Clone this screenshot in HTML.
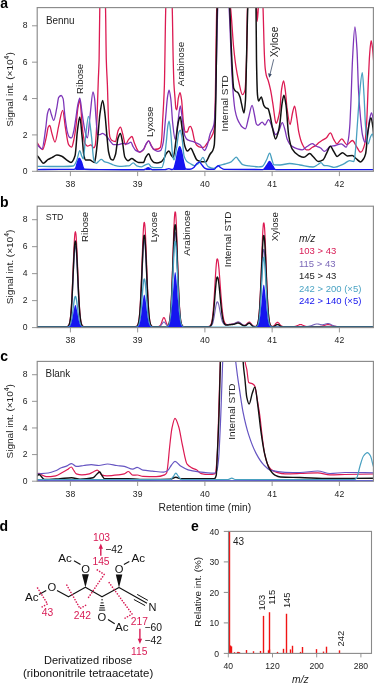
<!DOCTYPE html>
<html><head><meta charset="utf-8"><style>html,body{margin:0;padding:0;background:#fff;width:374px;height:685px;overflow:hidden}svg{display:block}</style></head><body>
<svg width="374" height="685" viewBox="0 0 374 685" font-family='"Liberation Sans", sans-serif'>
<rect width="374" height="685" fill="#fff"/>
<text x="0.3" y="8.2" font-size="14" font-weight="bold" fill="#000">a</text>
<text x="-0.1" y="206.8" font-size="14" font-weight="bold" fill="#000">b</text>
<text x="0.3" y="360.7" font-size="14" font-weight="bold" fill="#000">c</text>
<text x="-0.6" y="530.6" font-size="14" font-weight="bold" fill="#000">d</text>
<text x="191" y="531.1" font-size="14" font-weight="bold" fill="#000">e</text>
<defs><clipPath id="clipa"><rect x="37.2" y="7.6" width="336.2" height="163.70000000000002"/></clipPath><clipPath id="clipb"><rect x="37.2" y="206.2" width="336.2" height="121.40000000000003"/></clipPath><clipPath id="clipc"><rect x="37.2" y="361.4" width="336.2" height="119.80000000000001"/></clipPath></defs>
<g clip-path="url(#clipa)">
<path d="M36.00,141.50C36.33,141.90 36.67,142.30 37.00,142.70C38.87,144.95 40.73,149.50 42.60,149.50C43.83,149.50 45.07,142.25 46.30,137.10C46.93,134.46 47.57,128.46 48.20,127.20C48.70,126.20 49.20,125.30 49.70,125.30C50.43,125.30 51.17,131.05 51.90,133.40C52.93,136.72 53.97,142.10 55.00,142.10C56.23,142.10 57.47,130.97 58.70,125.90C60.03,120.41 61.37,110.40 62.70,110.40C63.63,110.40 64.57,123.01 65.50,128.40C66.53,134.37 67.57,143.07 68.60,144.60C69.60,146.08 70.60,147.20 71.60,147.20C72.33,147.20 73.07,143.14 73.80,140.00C74.43,137.29 75.07,133.08 75.70,128.50C76.47,122.95 77.23,111.61 78.00,107.50C78.60,104.28 79.20,100.50 79.80,100.50C80.77,100.50 81.73,123.95 82.70,130.90C83.47,136.41 84.23,142.43 85.00,143.70C85.83,145.08 86.67,146.10 87.50,146.10C88.63,146.10 89.77,144.90 90.90,144.90C91.87,144.90 92.83,147.80 93.80,147.80C94.27,147.80 94.73,146.89 95.20,145.50C95.53,144.51 95.87,139.46 96.20,134.60C96.57,129.26 96.93,119.42 97.30,110.00C97.63,101.44 97.97,89.06 98.30,80.00C98.57,72.75 98.83,70.12 99.10,60.00C99.33,51.14 99.57,13.44 99.80,7.30C100.73,-17.26 101.67,-30.00 102.60,-30.00C103.57,-30.00 104.53,-16.54 105.50,7.30C105.77,13.88 106.03,50.75 106.30,60.00C106.67,72.72 107.03,75.40 107.40,85.00C107.80,95.47 108.20,115.46 108.60,122.20C109.03,129.50 109.47,135.75 109.90,137.10C110.50,138.97 111.10,139.83 111.70,140.20C112.97,140.99 114.23,141.50 115.50,141.50C116.33,141.50 117.17,132.78 118.00,130.90C118.80,129.10 119.60,127.20 120.40,127.20C121.23,127.20 122.07,131.76 122.90,134.60C123.73,137.44 124.57,144.60 125.40,144.60C126.43,144.60 127.47,140.81 128.50,139.60C129.63,138.27 130.77,136.50 131.90,136.50C132.70,136.50 133.50,140.76 134.30,142.70C135.43,145.45 136.57,148.88 137.70,150.40C138.33,151.25 138.97,152.30 139.60,152.30C140.87,152.30 142.13,151.20 143.40,149.90C144.20,149.08 145.00,145.93 145.80,144.60C146.77,143.00 147.73,140.80 148.70,140.80C149.67,140.80 150.63,144.56 151.60,146.10C152.40,147.37 153.20,149.50 154.00,149.50C155.30,149.50 156.60,149.29 157.90,149.00C158.70,148.82 159.50,148.48 160.30,147.50C160.77,146.93 161.23,143.38 161.70,138.90C162.03,135.70 162.37,125.68 162.70,119.60C163.00,114.13 163.30,110.03 163.60,104.00C163.87,98.64 164.13,93.56 164.40,85.00C164.87,70.02 165.33,17.13 165.80,7.30C166.87,-15.16 167.93,-30.00 169.00,-30.00C170.07,-30.00 171.13,-15.61 172.20,7.30C172.53,14.46 172.87,47.04 173.20,60.00C173.47,70.36 173.73,80.11 174.00,85.00C174.33,91.12 174.67,93.59 175.00,97.70C175.30,101.40 175.60,107.73 175.90,108.50C176.20,109.27 176.50,109.80 176.80,109.80C177.33,109.80 177.87,100.00 178.40,97.70C178.97,95.26 179.53,92.60 180.10,92.60C180.60,92.60 181.10,96.69 181.60,100.20C182.23,104.65 182.87,118.83 183.50,123.10C184.13,127.37 184.77,132.00 185.40,132.00C186.03,132.00 186.67,132.00 187.30,132.00C187.93,132.00 188.57,127.38 189.20,126.90C189.63,126.57 190.07,126.30 190.50,126.30C191.13,126.30 191.77,128.74 192.40,130.70C193.03,132.66 193.67,137.63 194.30,139.60C195.13,142.20 195.97,144.50 196.80,145.30C197.87,146.33 198.93,147.09 200.00,147.20C201.20,147.32 202.40,147.40 203.60,147.40C204.73,147.40 205.87,144.96 207.00,143.50C208.07,142.12 209.13,140.75 210.20,138.80C211.57,136.30 212.93,136.14 214.30,128.60C214.63,126.76 214.97,113.97 215.30,100.00C215.53,90.22 215.77,64.30 216.00,50.00C216.27,33.66 216.53,10.93 216.80,7.30C218.87,-20.81 220.93,-30.00 223.00,-30.00C225.50,-30.00 228.00,-11.69 230.50,7.30C231.57,15.40 232.63,37.44 233.70,48.00C234.47,55.59 235.23,62.02 236.00,67.00C236.83,72.41 237.67,76.67 238.50,80.30C239.83,86.11 241.17,94.70 242.50,94.70C243.33,94.70 244.17,93.03 245.00,89.90C245.50,88.02 246.00,74.91 246.50,60.00C246.83,50.06 247.17,12.95 247.50,7.30C249.00,-18.11 250.50,-30.00 252.00,-30.00C253.50,-30.00 255.00,-13.64 256.50,7.30C256.70,10.09 256.90,21.40 257.10,21.40C257.53,21.40 257.97,12.57 258.40,7.30C259.27,-3.24 260.13,-30.00 261.00,-30.00C261.67,-30.00 262.33,-9.05 263.00,7.30C263.47,18.75 263.93,44.83 264.40,55.00C264.67,60.81 264.93,65.91 265.20,68.40C265.57,71.83 265.93,73.82 266.30,75.30C267.00,78.13 267.70,78.87 268.40,81.20C269.13,83.64 269.87,86.64 270.60,90.20C271.43,94.25 272.27,100.01 273.10,105.30C273.93,110.59 274.77,119.90 275.60,122.00C275.87,122.67 276.13,123.40 276.40,123.40C276.93,123.40 277.47,120.86 278.00,119.00C278.60,116.91 279.20,114.45 279.80,110.30C280.37,106.38 280.93,93.63 281.50,90.00C282.20,85.51 282.90,81.00 283.60,81.00C284.23,81.00 284.87,87.19 285.50,92.00C286.00,95.80 286.50,104.29 287.00,108.00C288.03,115.66 289.07,124.60 290.10,124.60C290.90,124.60 291.70,116.12 292.50,113.00C293.20,110.27 293.90,106.10 294.60,106.10C295.33,106.10 296.07,113.50 296.80,118.00C297.47,122.09 298.13,128.91 298.80,132.10C299.93,137.53 301.07,141.60 302.20,143.90C303.60,146.74 305.00,149.80 306.40,149.80C307.23,149.80 308.07,149.80 308.90,149.80C309.93,149.80 310.97,148.14 312.00,147.50C313.20,146.76 314.40,146.40 315.60,145.60C316.73,144.84 317.87,143.39 319.00,142.50C320.10,141.63 321.20,140.89 322.30,140.20C323.60,139.39 324.90,139.00 326.20,138.00C327.60,136.93 329.00,132.90 330.40,132.90C331.53,132.90 332.67,137.75 333.80,139.60C334.80,141.23 335.80,143.80 336.80,143.80C338.47,143.80 340.13,138.80 341.80,138.80C343.47,138.80 345.13,144.70 346.80,144.70C348.70,144.70 350.60,140.50 352.50,140.50C353.80,140.50 355.10,144.42 356.40,146.30C357.80,148.32 359.20,152.20 360.60,152.20C362.00,152.20 363.40,149.04 364.80,143.80C365.47,141.31 366.13,130.89 366.80,120.00C367.33,111.29 367.87,92.07 368.40,80.00C368.80,70.95 369.20,60.33 369.60,55.00C370.10,48.34 370.60,40.60 371.10,40.60C371.57,40.60 372.03,44.65 372.50,48.00C373.00,51.59 373.50,59.33 374.00,65.00" fill="none" stroke="#dc1a52" stroke-width="1.3" stroke-linejoin="round"/>
<path d="M36.00,144.00C36.33,144.20 36.67,144.37 37.00,144.60C38.67,145.73 40.33,148.90 42.00,148.90C43.23,148.90 44.47,136.78 45.70,128.40C46.30,124.32 46.90,115.87 47.50,113.50C48.13,111.00 48.77,108.60 49.40,108.60C50.03,108.60 50.67,112.45 51.30,114.20C52.10,116.41 52.90,120.40 53.70,120.40C54.77,120.40 55.83,112.38 56.90,107.30C57.50,104.44 58.10,98.24 58.70,97.40C59.53,96.24 60.37,95.50 61.20,95.50C61.83,95.50 62.47,96.82 63.10,98.60C63.70,100.29 64.30,111.31 64.90,116.00C65.73,122.51 66.57,129.04 67.40,132.10C68.03,134.42 68.67,136.70 69.30,137.10C70.07,137.58 70.83,137.90 71.60,137.90C72.33,137.90 73.07,134.08 73.80,131.00C74.43,128.34 75.07,123.25 75.70,119.20C76.47,114.30 77.23,107.28 78.00,104.00C78.60,101.44 79.20,98.20 79.80,98.20C80.57,98.20 81.33,108.55 82.10,113.40C83.07,119.51 84.03,127.14 85.00,130.90C85.80,134.01 86.60,137.90 87.40,137.90C88.37,137.90 89.33,121.34 90.30,113.40C91.20,106.01 92.10,91.80 93.00,91.80C93.50,91.80 94.00,94.87 94.50,98.00C95.03,101.34 95.57,112.80 96.10,119.20C96.57,124.80 97.03,134.60 97.50,134.60C98.33,134.60 99.17,134.60 100.00,134.60C100.80,134.60 101.60,133.40 102.40,133.40C103.67,133.40 104.93,134.78 106.20,135.90C107.43,136.99 108.67,139.37 109.90,140.80C111.13,142.23 112.37,144.60 113.60,144.60C115.27,144.60 116.93,144.60 118.60,144.60C120.23,144.60 121.87,143.30 123.50,143.30C124.77,143.30 126.03,143.80 127.30,143.80C128.53,143.80 129.77,142.10 131.00,142.10C131.60,142.10 132.20,145.02 132.80,146.10C133.77,147.85 134.73,149.79 135.70,150.40C137.00,151.22 138.30,151.90 139.60,151.90C140.87,151.90 142.13,150.74 143.40,149.50C144.37,148.55 145.33,145.15 146.30,143.70C147.10,142.50 147.90,140.80 148.70,140.80C149.50,140.80 150.30,144.31 151.10,145.60C152.07,147.16 153.03,148.79 154.00,149.50C155.30,150.45 156.60,151.40 157.90,151.40C158.87,151.40 159.83,151.02 160.80,150.40C161.60,149.89 162.40,146.61 163.20,142.70C164.03,138.63 164.87,125.49 165.70,116.70C166.33,110.02 166.97,100.15 167.60,96.40C168.10,93.44 168.60,90.10 169.10,90.10C169.67,90.10 170.23,94.83 170.80,99.00C171.43,103.66 172.07,117.52 172.70,123.10C173.53,130.44 174.37,139.60 175.20,139.60C176.07,139.60 176.93,128.81 177.80,123.10C178.63,117.61 179.47,106.00 180.30,106.00C180.93,106.00 181.57,113.85 182.20,118.00C183.07,123.68 183.93,133.65 184.80,135.80C185.63,137.86 186.47,139.05 187.30,139.60C188.37,140.30 189.43,140.52 190.50,140.90C191.77,141.35 193.03,141.63 194.30,142.10C196.20,142.80 198.10,143.41 200.00,144.70C201.53,145.74 203.07,150.50 204.60,150.50C205.40,150.50 206.20,147.98 207.00,146.00C208.07,143.35 209.13,136.88 210.20,133.70C211.40,130.12 212.60,130.22 213.80,125.00C214.27,122.97 214.73,117.88 215.20,110.00C215.63,102.69 216.07,77.10 216.50,60.00C216.93,42.90 217.37,13.44 217.80,7.30C219.53,-17.26 221.27,-30.00 223.00,-30.00C225.00,-30.00 227.00,-14.47 229.00,7.30C229.50,12.74 230.00,28.73 230.50,40.00C231.00,51.27 231.50,65.99 232.00,75.00C232.50,84.01 233.00,91.55 233.50,97.00C234.00,102.45 234.50,107.29 235.00,110.00C235.77,114.15 236.53,116.70 237.30,118.70C238.20,121.05 239.10,122.57 240.00,124.00C240.77,125.22 241.53,126.49 242.30,127.10C243.33,127.92 244.37,128.80 245.40,128.80C246.43,128.80 247.47,121.62 248.50,118.00C249.70,113.79 250.90,105.30 252.10,105.30C252.90,105.30 253.70,111.44 254.50,115.00C255.10,117.67 255.70,122.91 256.30,123.80C256.87,124.64 257.43,125.30 258.00,125.30C259.40,125.30 260.80,122.10 262.20,122.10C263.13,122.10 264.07,125.00 265.00,125.00C266.17,125.00 267.33,119.60 268.50,119.60C269.73,119.60 270.97,124.48 272.20,127.10C273.33,129.51 274.47,134.70 275.60,134.70C276.73,134.70 277.87,132.35 279.00,130.50C280.10,128.70 281.20,122.60 282.30,122.60C283.20,122.60 284.10,126.98 285.00,130.00C285.70,132.35 286.40,137.24 287.10,138.90C288.77,142.85 290.43,145.41 292.10,146.40C295.47,148.39 298.83,149.80 302.20,149.80C303.80,149.80 305.40,147.49 307.00,146.50C308.73,145.43 310.47,143.60 312.20,143.60C313.47,143.60 314.73,145.34 316.00,146.00C317.53,146.79 319.07,147.10 320.60,148.00C321.90,148.76 323.20,151.40 324.50,151.40C326.47,151.40 328.43,146.82 330.40,146.30C332.07,145.86 333.73,145.84 335.40,145.50C337.37,145.10 339.33,143.80 341.30,143.80C342.97,143.80 344.63,147.20 346.30,147.20C346.97,147.20 347.63,143.55 348.30,140.00C348.77,137.51 349.23,133.02 349.70,127.00C350.13,121.41 350.57,110.09 351.00,100.00C351.50,88.36 352.00,69.30 352.50,60.00C353.30,45.12 354.10,27.00 354.90,27.00C355.60,27.00 356.30,38.87 357.00,50.00C357.50,57.95 358.00,80.80 358.50,90.00C359.20,102.88 359.90,111.35 360.60,118.70C361.23,125.35 361.87,132.08 362.50,135.00C363.27,138.53 364.03,142.10 364.80,142.10C365.63,142.10 366.47,138.73 367.30,135.50C368.03,132.66 368.77,123.48 369.50,120.00C370.17,116.84 370.83,112.80 371.50,112.80C372.00,112.80 372.50,115.63 373.00,118.00C373.33,119.58 373.67,122.67 374.00,125.00" fill="none" stroke="#7d35b8" stroke-width="1.3" stroke-linejoin="round"/>
<path d="M36.00,155.50C36.33,155.57 36.67,155.60 37.00,155.70C38.03,156.02 39.07,158.15 40.10,159.40C41.13,160.65 42.17,163.20 43.20,163.20C44.87,163.20 46.53,160.38 48.20,159.40C49.43,158.68 50.67,158.21 51.90,157.60C53.57,156.78 55.23,155.10 56.90,155.10C58.53,155.10 60.17,155.70 61.80,156.30C63.47,156.92 65.13,159.04 66.80,160.10C68.20,160.99 69.60,162.40 71.00,162.40C72.37,162.40 73.73,159.71 75.10,155.40C75.87,152.98 76.63,136.69 77.40,130.90C78.20,124.86 79.00,116.90 79.80,116.90C80.57,116.90 81.33,129.45 82.10,136.70C82.70,142.37 83.30,152.79 83.90,155.40C84.47,157.86 85.03,160.10 85.60,160.10C86.97,160.10 88.33,160.10 89.70,160.10C91.27,160.10 92.83,162.40 94.40,162.40C94.77,162.40 95.13,159.93 95.50,158.00C96.17,154.48 96.83,147.19 97.50,140.80C98.33,132.82 99.17,119.10 100.00,113.50C100.90,107.46 101.80,100.50 102.70,100.50C103.43,100.50 104.17,107.80 104.90,113.50C105.53,118.42 106.17,128.06 106.80,134.60C107.40,140.80 108.00,149.20 108.60,152.00C109.43,155.89 110.27,158.87 111.10,159.40C111.73,159.80 112.37,160.10 113.00,160.10C113.83,160.10 114.67,157.27 115.50,154.50C116.33,151.73 117.17,140.88 118.00,138.30C118.80,135.82 119.60,133.40 120.40,133.40C121.03,133.40 121.67,137.75 122.30,140.80C123.13,144.81 123.97,155.28 124.80,157.00C125.83,159.14 126.87,160.70 127.90,160.70C129.23,160.70 130.57,158.60 131.90,158.60C132.87,158.60 133.83,159.93 134.80,160.50C136.07,161.24 137.33,162.50 138.60,162.50C140.20,162.50 141.80,162.50 143.40,162.50C144.20,162.50 145.00,158.44 145.80,157.20C146.77,155.70 147.73,153.80 148.70,153.80C149.50,153.80 150.30,157.86 151.10,159.10C152.07,160.60 153.03,162.26 154.00,162.50C154.97,162.74 155.93,162.90 156.90,162.90C158.20,162.90 159.50,162.51 160.80,162.00C161.80,161.61 162.80,160.14 163.80,158.70C164.63,157.50 165.47,154.72 166.30,153.60C167.17,152.43 168.03,151.00 168.90,151.00C169.73,151.00 170.57,154.44 171.40,155.50C172.03,156.30 172.67,157.40 173.30,157.40C174.17,157.40 175.03,146.91 175.90,140.90C176.73,135.12 177.57,125.04 178.40,121.80C179.03,119.34 179.67,116.70 180.30,116.70C180.93,116.70 181.57,125.26 182.20,129.40C183.07,135.07 183.93,143.37 184.80,146.00C185.63,148.53 186.47,151.00 187.30,151.00C188.47,151.00 189.63,148.30 190.80,148.30C191.77,148.30 192.73,151.74 193.70,153.60C194.73,155.59 195.77,159.11 196.80,159.90C197.87,160.72 198.93,161.02 200.00,161.40C200.33,161.52 200.67,161.70 201.00,161.70C202.73,161.70 204.47,161.70 206.20,161.70C206.50,161.70 206.80,160.74 207.10,160.20C208.13,158.35 209.17,155.65 210.20,154.00C211.07,152.61 211.93,152.29 212.80,150.50C213.30,149.47 213.80,148.31 214.30,144.90C214.63,142.63 214.97,130.90 215.30,120.40C215.47,115.15 215.63,108.53 215.80,100.00C216.03,88.06 216.27,64.30 216.50,50.00C216.77,33.66 217.03,11.99 217.30,7.30C219.20,-26.13 221.10,-40.00 223.00,-40.00C225.23,-40.00 227.47,-20.62 229.70,7.30C230.23,13.97 230.77,37.06 231.30,48.00C232.10,64.41 232.90,86.26 233.70,88.30C234.47,90.26 235.23,90.97 236.00,91.50C236.57,91.89 237.13,91.88 237.70,92.30C238.47,92.87 239.23,94.80 240.00,97.00C240.50,98.43 241.00,101.57 241.50,103.60C242.33,106.98 243.17,112.90 244.00,112.90C244.50,112.90 245.00,107.40 245.50,100.00C245.83,95.07 246.17,73.42 246.50,60.00C246.93,42.56 247.37,15.78 247.80,7.30C249.20,-20.10 250.60,-40.00 252.00,-40.00C253.33,-40.00 254.67,-28.45 256.00,7.30C256.17,11.77 256.33,50.72 256.50,60.00C256.83,78.55 257.17,91.54 257.50,95.00C257.83,98.46 258.17,101.10 258.50,101.10C259.43,101.10 260.37,96.90 261.30,96.90C262.13,96.90 262.97,103.85 263.80,105.30C264.50,106.51 265.20,107.36 265.90,107.80C266.60,108.24 267.30,108.17 268.00,108.70C268.67,109.21 269.33,112.41 270.00,115.00C270.83,118.24 271.67,124.48 272.50,128.00C273.53,132.37 274.57,138.90 275.60,138.90C276.40,138.90 277.20,135.70 278.00,133.00C278.60,130.97 279.20,127.68 279.80,123.80C280.53,119.06 281.27,108.45 282.00,104.00C282.63,100.16 283.27,95.20 283.90,95.20C284.60,95.20 285.30,100.46 286.00,105.00C286.90,110.84 287.80,130.14 288.70,135.50C289.83,142.25 290.97,146.97 292.10,148.90C294.33,152.71 296.57,154.49 298.80,155.60C300.47,156.43 302.13,157.30 303.80,157.30C305.77,157.30 307.73,153.60 309.70,153.60C310.97,153.60 312.23,155.82 313.50,157.00C315.03,158.43 316.57,161.50 318.10,161.50C319.77,161.50 321.43,160.79 323.10,159.80C324.40,159.03 325.70,154.69 327.00,152.30C328.13,150.22 329.27,146.30 330.40,146.30C331.43,146.30 332.47,149.44 333.50,151.00C334.70,152.81 335.90,156.40 337.10,156.40C338.90,156.40 340.70,152.70 342.50,152.70C344.07,152.70 345.63,155.90 347.20,155.90C348.87,155.90 350.53,155.60 352.20,155.60C353.47,155.60 354.73,157.55 356.00,158.50C357.53,159.65 359.07,161.90 360.60,161.90C361.57,161.90 362.53,160.40 363.50,159.00C364.20,157.99 364.90,156.56 365.60,153.90C366.43,150.74 367.27,135.40 368.10,130.40C369.07,124.60 370.03,117.80 371.00,117.80C371.67,117.80 372.33,123.00 373.00,128.00C373.33,130.50 373.67,136.00 374.00,140.00" fill="none" stroke="#111111" stroke-width="1.5" stroke-linejoin="round"/>
<path d="M36.00,166.30C36.33,166.30 36.67,166.30 37.00,166.30C41.33,166.30 45.67,166.50 50.00,166.50C54.67,166.50 59.33,166.50 64.00,166.50C67.10,166.50 70.20,166.37 73.30,166.00C74.50,165.86 75.70,162.74 76.90,160.10C77.87,157.97 78.83,150.70 79.80,150.70C80.37,150.70 80.93,154.10 81.50,155.40C82.10,156.77 82.70,158.90 83.30,158.90C84.07,158.90 84.83,142.98 85.60,136.70C86.57,128.79 87.53,116.30 88.50,116.30C89.50,116.30 90.50,128.48 91.50,136.70C92.27,143.00 93.03,158.17 93.80,160.10C94.57,162.03 95.33,163.40 96.10,163.40C96.90,163.40 97.70,162.13 98.50,161.50C99.40,160.79 100.30,159.40 101.20,159.40C102.43,159.40 103.67,161.46 104.90,161.90C106.13,162.34 107.37,162.42 108.60,162.80C110.27,163.31 111.93,164.52 113.60,165.00C115.67,165.59 117.73,166.30 119.80,166.30C121.87,166.30 123.93,166.12 126.00,166.00C127.00,165.94 128.00,165.92 129.00,165.80C130.43,165.63 131.87,162.90 133.30,162.90C134.43,162.90 135.57,165.41 136.70,165.80C138.30,166.35 139.90,166.80 141.50,166.80C142.47,166.80 143.43,165.69 144.40,165.30C145.83,164.72 147.27,163.90 148.70,163.90C149.50,163.90 150.30,166.52 151.10,166.80C152.73,167.37 154.37,167.70 156.00,167.70C157.90,167.70 159.80,167.70 161.70,167.70C162.40,167.70 163.10,164.79 163.80,162.00C164.63,158.67 165.47,149.66 166.30,142.10C166.83,137.26 167.37,128.42 167.90,125.60C168.30,123.48 168.70,121.20 169.10,121.20C169.67,121.20 170.23,128.26 170.80,133.30C171.43,138.93 172.07,153.23 172.70,156.10C173.13,158.06 173.57,159.90 174.00,159.90C174.83,159.90 175.67,152.99 176.50,148.50C177.33,144.01 178.17,133.87 179.00,132.00C179.43,131.03 179.87,130.10 180.30,130.10C180.93,130.10 181.57,135.58 182.20,139.60C182.83,143.62 183.47,154.00 184.10,156.10C184.97,158.97 185.83,160.32 186.70,161.20C187.97,162.49 189.23,162.98 190.50,163.70C191.77,164.42 193.03,165.60 194.30,165.60C195.57,165.60 196.83,164.61 198.10,163.70C198.73,163.24 199.37,162.39 200.00,161.60C200.97,160.39 201.93,157.30 202.90,157.30C203.77,157.30 204.63,160.97 205.50,162.50C206.37,164.03 207.23,166.10 208.10,166.60C209.97,167.68 211.83,168.40 213.70,168.40C215.57,168.40 217.43,165.90 219.30,165.30C221.20,164.69 223.10,164.51 225.00,164.00C226.87,163.50 228.73,163.14 230.60,162.20C231.57,161.71 232.53,160.36 233.50,159.50C234.40,158.70 235.30,157.20 236.20,157.20C237.13,157.20 238.07,159.43 239.00,160.50C240.23,161.91 241.47,164.16 242.70,164.60C244.90,165.39 247.10,165.61 249.30,165.90C252.40,166.31 255.50,166.80 258.60,166.80C259.80,166.80 261.00,166.68 262.20,166.50C263.63,166.28 265.07,162.57 266.50,160.00C267.57,158.09 268.63,153.10 269.70,153.10C270.47,153.10 271.23,157.88 272.00,160.00C272.63,161.75 273.27,164.88 273.90,164.90C275.93,164.98 277.97,165.00 280.00,165.00C283.20,165.00 286.40,163.50 289.60,163.50C293.07,163.50 296.53,164.49 300.00,165.00C304.37,165.65 308.73,167.00 313.10,167.00C314.73,167.00 316.37,165.41 318.00,164.50C319.00,163.94 320.00,162.70 321.00,162.70C322.00,162.70 323.00,165.44 324.00,165.50C325.00,165.56 326.00,165.55 327.00,165.60C329.27,165.72 331.53,167.30 333.80,167.30C337.13,167.30 340.47,165.34 343.80,163.90C345.77,163.05 347.73,160.60 349.70,160.60C351.10,160.60 352.50,161.50 353.90,161.50C354.43,161.50 354.97,154.99 355.50,150.00C356.07,144.70 356.63,134.77 357.20,127.00C357.97,116.49 358.73,102.86 359.50,95.00C360.43,85.43 361.37,72.60 362.30,72.60C362.87,72.60 363.43,85.98 364.00,95.00C364.53,103.49 365.07,121.43 365.60,127.00C366.43,135.70 367.27,143.80 368.10,143.80C368.90,143.80 369.70,138.73 370.50,137.00C371.10,135.70 371.70,133.80 372.30,133.80C372.87,133.80 373.43,137.93 374.00,140.00" fill="none" stroke="#48a0c0" stroke-width="1.3" stroke-linejoin="round"/>
<path d="M75.50,168.50C76.07,166.67 76.63,164.55 77.20,163.00C77.87,161.18 78.53,158.30 79.20,158.30C79.97,158.30 80.73,160.32 81.50,162.00C82.07,163.24 82.63,166.42 83.20,167.50C83.63,168.33 84.07,168.70 84.50,169.30L84.50,169.9L75.50,169.9Z" fill="#1515f0" stroke="none"/>
<path d="M146.00,168.80C146.73,168.43 147.47,167.70 148.20,167.70C148.93,167.70 149.67,168.43 150.40,168.80L150.40,169.9L146.00,169.9Z" fill="#1515f0" stroke="none"/>
<path d="M173.50,169.00C174.17,167.00 174.83,165.45 175.50,163.00C176.27,160.19 177.03,154.71 177.80,152.00C178.43,149.76 179.07,146.60 179.70,146.60C180.33,146.60 180.97,149.72 181.60,152.00C182.33,154.64 183.07,160.09 183.80,163.00C184.40,165.38 185.00,167.00 185.60,169.00L185.60,169.9L173.50,169.9Z" fill="#1515f0" stroke="none"/>
<path d="M263.50,169.40C264.33,168.43 265.17,167.60 266.00,166.50C266.77,165.49 267.53,164.08 268.30,163.00C268.70,162.44 269.10,161.40 269.50,161.40C269.93,161.40 270.37,162.41 270.80,163.00C271.53,164.01 272.27,165.39 273.00,166.50C273.67,167.51 274.33,168.43 275.00,169.40L275.00,169.9L263.50,169.9Z" fill="#1515f0" stroke="none"/>
<path d="M36.00,169.60C44.00,169.53 52.00,169.40 60.00,169.40C64.67,169.40 69.33,169.40 74.00,169.40C74.50,169.40 75.00,169.00 75.50,168.50C76.07,167.93 76.63,164.55 77.20,163.00C77.87,161.18 78.53,158.30 79.20,158.30C79.97,158.30 80.73,160.32 81.50,162.00C82.07,163.24 82.63,166.42 83.20,167.50C83.63,168.33 84.07,169.28 84.50,169.30C89.67,169.57 94.83,169.58 100.00,169.60C114.67,169.67 129.33,169.70 144.00,169.70C144.67,169.70 145.33,169.12 146.00,168.80C146.73,168.45 147.47,167.70 148.20,167.70C148.93,167.70 149.67,168.46 150.40,168.80C151.10,169.12 151.80,169.70 152.50,169.70C156.67,169.70 160.83,169.68 165.00,169.60C166.30,169.58 167.60,168.60 168.90,168.60C169.93,168.60 170.97,169.50 172.00,169.50C172.50,169.50 173.00,169.29 173.50,169.00C174.17,168.61 174.83,165.45 175.50,163.00C176.27,160.19 177.03,154.71 177.80,152.00C178.43,149.76 179.07,146.60 179.70,146.60C180.33,146.60 180.97,149.72 181.60,152.00C182.33,154.64 183.07,160.09 183.80,163.00C184.40,165.38 185.00,168.91 185.60,169.00C187.07,169.23 188.53,169.30 190.00,169.30C191.30,169.30 192.60,168.42 193.90,167.50C194.77,166.88 195.63,164.79 196.50,164.00C197.43,163.15 198.37,162.10 199.30,162.10C200.20,162.10 201.10,164.00 202.00,165.00C202.90,166.00 203.80,167.59 204.70,168.10C205.80,168.72 206.90,169.26 208.00,169.30C210.00,169.37 212.00,169.40 214.00,169.40C214.83,169.40 215.67,167.63 216.50,167.00C217.13,166.52 217.77,165.80 218.40,165.80C219.10,165.80 219.80,167.07 220.50,167.50C221.83,168.32 223.17,169.38 224.50,169.40C237.00,169.58 249.50,169.60 262.00,169.60C262.50,169.60 263.00,169.51 263.50,169.40C264.33,169.21 265.17,167.60 266.00,166.50C266.77,165.49 267.53,164.08 268.30,163.00C268.70,162.44 269.10,161.40 269.50,161.40C269.93,161.40 270.37,162.41 270.80,163.00C271.53,164.01 272.27,165.39 273.00,166.50C273.67,167.51 274.33,169.28 275.00,169.40C275.67,169.52 276.33,169.60 277.00,169.60C309.33,169.60 341.67,169.60 374.00,169.60" fill="none" stroke="#1515f0" stroke-width="1.4" stroke-linejoin="round"/>
</g>
<g clip-path="url(#clipb)">
<path d="M36.00,326.60C36.17,326.60 36.33,326.60 36.50,326.60C36.67,326.60 36.83,326.60 37.00,326.60C37.17,326.60 37.33,326.60 37.50,326.60C37.67,326.60 37.83,326.60 38.00,326.60C38.17,326.60 38.33,326.60 38.50,326.60C38.67,326.60 38.83,326.60 39.00,326.60C39.17,326.60 39.33,326.60 39.50,326.60C39.67,326.60 39.83,326.60 40.00,326.60C40.17,326.60 40.33,326.60 40.50,326.60C40.67,326.60 40.83,326.60 41.00,326.60C41.17,326.60 41.33,326.60 41.50,326.60C41.67,326.60 41.83,326.60 42.00,326.60C42.17,326.60 42.33,326.60 42.50,326.60C42.67,326.60 42.83,326.60 43.00,326.60C43.17,326.60 43.33,326.60 43.50,326.60C43.67,326.60 43.83,326.60 44.00,326.60C44.17,326.60 44.33,326.60 44.50,326.60C44.67,326.60 44.83,326.60 45.00,326.60C45.17,326.60 45.33,326.60 45.50,326.60C45.67,326.60 45.83,326.60 46.00,326.60C46.17,326.60 46.33,326.60 46.50,326.60C46.67,326.60 46.83,326.60 47.00,326.60C47.17,326.60 47.33,326.60 47.50,326.60C47.67,326.60 47.83,326.60 48.00,326.60C48.17,326.60 48.33,326.60 48.50,326.60C48.67,326.60 48.83,326.60 49.00,326.60C49.17,326.60 49.33,326.60 49.50,326.60C49.67,326.60 49.83,326.60 50.00,326.60C50.17,326.60 50.33,326.60 50.50,326.60C50.67,326.60 50.83,326.60 51.00,326.60C51.17,326.60 51.33,326.60 51.50,326.60C51.67,326.60 51.83,326.60 52.00,326.60C52.17,326.60 52.33,326.60 52.50,326.60C52.67,326.60 52.83,326.60 53.00,326.60C53.17,326.60 53.33,326.60 53.50,326.60C53.67,326.60 53.83,326.60 54.00,326.60C54.17,326.60 54.33,326.60 54.50,326.60C54.67,326.60 54.83,326.60 55.00,326.60C55.17,326.60 55.33,326.60 55.50,326.60C55.67,326.60 55.83,326.60 56.00,326.60C56.17,326.60 56.33,326.60 56.50,326.60C56.67,326.60 56.83,326.60 57.00,326.60C57.17,326.60 57.33,326.60 57.50,326.60C57.67,326.60 57.83,326.60 58.00,326.60C58.17,326.60 58.33,326.60 58.50,326.60C58.67,326.60 58.83,326.60 59.00,326.60C59.17,326.60 59.33,326.60 59.50,326.60C59.67,326.60 59.83,326.60 60.00,326.60C60.17,326.60 60.33,326.60 60.50,326.60C60.67,326.60 60.83,326.60 61.00,326.60C61.17,326.60 61.33,326.60 61.50,326.60C61.67,326.60 61.83,326.60 62.00,326.60C62.17,326.60 62.33,326.60 62.50,326.60C62.67,326.60 62.83,326.60 63.00,326.60C63.17,326.60 63.33,326.60 63.50,326.60C63.67,326.60 63.83,326.60 64.00,326.60C64.17,326.60 64.33,326.60 64.50,326.60C64.67,326.60 64.83,326.60 65.00,326.60C65.17,326.60 65.33,326.59 65.50,326.59C65.67,326.59 65.83,326.58 66.00,326.58C66.17,326.57 66.33,326.56 66.50,326.55C66.67,326.53 66.83,326.51 67.00,326.48C67.17,326.45 67.33,326.40 67.50,326.34C67.67,326.28 67.83,326.18 68.00,326.06C68.17,325.94 68.33,325.77 68.50,325.54C68.67,325.32 68.83,325.01 69.00,324.62C69.17,324.23 69.33,323.70 69.50,323.06C69.67,322.42 69.83,321.56 70.00,320.56C70.17,319.55 70.33,318.26 70.50,316.77C70.67,315.28 70.83,313.42 71.00,311.34C71.17,309.26 71.33,306.75 71.50,304.01C71.67,301.28 71.83,298.08 72.00,294.71C72.17,291.34 72.33,287.52 72.50,283.65C72.67,279.78 72.83,275.53 73.00,271.43C73.17,267.32 73.33,262.96 73.50,258.99C73.67,255.03 73.83,250.95 74.00,247.58C74.17,244.21 74.33,240.81 74.50,238.51C74.67,236.21 74.83,233.65 75.00,232.93C75.17,232.21 75.33,231.59 75.50,231.59C75.67,231.59 75.83,233.25 76.00,234.68C76.17,236.12 76.33,238.99 76.50,241.78C76.67,244.56 76.83,248.27 77.00,251.94C77.17,255.60 77.33,259.84 77.50,263.92C77.67,267.99 77.83,272.35 78.00,276.40C78.17,280.46 78.33,284.56 78.50,288.26C78.67,291.95 78.83,295.54 79.00,298.66C79.17,301.79 79.33,304.72 79.50,307.18C79.67,309.65 79.83,311.90 80.00,313.73C80.17,315.56 80.33,317.18 80.50,318.46C80.67,319.74 80.83,320.85 81.00,321.69C81.17,322.54 81.33,323.25 81.50,323.78C81.67,324.30 81.83,324.74 82.00,325.05C82.17,325.36 82.33,325.61 82.50,325.79C82.67,325.96 82.83,326.10 83.00,326.20C83.17,326.29 83.33,326.36 83.50,326.41C83.67,326.45 83.83,326.49 84.00,326.51C84.17,326.53 84.33,326.55 84.50,326.56C84.67,326.57 84.83,326.58 85.00,326.58C85.17,326.59 85.33,326.59 85.50,326.59C85.67,326.60 85.83,326.60 86.00,326.60C86.17,326.60 86.33,326.60 86.50,326.60C86.67,326.60 86.83,326.60 87.00,326.60C87.17,326.60 87.33,326.60 87.50,326.60C87.67,326.60 87.83,326.60 88.00,326.60C88.17,326.60 88.33,326.60 88.50,326.60C88.67,326.60 88.83,326.60 89.00,326.60C89.17,326.60 89.33,326.60 89.50,326.60C89.67,326.60 89.83,326.60 90.00,326.60C90.17,326.60 90.33,326.60 90.50,326.60C90.67,326.60 90.83,326.60 91.00,326.60C91.17,326.60 91.33,326.60 91.50,326.60C91.67,326.60 91.83,326.60 92.00,326.60C92.17,326.60 92.33,326.60 92.50,326.60C92.67,326.60 92.83,326.60 93.00,326.60C93.17,326.60 93.33,326.60 93.50,326.60C93.67,326.60 93.83,326.60 94.00,326.60C94.17,326.60 94.33,326.60 94.50,326.60C94.67,326.60 94.83,326.60 95.00,326.60C95.17,326.60 95.33,326.60 95.50,326.60C95.67,326.60 95.83,326.60 96.00,326.60C96.17,326.60 96.33,326.60 96.50,326.60C96.67,326.60 96.83,326.60 97.00,326.60C97.17,326.60 97.33,326.60 97.50,326.60C97.67,326.60 97.83,326.60 98.00,326.60C98.17,326.60 98.33,326.60 98.50,326.60C98.67,326.60 98.83,326.60 99.00,326.60C99.17,326.60 99.33,326.60 99.50,326.60C99.67,326.60 99.83,326.60 100.00,326.60C100.17,326.60 100.33,326.60 100.50,326.60C100.67,326.60 100.83,326.60 101.00,326.60C101.17,326.60 101.33,326.60 101.50,326.60C101.67,326.60 101.83,326.60 102.00,326.60C102.17,326.60 102.33,326.60 102.50,326.60C102.67,326.60 102.83,326.60 103.00,326.60C103.17,326.60 103.33,326.60 103.50,326.60C103.67,326.60 103.83,326.60 104.00,326.60C104.17,326.60 104.33,326.60 104.50,326.60C104.67,326.60 104.83,326.60 105.00,326.60C105.17,326.60 105.33,326.60 105.50,326.60C105.67,326.60 105.83,326.60 106.00,326.60C106.17,326.60 106.33,326.60 106.50,326.60C106.67,326.60 106.83,326.60 107.00,326.60C107.17,326.60 107.33,326.60 107.50,326.60C107.67,326.60 107.83,326.60 108.00,326.60C108.17,326.60 108.33,326.60 108.50,326.60C108.67,326.60 108.83,326.60 109.00,326.60C109.17,326.60 109.33,326.60 109.50,326.60C109.67,326.60 109.83,326.60 110.00,326.60C110.17,326.60 110.33,326.60 110.50,326.60C110.67,326.60 110.83,326.60 111.00,326.60C111.17,326.60 111.33,326.60 111.50,326.60C111.67,326.60 111.83,326.60 112.00,326.60C112.17,326.60 112.33,326.60 112.50,326.60C112.67,326.60 112.83,326.60 113.00,326.60C113.17,326.60 113.33,326.60 113.50,326.60C113.67,326.60 113.83,326.60 114.00,326.60C114.17,326.60 114.33,326.60 114.50,326.60C114.67,326.60 114.83,326.60 115.00,326.60C115.17,326.60 115.33,326.60 115.50,326.60C115.67,326.60 115.83,326.60 116.00,326.60C116.17,326.60 116.33,326.60 116.50,326.60C116.67,326.60 116.83,326.60 117.00,326.60C117.17,326.60 117.33,326.60 117.50,326.60C117.67,326.60 117.83,326.60 118.00,326.60C118.17,326.60 118.33,326.60 118.50,326.60C118.67,326.60 118.83,326.60 119.00,326.60C119.17,326.60 119.33,326.60 119.50,326.60C119.67,326.60 119.83,326.60 120.00,326.60C120.17,326.60 120.33,326.60 120.50,326.60C120.67,326.60 120.83,326.60 121.00,326.60C121.17,326.60 121.33,326.60 121.50,326.60C121.67,326.60 121.83,326.60 122.00,326.60C122.17,326.60 122.33,326.60 122.50,326.60C122.67,326.60 122.83,326.60 123.00,326.60C123.17,326.60 123.33,326.60 123.50,326.60C123.67,326.60 123.83,326.60 124.00,326.60C124.17,326.60 124.33,326.60 124.50,326.60C124.67,326.60 124.83,326.60 125.00,326.60C125.17,326.60 125.33,326.60 125.50,326.60C125.67,326.60 125.83,326.60 126.00,326.60C126.17,326.60 126.33,326.60 126.50,326.60C126.67,326.60 126.83,326.60 127.00,326.60C127.17,326.60 127.33,326.60 127.50,326.60C127.67,326.60 127.83,326.60 128.00,326.60C128.17,326.60 128.33,326.60 128.50,326.60C128.67,326.60 128.83,326.60 129.00,326.60C129.17,326.60 129.33,326.60 129.50,326.60C129.67,326.60 129.83,326.60 130.00,326.60C130.17,326.60 130.33,326.60 130.50,326.60C130.67,326.60 130.83,326.60 131.00,326.60C131.17,326.60 131.33,326.60 131.50,326.60C131.67,326.60 131.83,326.60 132.00,326.60C132.17,326.60 132.33,326.60 132.50,326.60C132.67,326.60 132.83,326.60 133.00,326.60C133.17,326.60 133.33,326.60 133.50,326.60C133.67,326.60 133.83,326.60 134.00,326.60C134.17,326.59 134.33,326.59 134.50,326.59C134.67,326.58 134.83,326.58 135.00,326.57C135.17,326.56 135.33,326.55 135.50,326.53C135.67,326.51 135.83,326.48 136.00,326.44C136.17,326.41 136.33,326.35 136.50,326.27C136.67,326.19 136.83,326.07 137.00,325.92C137.17,325.77 137.33,325.55 137.50,325.28C137.67,325.00 137.83,324.62 138.00,324.14C138.17,323.67 138.33,323.02 138.50,322.25C138.67,321.47 138.83,320.45 139.00,319.25C139.17,318.05 139.33,316.51 139.50,314.75C139.67,312.99 139.83,310.81 140.00,308.38C140.17,305.95 140.33,303.03 140.50,299.88C140.67,296.73 140.83,293.06 141.00,289.23C141.17,285.40 141.33,281.08 141.50,276.74C141.67,272.41 141.83,267.68 142.00,263.16C142.17,258.63 142.33,253.87 142.50,249.59C142.67,245.32 142.83,240.95 143.00,237.44C143.17,233.93 143.33,230.38 143.50,228.14C143.67,225.90 143.83,223.19 144.00,222.89C144.17,222.59 144.33,222.39 144.50,222.39C144.67,222.39 144.83,224.81 145.00,226.73C145.17,228.65 145.33,232.01 145.50,235.31C145.67,238.61 145.83,242.84 146.00,247.00C146.17,251.16 146.33,255.89 146.50,260.40C146.67,264.91 146.83,269.68 147.00,274.08C147.17,278.49 147.33,282.91 147.50,286.86C147.67,290.82 147.83,294.63 148.00,297.92C148.17,301.21 148.33,304.29 148.50,306.86C148.67,309.43 148.83,311.75 149.00,313.64C149.17,315.52 149.33,317.18 149.50,318.48C149.67,319.78 149.83,320.90 150.00,321.75C150.17,322.60 150.33,323.31 150.50,323.84C150.67,324.36 150.83,324.79 151.00,325.10C151.17,325.40 151.33,325.65 151.50,325.82C151.67,325.99 151.83,326.13 152.00,326.21C152.17,326.30 152.33,326.37 152.50,326.42C152.67,326.46 152.83,326.50 153.00,326.52C153.17,326.54 153.33,326.56 153.50,326.56C153.67,326.57 153.83,326.58 154.00,326.59C154.17,326.59 154.33,326.59 154.50,326.59C154.67,326.60 154.83,326.60 155.00,326.60C155.17,326.60 155.33,326.60 155.50,326.60C155.67,326.60 155.83,326.60 156.00,326.60C156.17,326.60 156.33,326.60 156.50,326.60C156.67,326.60 156.83,326.60 157.00,326.59C157.17,326.59 157.33,326.59 157.50,326.58C157.67,326.58 157.83,326.57 158.00,326.56C158.17,326.55 158.33,326.53 158.50,326.50C158.67,326.47 158.83,326.43 159.00,326.38C159.17,326.33 159.33,326.24 159.50,326.15C159.67,326.05 159.83,325.91 160.00,325.74C160.17,325.57 160.33,325.35 160.50,325.09C160.67,324.83 160.83,324.50 161.00,324.14C161.17,323.78 161.33,323.35 161.50,322.90C161.67,322.45 161.83,321.94 162.00,321.44C162.17,320.95 162.33,320.41 162.50,319.95C162.67,319.49 162.83,319.00 163.00,318.66C163.17,318.32 163.33,317.93 163.50,317.82C163.67,317.71 163.83,317.61 164.00,317.61C164.17,317.61 164.33,317.87 164.50,318.08C164.67,318.30 164.83,318.73 165.00,319.13C165.17,319.52 165.33,320.04 165.50,320.52C165.67,321.00 165.83,321.54 166.00,322.00C166.17,322.47 166.33,322.95 166.50,323.34C166.67,323.72 166.83,324.11 167.00,324.36C167.17,324.61 167.33,324.89 167.50,324.96C167.67,325.02 167.83,325.07 168.00,325.07C168.17,325.07 168.33,324.83 168.50,324.60C168.67,324.37 168.83,323.91 169.00,323.39C169.17,322.87 169.33,322.09 169.50,321.18C169.67,320.27 169.83,319.04 170.00,317.62C170.17,316.20 170.33,314.37 170.50,312.30C170.67,310.23 170.83,307.66 171.00,304.83C171.17,302.00 171.33,298.62 171.50,294.99C171.67,291.35 171.83,287.15 172.00,282.80C172.17,278.44 172.33,273.57 172.50,268.71C172.67,263.86 172.83,258.60 173.00,253.63C173.17,248.65 173.33,243.45 173.50,238.86C173.67,234.27 173.83,229.61 174.00,225.97C174.17,222.34 174.33,218.64 174.50,216.52C174.67,214.40 174.83,211.74 175.00,211.74C175.17,211.74 175.33,211.95 175.50,212.28C175.67,212.61 175.83,215.60 176.00,218.07C176.17,220.54 176.33,224.45 176.50,228.32C176.67,232.19 176.83,237.00 177.00,241.71C177.17,246.42 177.33,251.68 177.50,256.67C177.67,261.66 177.83,266.86 178.00,271.64C178.17,276.43 178.33,281.18 178.50,285.41C178.67,289.63 178.83,293.68 179.00,297.15C179.17,300.62 179.33,303.84 179.50,306.52C179.67,309.19 179.83,311.60 180.00,313.54C180.17,315.47 180.33,317.17 180.50,318.49C180.67,319.82 180.83,320.95 181.00,321.80C181.17,322.66 181.33,323.37 181.50,323.89C181.67,324.41 181.83,324.84 182.00,325.14C182.17,325.44 182.33,325.69 182.50,325.85C182.67,326.02 182.83,326.15 183.00,326.23C183.17,326.32 183.33,326.39 183.50,326.43C183.67,326.47 183.83,326.50 184.00,326.52C184.17,326.54 184.33,326.56 184.50,326.57C184.67,326.58 184.83,326.58 185.00,326.59C185.17,326.59 185.33,326.59 185.50,326.59C185.67,326.60 185.83,326.60 186.00,326.60C186.17,326.60 186.33,326.60 186.50,326.60C186.67,326.60 186.83,326.60 187.00,326.60C187.17,326.60 187.33,326.60 187.50,326.60C187.67,326.60 187.83,326.60 188.00,326.60C188.17,326.60 188.33,326.60 188.50,326.60C188.67,326.60 188.83,326.60 189.00,326.60C189.17,326.60 189.33,326.60 189.50,326.60C189.67,326.60 189.83,326.60 190.00,326.60C190.17,326.60 190.33,326.60 190.50,326.60C190.67,326.60 190.83,326.60 191.00,326.60C191.17,326.60 191.33,326.60 191.50,326.60C191.67,326.60 191.83,326.60 192.00,326.60C192.17,326.60 192.33,326.60 192.50,326.60C192.67,326.60 192.83,326.60 193.00,326.60C193.17,326.60 193.33,326.60 193.50,326.60C193.67,326.60 193.83,326.60 194.00,326.60C194.17,326.60 194.33,326.60 194.50,326.60C194.67,326.60 194.83,326.60 195.00,326.60C195.17,326.60 195.33,326.60 195.50,326.60C195.67,326.60 195.83,326.60 196.00,326.60C196.17,326.60 196.33,326.60 196.50,326.60C196.67,326.60 196.83,326.60 197.00,326.60C197.17,326.60 197.33,326.60 197.50,326.60C197.67,326.60 197.83,326.60 198.00,326.60C198.17,326.60 198.33,326.60 198.50,326.60C198.67,326.60 198.83,326.60 199.00,326.60C199.17,326.60 199.33,326.60 199.50,326.60C199.67,326.60 199.83,326.60 200.00,326.60C200.17,326.60 200.33,326.60 200.50,326.60C200.67,326.60 200.83,326.60 201.00,326.60C201.17,326.60 201.33,326.60 201.50,326.60C201.67,326.60 201.83,326.60 202.00,326.60C202.17,326.60 202.33,326.60 202.50,326.60C202.67,326.60 202.83,326.60 203.00,326.60C203.17,326.60 203.33,326.60 203.50,326.60C203.67,326.60 203.83,326.60 204.00,326.60C204.17,326.60 204.33,326.60 204.50,326.60C204.67,326.60 204.83,326.60 205.00,326.59C205.17,326.59 205.33,326.59 205.50,326.59C205.67,326.59 205.83,326.59 206.00,326.59C206.17,326.59 206.33,326.59 206.50,326.59C206.67,326.59 206.83,326.58 207.00,326.58C207.17,326.58 207.33,326.57 207.50,326.57C207.67,326.56 207.83,326.56 208.00,326.54C208.17,326.53 208.33,326.52 208.50,326.50C208.67,326.48 208.83,326.44 209.00,326.40C209.17,326.36 209.33,326.30 209.50,326.22C209.67,326.15 209.83,326.04 210.00,325.90C210.17,325.76 210.33,325.57 210.50,325.33C210.67,325.10 210.83,324.78 211.00,324.39C211.17,324.00 211.33,323.49 211.50,322.89C211.67,322.29 211.83,321.51 212.00,320.62C212.17,319.73 212.33,318.62 212.50,317.36C212.67,316.11 212.83,314.59 213.00,312.91C213.17,311.24 213.33,309.28 213.50,307.18C213.67,305.08 213.83,302.67 214.00,300.19C214.17,297.71 214.33,294.95 214.50,292.21C214.67,289.46 214.83,286.51 215.00,283.70C215.17,280.89 215.33,277.96 215.50,275.35C215.67,272.74 215.83,270.10 216.00,267.97C216.17,265.85 216.33,263.72 216.50,262.37C216.67,261.02 216.83,259.44 217.00,259.20C217.17,258.96 217.33,258.79 217.50,258.79C217.67,258.79 217.83,259.75 218.00,260.53C218.17,261.30 218.33,262.69 218.50,264.08C218.67,265.48 218.83,267.30 219.00,269.15C219.17,271.01 219.33,273.17 219.50,275.33C219.67,277.48 219.83,279.84 220.00,282.13C220.17,284.43 220.33,286.83 220.50,289.12C220.67,291.41 220.83,293.71 221.00,295.87C221.17,298.02 221.33,300.13 221.50,302.06C221.67,303.99 221.83,305.84 222.00,307.49C222.17,309.14 222.33,310.69 222.50,312.04C222.67,313.39 222.83,314.64 223.00,315.71C223.17,316.77 223.33,317.73 223.50,318.54C223.67,319.34 223.83,320.06 224.00,320.64C224.17,321.22 224.33,321.73 224.50,322.13C224.67,322.54 224.83,322.89 225.00,323.15C225.17,323.42 225.33,323.65 225.50,323.81C225.67,323.98 225.83,324.12 226.00,324.21C226.17,324.31 226.33,324.39 226.50,324.43C226.67,324.48 226.83,324.52 227.00,324.54C227.17,324.55 227.33,324.57 227.50,324.57C227.67,324.57 227.83,324.56 228.00,324.55C228.17,324.54 228.33,324.53 228.50,324.51C228.67,324.50 228.83,324.48 229.00,324.46C229.17,324.44 229.33,324.42 229.50,324.41C229.67,324.39 229.83,324.37 230.00,324.35C230.17,324.33 230.33,324.32 230.50,324.30C230.67,324.28 230.83,324.26 231.00,324.25C231.17,324.23 231.33,324.21 231.50,324.19C231.67,324.18 231.83,324.16 232.00,324.14C232.17,324.12 232.33,324.09 232.50,324.07C232.67,324.05 232.83,324.02 233.00,323.99C233.17,323.96 233.33,323.92 233.50,323.88C233.67,323.84 233.83,323.79 234.00,323.74C234.17,323.69 234.33,323.64 234.50,323.57C234.67,323.51 234.83,323.44 235.00,323.37C235.17,323.30 235.33,323.22 235.50,323.15C235.67,323.07 235.83,322.99 236.00,322.91C236.17,322.83 236.33,322.75 236.50,322.68C236.67,322.61 236.83,322.53 237.00,322.48C237.17,322.42 237.33,322.36 237.50,322.34C237.67,322.31 237.83,322.27 238.00,322.27C238.17,322.27 238.33,322.29 238.50,322.31C238.67,322.32 238.83,322.38 239.00,322.44C239.17,322.49 239.33,322.57 239.50,322.66C239.67,322.74 239.83,322.85 240.00,322.96C240.17,323.07 240.33,323.19 240.50,323.31C240.67,323.43 240.83,323.56 241.00,323.69C241.17,323.81 241.33,323.94 241.50,324.06C241.67,324.19 241.83,324.31 242.00,324.42C242.17,324.53 242.33,324.64 242.50,324.73C242.67,324.83 242.83,324.92 243.00,324.99C243.17,325.07 243.33,325.14 243.50,325.19C243.67,325.24 243.83,325.29 244.00,325.31C244.17,325.32 244.33,325.34 244.50,325.34C244.67,325.34 244.83,325.30 245.00,325.27C245.17,325.23 245.33,325.15 245.50,325.07C245.67,324.99 245.83,324.86 246.00,324.74C246.17,324.61 246.33,324.45 246.50,324.28C246.67,324.11 246.83,323.92 247.00,323.73C247.17,323.54 247.33,323.32 247.50,323.14C247.67,322.95 247.83,322.75 248.00,322.59C248.17,322.44 248.33,322.27 248.50,322.19C248.67,322.10 248.83,322.00 249.00,322.00C249.17,322.00 249.33,322.03 249.50,322.06C249.67,322.10 249.83,322.25 250.00,322.38C250.17,322.51 250.33,322.71 250.50,322.90C250.67,323.09 250.83,323.32 251.00,323.54C251.17,323.76 251.33,324.00 251.50,324.21C251.67,324.43 251.83,324.65 252.00,324.84C252.17,325.03 252.33,325.22 252.50,325.37C252.67,325.53 252.83,325.67 253.00,325.79C253.17,325.90 253.33,326.00 253.50,326.08C253.67,326.16 253.83,326.22 254.00,326.27C254.17,326.32 254.33,326.36 254.50,326.38C254.67,326.39 254.83,326.41 255.00,326.41C255.17,326.41 255.33,326.39 255.50,326.37C255.67,326.35 255.83,326.29 256.00,326.22C256.17,326.15 256.33,326.03 256.50,325.89C256.67,325.74 256.83,325.52 257.00,325.25C257.17,324.98 257.33,324.60 257.50,324.13C257.67,323.66 257.83,323.02 258.00,322.25C258.17,321.48 258.33,320.45 258.50,319.26C258.67,318.07 258.83,316.53 259.00,314.78C259.17,313.03 259.33,310.86 259.50,308.44C259.67,306.02 259.83,303.12 260.00,299.98C260.17,296.84 260.33,293.18 260.50,289.37C260.67,285.55 260.83,281.25 261.00,276.93C261.17,272.61 261.33,267.90 261.50,263.40C261.67,258.89 261.83,254.14 262.00,249.88C262.17,245.63 262.33,241.28 262.50,237.78C262.67,234.28 262.83,230.74 263.00,228.51C263.17,226.28 263.33,223.58 263.50,223.28C263.67,222.98 263.83,222.79 264.00,222.79C264.17,222.79 264.33,225.20 264.50,227.11C264.67,229.03 264.83,232.37 265.00,235.66C265.17,238.94 265.33,243.16 265.50,247.31C265.67,251.45 265.83,256.16 266.00,260.65C266.17,265.15 266.33,269.90 266.50,274.28C266.67,278.67 266.83,283.08 267.00,287.01C267.17,290.95 267.33,294.75 267.50,298.03C267.67,301.31 267.83,304.37 268.00,306.93C268.17,309.49 268.33,311.81 268.50,313.68C268.67,315.56 268.83,317.21 269.00,318.51C269.17,319.81 269.33,320.92 269.50,321.77C269.67,322.61 269.83,323.32 270.00,323.84C270.17,324.36 270.33,324.79 270.50,325.09C270.67,325.40 270.83,325.64 271.00,325.80C271.17,325.96 271.33,326.10 271.50,326.17C271.67,326.24 271.83,326.32 272.00,326.32C272.17,326.33 272.33,326.33 272.50,326.33C272.67,326.33 272.83,326.27 273.00,326.22C273.17,326.18 273.33,326.09 273.50,326.00C273.67,325.91 273.83,325.79 274.00,325.66C274.17,325.53 274.33,325.37 274.50,325.20C274.67,325.03 274.83,324.83 275.00,324.63C275.17,324.43 275.33,324.20 275.50,323.99C275.67,323.78 275.83,323.55 276.00,323.35C276.17,323.16 276.33,322.95 276.50,322.81C276.67,322.66 276.83,322.50 277.00,322.43C277.17,322.37 277.33,322.30 277.50,322.30C277.67,322.30 277.83,322.37 278.00,322.43C278.17,322.50 278.33,322.66 278.50,322.81C278.67,322.95 278.83,323.16 279.00,323.35C279.17,323.55 279.33,323.78 279.50,323.99C279.67,324.20 279.83,324.43 280.00,324.63C280.17,324.83 280.33,325.03 280.50,325.20C280.67,325.38 280.83,325.54 281.00,325.67C281.17,325.80 281.33,325.92 281.50,326.02C281.67,326.11 281.83,326.20 282.00,326.26C282.17,326.32 282.33,326.37 282.50,326.41C282.67,326.45 282.83,326.48 283.00,326.50C283.17,326.52 283.33,326.54 283.50,326.55C283.67,326.56 283.83,326.57 284.00,326.58C284.17,326.58 284.33,326.59 284.50,326.59C284.67,326.59 284.83,326.60 285.00,326.60C285.17,326.60 285.33,326.60 285.50,326.60C285.67,326.60 285.83,326.60 286.00,326.60C286.17,326.60 286.33,326.60 286.50,326.60C286.67,326.60 286.83,326.60 287.00,326.60C287.17,326.60 287.33,326.60 287.50,326.60C287.67,326.60 287.83,326.60 288.00,326.60C288.17,326.60 288.33,326.60 288.50,326.60C288.67,326.60 288.83,326.60 289.00,326.60C289.17,326.60 289.33,326.60 289.50,326.60C289.67,326.60 289.83,326.60 290.00,326.60C290.17,326.60 290.33,326.60 290.50,326.60C290.67,326.60 290.83,326.60 291.00,326.60C291.17,326.60 291.33,326.60 291.50,326.60C291.67,326.60 291.83,326.59 292.00,326.59C292.17,326.59 292.33,326.59 292.50,326.59C292.67,326.58 292.83,326.58 293.00,326.58C293.17,326.57 293.33,326.57 293.50,326.56C293.67,326.55 293.83,326.54 294.00,326.53C294.17,326.52 294.33,326.50 294.50,326.48C294.67,326.46 294.83,326.44 295.00,326.41C295.17,326.39 295.33,326.35 295.50,326.32C295.67,326.28 295.83,326.23 296.00,326.18C296.17,326.14 296.33,326.08 296.50,326.02C296.67,325.95 296.83,325.88 297.00,325.81C297.17,325.74 297.33,325.66 297.50,325.58C297.67,325.50 297.83,325.41 298.00,325.33C298.17,325.24 298.33,325.15 298.50,325.08C298.67,325.00 298.83,324.91 299.00,324.85C299.17,324.78 299.33,324.71 299.50,324.66C299.67,324.61 299.83,324.56 300.00,324.54C300.17,324.52 300.33,324.50 300.50,324.50C300.67,324.50 300.83,324.52 301.00,324.54C301.17,324.56 301.33,324.61 301.50,324.66C301.67,324.71 301.83,324.78 302.00,324.85C302.17,324.91 302.33,325.00 302.50,325.08C302.67,325.15 302.83,325.24 303.00,325.33C303.17,325.41 303.33,325.50 303.50,325.58C303.67,325.66 303.83,325.74 304.00,325.81C304.17,325.88 304.33,325.95 304.50,326.02C304.67,326.08 304.83,326.14 305.00,326.18C305.17,326.23 305.33,326.28 305.50,326.32C305.67,326.35 305.83,326.39 306.00,326.41C306.17,326.44 306.33,326.46 306.50,326.48C306.67,326.50 306.83,326.52 307.00,326.53C307.17,326.54 307.33,326.55 307.50,326.56C307.67,326.57 307.83,326.57 308.00,326.58C308.17,326.58 308.33,326.58 308.50,326.59C308.67,326.59 308.83,326.59 309.00,326.59C309.17,326.59 309.33,326.60 309.50,326.60C309.67,326.60 309.83,326.60 310.00,326.60C310.17,326.60 310.33,326.60 310.50,326.60C310.67,326.60 310.83,326.60 311.00,326.60C311.17,326.60 311.33,326.60 311.50,326.60C311.67,326.60 311.83,326.60 312.00,326.60C312.17,326.60 312.33,326.60 312.50,326.60C312.67,326.60 312.83,326.60 313.00,326.60C313.17,326.60 313.33,326.60 313.50,326.60C313.67,326.60 313.83,326.60 314.00,326.60C314.17,326.60 314.33,326.60 314.50,326.60C314.67,326.60 314.83,326.60 315.00,326.60C315.17,326.60 315.33,326.60 315.50,326.60C315.67,326.60 315.83,326.60 316.00,326.59C316.17,326.59 316.33,326.59 316.50,326.59C316.67,326.59 316.83,326.59 317.00,326.59C317.17,326.58 317.33,326.58 317.50,326.58C317.67,326.57 317.83,326.57 318.00,326.57C318.17,326.56 318.33,326.56 318.50,326.55C318.67,326.54 318.83,326.54 319.00,326.53C319.17,326.52 319.33,326.51 319.50,326.50C319.67,326.48 319.83,326.47 320.00,326.45C320.17,326.44 320.33,326.42 320.50,326.40C320.67,326.38 320.83,326.35 321.00,326.33C321.17,326.30 321.33,326.27 321.50,326.24C321.67,326.21 321.83,326.18 322.00,326.14C322.17,326.10 322.33,326.06 322.50,326.02C322.67,325.97 322.83,325.93 323.00,325.88C323.17,325.83 323.33,325.78 323.50,325.72C323.67,325.67 323.83,325.62 324.00,325.56C324.17,325.50 324.33,325.44 324.50,325.39C324.67,325.33 324.83,325.27 325.00,325.21C325.17,325.16 325.33,325.10 325.50,325.05C325.67,325.00 325.83,324.95 326.00,324.90C326.17,324.86 326.33,324.81 326.50,324.78C326.67,324.74 326.83,324.70 327.00,324.68C327.17,324.66 327.33,324.63 327.50,324.62C327.67,324.61 327.83,324.60 328.00,324.60C328.17,324.60 328.33,324.61 328.50,324.62C328.67,324.63 328.83,324.66 329.00,324.68C329.17,324.70 329.33,324.74 329.50,324.78C329.67,324.81 329.83,324.86 330.00,324.90C330.17,324.95 330.33,325.00 330.50,325.05C330.67,325.10 330.83,325.16 331.00,325.21C331.17,325.27 331.33,325.33 331.50,325.39C331.67,325.44 331.83,325.50 332.00,325.56C332.17,325.62 332.33,325.67 332.50,325.72C332.67,325.78 332.83,325.83 333.00,325.88C333.17,325.93 333.33,325.97 333.50,326.02C333.67,326.06 333.83,326.10 334.00,326.14C334.17,326.18 334.33,326.21 334.50,326.24C334.67,326.27 334.83,326.30 335.00,326.33C335.17,326.35 335.33,326.38 335.50,326.40C335.67,326.42 335.83,326.44 336.00,326.45C336.17,326.47 336.33,326.48 336.50,326.50C336.67,326.51 336.83,326.52 337.00,326.53C337.17,326.54 337.33,326.54 337.50,326.55C337.67,326.56 337.83,326.56 338.00,326.57C338.17,326.57 338.33,326.57 338.50,326.58C338.67,326.58 338.83,326.58 339.00,326.59C339.17,326.59 339.33,326.59 339.50,326.59C339.67,326.59 339.83,326.59 340.00,326.59C340.17,326.60 340.33,326.60 340.50,326.60C340.67,326.60 340.83,326.60 341.00,326.60C341.17,326.60 341.33,326.60 341.50,326.60C341.67,326.60 341.83,326.60 342.00,326.60C342.17,326.60 342.33,326.60 342.50,326.60C342.67,326.60 342.83,326.60 343.00,326.60C343.17,326.60 343.33,326.60 343.50,326.60C343.67,326.60 343.83,326.60 344.00,326.60C344.17,326.60 344.33,326.60 344.50,326.60C344.67,326.60 344.83,326.60 345.00,326.60C345.17,326.60 345.33,326.60 345.50,326.60C345.67,326.60 345.83,326.60 346.00,326.60C346.17,326.60 346.33,326.60 346.50,326.60C346.67,326.60 346.83,326.60 347.00,326.60C347.17,326.60 347.33,326.60 347.50,326.60C347.67,326.60 347.83,326.60 348.00,326.60C348.17,326.60 348.33,326.60 348.50,326.60C348.67,326.60 348.83,326.60 349.00,326.60C349.17,326.60 349.33,326.60 349.50,326.60C349.67,326.60 349.83,326.60 350.00,326.60C350.17,326.60 350.33,326.60 350.50,326.60C350.67,326.60 350.83,326.60 351.00,326.60C351.17,326.60 351.33,326.60 351.50,326.60C351.67,326.60 351.83,326.60 352.00,326.60C352.17,326.60 352.33,326.60 352.50,326.60C352.67,326.60 352.83,326.60 353.00,326.60C353.17,326.60 353.33,326.60 353.50,326.60C353.67,326.60 353.83,326.60 354.00,326.60C354.17,326.60 354.33,326.60 354.50,326.60C354.67,326.60 354.83,326.60 355.00,326.60C355.17,326.60 355.33,326.60 355.50,326.60C355.67,326.60 355.83,326.60 356.00,326.60C356.17,326.60 356.33,326.60 356.50,326.60C356.67,326.60 356.83,326.60 357.00,326.60C357.17,326.60 357.33,326.60 357.50,326.60C357.67,326.60 357.83,326.60 358.00,326.60C358.17,326.60 358.33,326.60 358.50,326.60C358.67,326.60 358.83,326.60 359.00,326.60C359.17,326.60 359.33,326.60 359.50,326.60C359.67,326.60 359.83,326.60 360.00,326.60C360.17,326.60 360.33,326.60 360.50,326.60C360.67,326.60 360.83,326.60 361.00,326.60C361.17,326.60 361.33,326.60 361.50,326.60C361.67,326.60 361.83,326.60 362.00,326.60C362.17,326.60 362.33,326.60 362.50,326.60C362.67,326.60 362.83,326.60 363.00,326.60C363.17,326.60 363.33,326.60 363.50,326.60C363.67,326.60 363.83,326.60 364.00,326.60C364.17,326.60 364.33,326.60 364.50,326.60C364.67,326.60 364.83,326.60 365.00,326.60C365.17,326.60 365.33,326.60 365.50,326.60C365.67,326.60 365.83,326.60 366.00,326.60C366.17,326.60 366.33,326.60 366.50,326.60C366.67,326.60 366.83,326.60 367.00,326.60C367.17,326.60 367.33,326.60 367.50,326.60C367.67,326.60 367.83,326.60 368.00,326.60C368.17,326.60 368.33,326.60 368.50,326.60C368.67,326.60 368.83,326.60 369.00,326.60C369.17,326.60 369.33,326.60 369.50,326.60C369.67,326.60 369.83,326.60 370.00,326.60C370.17,326.60 370.33,326.60 370.50,326.60C370.67,326.60 370.83,326.60 371.00,326.60C371.17,326.60 371.33,326.60 371.50,326.60C371.67,326.60 371.83,326.60 372.00,326.60C372.17,326.60 372.33,326.60 372.50,326.60C372.67,326.60 372.83,326.60 373.00,326.60C373.17,326.60 373.33,326.60 373.50,326.60C373.67,326.60 373.83,326.60 374.00,326.60" fill="none" stroke="#dc1a52" stroke-width="1.2" stroke-linejoin="round"/>
<path d="M36.00,326.60C36.17,326.60 36.33,326.60 36.50,326.60C36.67,326.60 36.83,326.60 37.00,326.60C37.17,326.60 37.33,326.60 37.50,326.60C37.67,326.60 37.83,326.60 38.00,326.60C38.17,326.60 38.33,326.60 38.50,326.60C38.67,326.60 38.83,326.60 39.00,326.60C39.17,326.60 39.33,326.60 39.50,326.60C39.67,326.60 39.83,326.60 40.00,326.60C40.17,326.60 40.33,326.60 40.50,326.60C40.67,326.60 40.83,326.60 41.00,326.60C41.17,326.60 41.33,326.60 41.50,326.60C41.67,326.60 41.83,326.60 42.00,326.60C42.17,326.60 42.33,326.60 42.50,326.60C42.67,326.60 42.83,326.60 43.00,326.60C43.17,326.60 43.33,326.60 43.50,326.60C43.67,326.60 43.83,326.60 44.00,326.60C44.17,326.60 44.33,326.60 44.50,326.60C44.67,326.60 44.83,326.60 45.00,326.60C45.17,326.60 45.33,326.60 45.50,326.60C45.67,326.60 45.83,326.60 46.00,326.60C46.17,326.60 46.33,326.60 46.50,326.60C46.67,326.60 46.83,326.60 47.00,326.60C47.17,326.60 47.33,326.60 47.50,326.60C47.67,326.60 47.83,326.60 48.00,326.60C48.17,326.60 48.33,326.60 48.50,326.60C48.67,326.60 48.83,326.60 49.00,326.60C49.17,326.60 49.33,326.60 49.50,326.60C49.67,326.60 49.83,326.60 50.00,326.60C50.17,326.60 50.33,326.60 50.50,326.60C50.67,326.60 50.83,326.60 51.00,326.60C51.17,326.60 51.33,326.60 51.50,326.60C51.67,326.60 51.83,326.60 52.00,326.60C52.17,326.60 52.33,326.60 52.50,326.60C52.67,326.60 52.83,326.60 53.00,326.60C53.17,326.60 53.33,326.60 53.50,326.60C53.67,326.60 53.83,326.60 54.00,326.60C54.17,326.60 54.33,326.60 54.50,326.60C54.67,326.60 54.83,326.60 55.00,326.60C55.17,326.60 55.33,326.60 55.50,326.60C55.67,326.60 55.83,326.60 56.00,326.60C56.17,326.60 56.33,326.60 56.50,326.60C56.67,326.60 56.83,326.60 57.00,326.60C57.17,326.60 57.33,326.60 57.50,326.60C57.67,326.60 57.83,326.60 58.00,326.60C58.17,326.60 58.33,326.60 58.50,326.60C58.67,326.60 58.83,326.60 59.00,326.60C59.17,326.60 59.33,326.60 59.50,326.60C59.67,326.60 59.83,326.60 60.00,326.60C60.17,326.60 60.33,326.60 60.50,326.60C60.67,326.60 60.83,326.60 61.00,326.60C61.17,326.60 61.33,326.60 61.50,326.60C61.67,326.60 61.83,326.60 62.00,326.60C62.17,326.60 62.33,326.60 62.50,326.60C62.67,326.60 62.83,326.60 63.00,326.60C63.17,326.60 63.33,326.60 63.50,326.60C63.67,326.60 63.83,326.60 64.00,326.60C64.17,326.60 64.33,326.60 64.50,326.60C64.67,326.60 64.83,326.60 65.00,326.60C65.17,326.60 65.33,326.60 65.50,326.60C65.67,326.60 65.83,326.59 66.00,326.59C66.17,326.59 66.33,326.59 66.50,326.58C66.67,326.57 66.83,326.56 67.00,326.55C67.17,326.54 67.33,326.51 67.50,326.48C67.67,326.45 67.83,326.40 68.00,326.34C68.17,326.28 68.33,326.18 68.50,326.05C68.67,325.92 68.83,325.73 69.00,325.50C69.17,325.26 69.33,324.92 69.50,324.50C69.67,324.08 69.83,323.49 70.00,322.80C70.17,322.10 70.33,321.17 70.50,320.08C70.67,318.99 70.83,317.59 71.00,315.99C71.17,314.39 71.33,312.40 71.50,310.21C71.67,308.02 71.83,305.39 72.00,302.58C72.17,299.78 72.33,296.53 72.50,293.19C72.67,289.86 72.83,286.14 73.00,282.51C73.17,278.87 73.33,274.96 73.50,271.37C73.67,267.79 73.83,264.06 74.00,260.96C74.17,257.86 74.33,254.70 74.50,252.56C74.67,250.41 74.83,248.01 75.00,247.34C75.17,246.66 75.33,246.08 75.50,246.08C75.67,246.08 75.83,247.64 76.00,248.98C76.17,250.33 76.33,253.01 76.50,255.59C76.67,258.18 76.83,261.60 77.00,264.95C77.17,268.31 77.33,272.16 77.50,275.81C77.67,279.47 77.83,283.34 78.00,286.89C78.17,290.44 78.33,294.00 78.50,297.14C78.67,300.28 78.83,303.29 79.00,305.86C79.17,308.42 79.33,310.79 79.50,312.74C79.67,314.69 79.83,316.43 80.00,317.81C80.17,319.19 80.33,320.39 80.50,321.31C80.67,322.23 80.83,323.01 81.00,323.58C81.17,324.15 81.33,324.63 81.50,324.96C81.67,325.30 81.83,325.57 82.00,325.76C82.17,325.94 82.33,326.09 82.50,326.19C82.67,326.29 82.83,326.36 83.00,326.41C83.17,326.46 83.33,326.49 83.50,326.52C83.67,326.54 83.83,326.56 84.00,326.57C84.17,326.57 84.33,326.58 84.50,326.59C84.67,326.59 84.83,326.59 85.00,326.59C85.17,326.60 85.33,326.60 85.50,326.60C85.67,326.60 85.83,326.60 86.00,326.60C86.17,326.60 86.33,326.60 86.50,326.60C86.67,326.60 86.83,326.60 87.00,326.60C87.17,326.60 87.33,326.60 87.50,326.60C87.67,326.60 87.83,326.60 88.00,326.60C88.17,326.60 88.33,326.60 88.50,326.60C88.67,326.60 88.83,326.60 89.00,326.60C89.17,326.60 89.33,326.60 89.50,326.60C89.67,326.60 89.83,326.60 90.00,326.60C90.17,326.60 90.33,326.60 90.50,326.60C90.67,326.60 90.83,326.60 91.00,326.60C91.17,326.60 91.33,326.60 91.50,326.60C91.67,326.60 91.83,326.60 92.00,326.60C92.17,326.60 92.33,326.60 92.50,326.60C92.67,326.60 92.83,326.60 93.00,326.60C93.17,326.60 93.33,326.60 93.50,326.60C93.67,326.60 93.83,326.60 94.00,326.60C94.17,326.60 94.33,326.60 94.50,326.60C94.67,326.60 94.83,326.60 95.00,326.60C95.17,326.60 95.33,326.60 95.50,326.60C95.67,326.60 95.83,326.60 96.00,326.60C96.17,326.60 96.33,326.60 96.50,326.60C96.67,326.60 96.83,326.60 97.00,326.60C97.17,326.60 97.33,326.60 97.50,326.60C97.67,326.60 97.83,326.60 98.00,326.60C98.17,326.60 98.33,326.60 98.50,326.60C98.67,326.60 98.83,326.60 99.00,326.60C99.17,326.60 99.33,326.60 99.50,326.60C99.67,326.60 99.83,326.60 100.00,326.60C100.17,326.60 100.33,326.60 100.50,326.60C100.67,326.60 100.83,326.60 101.00,326.60C101.17,326.60 101.33,326.60 101.50,326.60C101.67,326.60 101.83,326.60 102.00,326.60C102.17,326.60 102.33,326.60 102.50,326.60C102.67,326.60 102.83,326.60 103.00,326.60C103.17,326.60 103.33,326.60 103.50,326.60C103.67,326.60 103.83,326.60 104.00,326.60C104.17,326.60 104.33,326.60 104.50,326.60C104.67,326.60 104.83,326.60 105.00,326.60C105.17,326.60 105.33,326.60 105.50,326.60C105.67,326.60 105.83,326.60 106.00,326.60C106.17,326.60 106.33,326.60 106.50,326.60C106.67,326.60 106.83,326.60 107.00,326.60C107.17,326.60 107.33,326.60 107.50,326.60C107.67,326.60 107.83,326.60 108.00,326.60C108.17,326.60 108.33,326.60 108.50,326.60C108.67,326.60 108.83,326.60 109.00,326.60C109.17,326.60 109.33,326.60 109.50,326.60C109.67,326.60 109.83,326.60 110.00,326.60C110.17,326.60 110.33,326.60 110.50,326.60C110.67,326.60 110.83,326.60 111.00,326.60C111.17,326.60 111.33,326.60 111.50,326.60C111.67,326.60 111.83,326.60 112.00,326.60C112.17,326.60 112.33,326.60 112.50,326.60C112.67,326.60 112.83,326.60 113.00,326.60C113.17,326.60 113.33,326.60 113.50,326.60C113.67,326.60 113.83,326.60 114.00,326.60C114.17,326.60 114.33,326.60 114.50,326.60C114.67,326.60 114.83,326.60 115.00,326.60C115.17,326.60 115.33,326.60 115.50,326.60C115.67,326.60 115.83,326.60 116.00,326.60C116.17,326.60 116.33,326.60 116.50,326.60C116.67,326.60 116.83,326.60 117.00,326.60C117.17,326.60 117.33,326.60 117.50,326.60C117.67,326.60 117.83,326.60 118.00,326.60C118.17,326.60 118.33,326.60 118.50,326.60C118.67,326.60 118.83,326.60 119.00,326.60C119.17,326.60 119.33,326.60 119.50,326.60C119.67,326.60 119.83,326.60 120.00,326.60C120.17,326.60 120.33,326.60 120.50,326.60C120.67,326.60 120.83,326.60 121.00,326.60C121.17,326.60 121.33,326.60 121.50,326.60C121.67,326.60 121.83,326.60 122.00,326.60C122.17,326.60 122.33,326.60 122.50,326.60C122.67,326.60 122.83,326.60 123.00,326.60C123.17,326.60 123.33,326.60 123.50,326.60C123.67,326.60 123.83,326.60 124.00,326.60C124.17,326.60 124.33,326.60 124.50,326.60C124.67,326.60 124.83,326.60 125.00,326.60C125.17,326.60 125.33,326.60 125.50,326.60C125.67,326.60 125.83,326.60 126.00,326.60C126.17,326.60 126.33,326.60 126.50,326.60C126.67,326.60 126.83,326.60 127.00,326.60C127.17,326.60 127.33,326.60 127.50,326.60C127.67,326.60 127.83,326.60 128.00,326.60C128.17,326.60 128.33,326.60 128.50,326.60C128.67,326.60 128.83,326.60 129.00,326.60C129.17,326.60 129.33,326.60 129.50,326.60C129.67,326.60 129.83,326.60 130.00,326.60C130.17,326.60 130.33,326.60 130.50,326.60C130.67,326.60 130.83,326.60 131.00,326.60C131.17,326.60 131.33,326.60 131.50,326.60C131.67,326.60 131.83,326.60 132.00,326.60C132.17,326.60 132.33,326.60 132.50,326.60C132.67,326.60 132.83,326.60 133.00,326.60C133.17,326.60 133.33,326.60 133.50,326.60C133.67,326.60 133.83,326.60 134.00,326.60C134.17,326.60 134.33,326.60 134.50,326.60C134.67,326.60 134.83,326.59 135.00,326.59C135.17,326.59 135.33,326.58 135.50,326.57C135.67,326.57 135.83,326.55 136.00,326.54C136.17,326.52 136.33,326.49 136.50,326.45C136.67,326.41 136.83,326.35 137.00,326.27C137.17,326.19 137.33,326.07 137.50,325.92C137.67,325.76 137.83,325.53 138.00,325.24C138.17,324.96 138.33,324.55 138.50,324.04C138.67,323.54 138.83,322.85 139.00,322.03C139.17,321.21 139.33,320.11 139.50,318.84C139.67,317.58 139.83,315.95 140.00,314.11C140.17,312.27 140.33,310.00 140.50,307.51C140.67,305.02 140.83,302.06 141.00,298.92C141.17,295.78 141.33,292.17 141.50,288.50C141.67,284.83 141.83,280.77 142.00,276.84C142.17,272.91 142.33,268.71 142.50,264.92C142.67,261.13 142.83,257.21 143.00,254.05C143.17,250.88 143.33,247.65 143.50,245.61C143.67,243.57 143.83,241.09 144.00,240.81C144.17,240.54 144.33,240.36 144.50,240.36C144.67,240.36 144.83,242.58 145.00,244.33C145.17,246.09 145.33,249.14 145.50,252.12C145.67,255.10 145.83,258.91 146.00,262.62C146.17,266.32 146.33,270.50 146.50,274.44C146.67,278.37 146.83,282.49 147.00,286.24C147.17,289.99 147.33,293.71 147.50,296.97C147.67,300.23 147.83,303.33 148.00,305.95C148.17,308.58 148.33,310.98 148.50,312.95C148.67,314.91 148.83,316.66 149.00,318.03C149.17,319.41 149.33,320.60 149.50,321.50C149.67,322.40 149.83,323.16 150.00,323.72C150.17,324.27 150.33,324.73 150.50,325.05C150.67,325.38 150.83,325.64 151.00,325.81C151.17,325.99 151.33,326.13 151.50,326.22C151.67,326.31 151.83,326.38 152.00,326.43C152.17,326.47 152.33,326.50 152.50,326.52C152.67,326.54 152.83,326.56 153.00,326.57C153.17,326.58 153.33,326.58 153.50,326.59C153.67,326.59 153.83,326.59 154.00,326.60C154.17,326.60 154.33,326.60 154.50,326.60C154.67,326.60 154.83,326.60 155.00,326.60C155.17,326.60 155.33,326.60 155.50,326.60C155.67,326.60 155.83,326.60 156.00,326.60C156.17,326.60 156.33,326.60 156.50,326.60C156.67,326.60 156.83,326.60 157.00,326.60C157.17,326.60 157.33,326.59 157.50,326.59C157.67,326.59 157.83,326.58 158.00,326.58C158.17,326.57 158.33,326.56 158.50,326.55C158.67,326.54 158.83,326.51 159.00,326.49C159.17,326.46 159.33,326.42 159.50,326.37C159.67,326.32 159.83,326.25 160.00,326.16C160.17,326.07 160.33,325.96 160.50,325.83C160.67,325.70 160.83,325.53 161.00,325.34C161.17,325.16 161.33,324.94 161.50,324.71C161.67,324.48 161.83,324.22 162.00,323.96C162.17,323.71 162.33,323.44 162.50,323.20C162.67,322.96 162.83,322.71 163.00,322.54C163.17,322.37 163.33,322.17 163.50,322.11C163.67,322.06 163.83,322.01 164.00,322.01C164.17,322.01 164.33,322.14 164.50,322.25C164.67,322.36 164.83,322.58 165.00,322.78C165.17,322.99 165.33,323.25 165.50,323.50C165.67,323.74 165.83,324.02 166.00,324.26C166.17,324.50 166.33,324.75 166.50,324.95C166.67,325.14 166.83,325.34 167.00,325.47C167.17,325.60 167.33,325.76 167.50,325.79C167.67,325.82 167.83,325.84 168.00,325.84C168.17,325.84 168.33,325.70 168.50,325.57C168.67,325.43 168.83,325.15 169.00,324.83C169.17,324.51 169.33,324.01 169.50,323.41C169.67,322.82 169.83,321.99 170.00,321.01C170.17,320.03 170.33,318.74 170.50,317.24C170.67,315.74 170.83,313.83 171.00,311.69C171.17,309.54 171.33,306.91 171.50,304.05C171.67,301.18 171.83,297.79 172.00,294.23C172.17,290.67 172.33,286.61 172.50,282.51C172.67,278.42 172.83,273.92 173.00,269.62C173.17,265.31 173.33,260.75 173.50,256.71C173.67,252.66 173.83,248.50 174.00,245.24C174.17,241.99 174.33,238.65 174.50,236.73C174.67,234.82 174.83,232.40 175.00,232.40C175.17,232.40 175.33,232.59 175.50,232.89C175.67,233.19 175.83,235.90 176.00,238.13C176.17,240.36 176.33,243.89 176.50,247.35C176.67,250.80 176.83,255.08 177.00,259.22C177.17,263.36 177.33,267.95 177.50,272.24C177.67,276.53 177.83,280.97 178.00,284.98C178.17,288.99 178.33,292.93 178.50,296.36C178.67,299.79 178.83,303.03 179.00,305.75C179.17,308.47 179.33,310.95 179.50,312.96C179.67,314.96 179.83,316.74 180.00,318.13C180.17,319.52 180.33,320.71 180.50,321.61C180.67,322.51 180.83,323.26 181.00,323.81C181.17,324.36 181.33,324.80 181.50,325.12C181.67,325.43 181.83,325.68 182.00,325.85C182.17,326.02 182.33,326.16 182.50,326.24C182.67,326.33 182.83,326.40 183.00,326.44C183.17,326.48 183.33,326.51 183.50,326.53C183.67,326.55 183.83,326.56 184.00,326.57C184.17,326.58 184.33,326.59 184.50,326.59C184.67,326.59 184.83,326.59 185.00,326.60C185.17,326.60 185.33,326.60 185.50,326.60C185.67,326.60 185.83,326.60 186.00,326.60C186.17,326.60 186.33,326.60 186.50,326.60C186.67,326.60 186.83,326.60 187.00,326.60C187.17,326.60 187.33,326.60 187.50,326.60C187.67,326.60 187.83,326.60 188.00,326.60C188.17,326.60 188.33,326.60 188.50,326.60C188.67,326.60 188.83,326.60 189.00,326.60C189.17,326.60 189.33,326.60 189.50,326.60C189.67,326.60 189.83,326.60 190.00,326.60C190.17,326.60 190.33,326.60 190.50,326.60C190.67,326.60 190.83,326.60 191.00,326.60C191.17,326.60 191.33,326.60 191.50,326.60C191.67,326.60 191.83,326.60 192.00,326.60C192.17,326.60 192.33,326.60 192.50,326.60C192.67,326.60 192.83,326.60 193.00,326.60C193.17,326.60 193.33,326.60 193.50,326.60C193.67,326.60 193.83,326.60 194.00,326.60C194.17,326.60 194.33,326.60 194.50,326.60C194.67,326.60 194.83,326.60 195.00,326.60C195.17,326.60 195.33,326.60 195.50,326.60C195.67,326.60 195.83,326.60 196.00,326.60C196.17,326.60 196.33,326.60 196.50,326.60C196.67,326.60 196.83,326.60 197.00,326.60C197.17,326.60 197.33,326.60 197.50,326.60C197.67,326.60 197.83,326.60 198.00,326.60C198.17,326.60 198.33,326.60 198.50,326.60C198.67,326.60 198.83,326.60 199.00,326.60C199.17,326.60 199.33,326.60 199.50,326.60C199.67,326.60 199.83,326.60 200.00,326.60C200.17,326.60 200.33,326.60 200.50,326.60C200.67,326.60 200.83,326.60 201.00,326.60C201.17,326.60 201.33,326.60 201.50,326.60C201.67,326.60 201.83,326.60 202.00,326.60C202.17,326.60 202.33,326.60 202.50,326.60C202.67,326.60 202.83,326.60 203.00,326.60C203.17,326.60 203.33,326.60 203.50,326.60C203.67,326.60 203.83,326.60 204.00,326.60C204.17,326.60 204.33,326.60 204.50,326.60C204.67,326.60 204.83,326.60 205.00,326.59C205.17,326.59 205.33,326.59 205.50,326.59C205.67,326.59 205.83,326.59 206.00,326.59C206.17,326.59 206.33,326.59 206.50,326.59C206.67,326.59 206.83,326.59 207.00,326.59C207.17,326.59 207.33,326.58 207.50,326.58C207.67,326.58 207.83,326.58 208.00,326.57C208.17,326.57 208.33,326.57 208.50,326.56C208.67,326.56 208.83,326.55 209.00,326.54C209.17,326.53 209.33,326.51 209.50,326.49C209.67,326.47 209.83,326.44 210.00,326.40C210.17,326.36 210.33,326.31 210.50,326.24C210.67,326.18 210.83,326.08 211.00,325.97C211.17,325.86 211.33,325.70 211.50,325.52C211.67,325.33 211.83,325.09 212.00,324.80C212.17,324.52 212.33,324.15 212.50,323.73C212.67,323.32 212.83,322.80 213.00,322.23C213.17,321.65 213.33,320.96 213.50,320.22C213.67,319.47 213.83,318.61 214.00,317.70C214.17,316.80 214.33,315.78 214.50,314.76C214.67,313.73 214.83,312.62 215.00,311.55C215.17,310.48 215.33,309.35 215.50,308.34C215.67,307.33 215.83,306.30 216.00,305.47C216.17,304.63 216.33,303.79 216.50,303.25C216.67,302.71 216.83,302.09 217.00,301.98C217.17,301.88 217.33,301.80 217.50,301.80C217.67,301.80 217.83,302.18 218.00,302.50C218.17,302.81 218.33,303.38 218.50,303.94C218.67,304.50 218.83,305.24 219.00,305.99C219.17,306.73 219.33,307.59 219.50,308.44C219.67,309.29 219.83,310.21 220.00,311.10C220.17,311.98 220.33,312.90 220.50,313.75C220.67,314.61 220.83,315.46 221.00,316.24C221.17,317.02 221.33,317.77 221.50,318.44C221.67,319.11 221.83,319.74 222.00,320.28C222.17,320.83 222.33,321.33 222.50,321.75C222.67,322.17 222.83,322.55 223.00,322.86C223.17,323.17 223.33,323.45 223.50,323.66C223.67,323.87 223.83,324.06 224.00,324.20C224.17,324.34 224.33,324.45 224.50,324.54C224.67,324.62 224.83,324.69 225.00,324.72C225.17,324.76 225.33,324.80 225.50,324.81C225.67,324.82 225.83,324.83 226.00,324.83C226.17,324.83 226.33,324.81 226.50,324.80C226.67,324.79 226.83,324.77 227.00,324.75C227.17,324.73 227.33,324.71 227.50,324.69C227.67,324.66 227.83,324.64 228.00,324.62C228.17,324.59 228.33,324.57 228.50,324.55C228.67,324.52 228.83,324.50 229.00,324.48C229.17,324.46 229.33,324.43 229.50,324.41C229.67,324.39 229.83,324.37 230.00,324.35C230.17,324.33 230.33,324.32 230.50,324.30C230.67,324.28 230.83,324.26 231.00,324.24C231.17,324.22 231.33,324.21 231.50,324.19C231.67,324.17 231.83,324.15 232.00,324.12C232.17,324.10 232.33,324.08 232.50,324.05C232.67,324.02 232.83,323.99 233.00,323.95C233.17,323.91 233.33,323.87 233.50,323.83C233.67,323.78 233.83,323.72 234.00,323.66C234.17,323.60 234.33,323.54 234.50,323.46C234.67,323.39 234.83,323.31 235.00,323.22C235.17,323.14 235.33,323.04 235.50,322.95C235.67,322.86 235.83,322.76 236.00,322.66C236.17,322.57 236.33,322.47 236.50,322.39C236.67,322.30 236.83,322.21 237.00,322.14C237.17,322.08 237.33,322.00 237.50,321.97C237.67,321.93 237.83,321.88 238.00,321.88C238.17,321.88 238.33,321.89 238.50,321.91C238.67,321.92 238.83,321.98 239.00,322.04C239.17,322.10 239.33,322.20 239.50,322.29C239.67,322.38 239.83,322.50 240.00,322.62C240.17,322.75 240.33,322.88 240.50,323.02C240.67,323.16 240.83,323.30 241.00,323.45C241.17,323.59 241.33,323.73 241.50,323.87C241.67,324.01 241.83,324.14 242.00,324.27C242.17,324.39 242.33,324.52 242.50,324.62C242.67,324.73 242.83,324.83 243.00,324.92C243.17,325.01 243.33,325.09 243.50,325.15C243.67,325.22 243.83,325.28 244.00,325.31C244.17,325.35 244.33,325.39 244.50,325.39C244.67,325.39 244.83,325.39 245.00,325.38C245.17,325.38 245.33,325.32 245.50,325.28C245.67,325.23 245.83,325.15 246.00,325.07C246.17,324.98 246.33,324.87 246.50,324.76C246.67,324.65 246.83,324.51 247.00,324.38C247.17,324.25 247.33,324.10 247.50,323.97C247.67,323.84 247.83,323.70 248.00,323.59C248.17,323.49 248.33,323.37 248.50,323.32C248.67,323.26 248.83,323.19 249.00,323.19C249.17,323.19 249.33,323.22 249.50,323.25C249.67,323.28 249.83,323.39 250.00,323.49C250.17,323.59 250.33,323.73 250.50,323.87C250.67,324.01 250.83,324.18 251.00,324.34C251.17,324.50 251.33,324.68 251.50,324.83C251.67,324.99 251.83,325.15 252.00,325.29C252.17,325.43 252.33,325.57 252.50,325.68C252.67,325.80 252.83,325.90 253.00,325.98C253.17,326.07 253.33,326.14 253.50,326.20C253.67,326.26 253.83,326.31 254.00,326.35C254.17,326.38 254.33,326.41 254.50,326.43C254.67,326.45 254.83,326.48 255.00,326.48C255.17,326.48 255.33,326.48 255.50,326.48C255.67,326.47 255.83,326.45 256.00,326.42C256.17,326.39 256.33,326.34 256.50,326.27C256.67,326.20 256.83,326.10 257.00,325.96C257.17,325.82 257.33,325.62 257.50,325.36C257.67,325.11 257.83,324.74 258.00,324.29C258.17,323.84 258.33,323.23 258.50,322.49C258.67,321.75 258.83,320.78 259.00,319.64C259.17,318.50 259.33,317.04 259.50,315.40C259.67,313.75 259.83,311.72 260.00,309.49C260.17,307.26 260.33,304.60 260.50,301.79C260.67,298.97 260.83,295.74 261.00,292.45C261.17,289.17 261.33,285.52 261.50,282.00C261.67,278.48 261.83,274.72 262.00,271.33C262.17,267.93 262.33,264.42 262.50,261.59C262.67,258.75 262.83,255.86 263.00,254.03C263.17,252.20 263.33,249.97 263.50,249.73C263.67,249.48 263.83,249.32 264.00,249.32C264.17,249.32 264.33,251.31 264.50,252.88C264.67,254.45 264.83,257.19 265.00,259.86C265.17,262.53 265.33,265.94 265.50,269.26C265.67,272.59 265.83,276.33 266.00,279.86C266.17,283.38 266.33,287.08 266.50,290.43C266.67,293.79 266.83,297.13 267.00,300.05C267.17,302.97 267.33,305.75 267.50,308.10C267.67,310.45 267.83,312.61 268.00,314.37C268.17,316.13 268.33,317.69 268.50,318.92C268.67,320.16 268.83,321.22 269.00,322.03C269.17,322.84 269.33,323.52 269.50,324.02C269.67,324.52 269.83,324.93 270.00,325.21C270.17,325.50 270.33,325.74 270.50,325.90C270.67,326.05 270.83,326.18 271.00,326.26C271.17,326.34 271.33,326.40 271.50,326.44C271.67,326.48 271.83,326.51 272.00,326.53C272.17,326.55 272.33,326.56 272.50,326.57C272.67,326.58 272.83,326.59 273.00,326.59C273.17,326.59 273.33,326.59 273.50,326.60C273.67,326.60 273.83,326.60 274.00,326.60C274.17,326.60 274.33,326.60 274.50,326.60C274.67,326.60 274.83,326.60 275.00,326.60C275.17,326.60 275.33,326.60 275.50,326.60C275.67,326.60 275.83,326.60 276.00,326.60C276.17,326.60 276.33,326.60 276.50,326.60C276.67,326.60 276.83,326.60 277.00,326.60C277.17,326.60 277.33,326.60 277.50,326.60C277.67,326.60 277.83,326.60 278.00,326.60C278.17,326.60 278.33,326.60 278.50,326.60C278.67,326.60 278.83,326.60 279.00,326.60C279.17,326.60 279.33,326.60 279.50,326.60C279.67,326.60 279.83,326.60 280.00,326.60C280.17,326.60 280.33,326.60 280.50,326.60C280.67,326.60 280.83,326.60 281.00,326.60C281.17,326.60 281.33,326.60 281.50,326.60C281.67,326.60 281.83,326.60 282.00,326.60C282.17,326.60 282.33,326.60 282.50,326.60C282.67,326.60 282.83,326.60 283.00,326.60C283.17,326.60 283.33,326.60 283.50,326.60C283.67,326.60 283.83,326.60 284.00,326.60C284.17,326.60 284.33,326.60 284.50,326.60C284.67,326.60 284.83,326.60 285.00,326.60C285.17,326.60 285.33,326.60 285.50,326.60C285.67,326.60 285.83,326.60 286.00,326.60C286.17,326.60 286.33,326.60 286.50,326.60C286.67,326.60 286.83,326.60 287.00,326.60C287.17,326.60 287.33,326.60 287.50,326.60C287.67,326.60 287.83,326.60 288.00,326.60C288.17,326.60 288.33,326.60 288.50,326.60C288.67,326.60 288.83,326.60 289.00,326.60C289.17,326.60 289.33,326.60 289.50,326.60C289.67,326.60 289.83,326.60 290.00,326.60C290.17,326.60 290.33,326.60 290.50,326.60C290.67,326.60 290.83,326.60 291.00,326.60C291.17,326.60 291.33,326.60 291.50,326.60C291.67,326.60 291.83,326.60 292.00,326.60C292.17,326.60 292.33,326.60 292.50,326.60C292.67,326.60 292.83,326.60 293.00,326.60C293.17,326.60 293.33,326.60 293.50,326.60C293.67,326.60 293.83,326.60 294.00,326.60C294.17,326.60 294.33,326.60 294.50,326.60C294.67,326.60 294.83,326.60 295.00,326.60C295.17,326.60 295.33,326.60 295.50,326.60C295.67,326.60 295.83,326.60 296.00,326.60C296.17,326.60 296.33,326.60 296.50,326.60C296.67,326.60 296.83,326.60 297.00,326.60C297.17,326.60 297.33,326.60 297.50,326.60C297.67,326.60 297.83,326.60 298.00,326.60C298.17,326.60 298.33,326.60 298.50,326.60C298.67,326.60 298.83,326.60 299.00,326.60C299.17,326.60 299.33,326.60 299.50,326.60C299.67,326.60 299.83,326.60 300.00,326.60C300.17,326.60 300.33,326.60 300.50,326.60C300.67,326.60 300.83,326.60 301.00,326.60C301.17,326.60 301.33,326.60 301.50,326.60C301.67,326.60 301.83,326.60 302.00,326.60C302.17,326.60 302.33,326.60 302.50,326.60C302.67,326.60 302.83,326.60 303.00,326.59C303.17,326.59 303.33,326.59 303.50,326.59C303.67,326.59 303.83,326.59 304.00,326.59C304.17,326.59 304.33,326.58 304.50,326.58C304.67,326.58 304.83,326.57 305.00,326.57C305.17,326.57 305.33,326.56 305.50,326.56C305.67,326.55 305.83,326.55 306.00,326.54C306.17,326.53 306.33,326.53 306.50,326.52C306.67,326.51 306.83,326.50 307.00,326.49C307.17,326.47 307.33,326.46 307.50,326.45C307.67,326.43 307.83,326.41 308.00,326.39C308.17,326.37 308.33,326.35 308.50,326.33C308.67,326.30 308.83,326.28 309.00,326.25C309.17,326.22 309.33,326.19 309.50,326.15C309.67,326.12 309.83,326.08 310.00,326.04C310.17,326.00 310.33,325.95 310.50,325.91C310.67,325.86 310.83,325.81 311.00,325.76C311.17,325.70 311.33,325.65 311.50,325.59C311.67,325.53 311.83,325.47 312.00,325.41C312.17,325.35 312.33,325.28 312.50,325.22C312.67,325.15 312.83,325.09 313.00,325.02C313.17,324.96 313.33,324.89 313.50,324.83C313.67,324.76 313.83,324.70 314.00,324.64C314.17,324.58 314.33,324.51 314.50,324.46C314.67,324.40 314.83,324.35 315.00,324.30C315.17,324.25 315.33,324.21 315.50,324.17C315.67,324.13 315.83,324.10 316.00,324.07C316.17,324.05 316.33,324.02 316.50,324.01C316.67,323.99 316.83,323.98 317.00,323.98C317.17,323.98 317.33,323.98 317.50,323.99C317.67,323.99 317.83,324.01 318.00,324.03C318.17,324.05 318.33,324.07 318.50,324.10C318.67,324.13 318.83,324.16 319.00,324.20C319.17,324.23 319.33,324.27 319.50,324.30C319.67,324.34 319.83,324.38 320.00,324.42C320.17,324.45 320.33,324.49 320.50,324.52C320.67,324.56 320.83,324.59 321.00,324.62C321.17,324.64 321.33,324.67 321.50,324.68C321.67,324.70 321.83,324.72 322.00,324.72C322.17,324.72 322.33,324.72 322.50,324.72C322.67,324.72 322.83,324.69 323.00,324.67C323.17,324.66 323.33,324.62 323.50,324.59C323.67,324.56 323.83,324.52 324.00,324.48C324.17,324.43 324.33,324.38 324.50,324.33C324.67,324.28 324.83,324.23 325.00,324.17C325.17,324.12 325.33,324.06 325.50,324.00C325.67,323.95 325.83,323.89 326.00,323.85C326.17,323.80 326.33,323.75 326.50,323.71C326.67,323.67 326.83,323.63 327.00,323.61C327.17,323.58 327.33,323.55 327.50,323.55C327.67,323.54 327.83,323.54 328.00,323.54C328.17,323.54 328.33,323.57 328.50,323.59C328.67,323.61 328.83,323.65 329.00,323.69C329.17,323.73 329.33,323.79 329.50,323.84C329.67,323.90 329.83,323.97 330.00,324.04C330.17,324.11 330.33,324.19 330.50,324.27C330.67,324.35 330.83,324.43 331.00,324.52C331.17,324.60 331.33,324.69 331.50,324.78C331.67,324.86 331.83,324.95 332.00,325.04C332.17,325.12 332.33,325.21 332.50,325.29C332.67,325.37 332.83,325.44 333.00,325.52C333.17,325.59 333.33,325.66 333.50,325.73C333.67,325.79 333.83,325.85 334.00,325.91C334.17,325.97 334.33,326.02 334.50,326.07C334.67,326.11 334.83,326.16 335.00,326.19C335.17,326.23 335.33,326.27 335.50,326.30C335.67,326.33 335.83,326.36 336.00,326.38C336.17,326.40 336.33,326.42 336.50,326.44C336.67,326.46 336.83,326.48 337.00,326.49C337.17,326.50 337.33,326.51 337.50,326.52C337.67,326.53 337.83,326.54 338.00,326.55C338.17,326.56 338.33,326.56 338.50,326.57C338.67,326.57 338.83,326.58 339.00,326.58C339.17,326.58 339.33,326.58 339.50,326.59C339.67,326.59 339.83,326.59 340.00,326.59C340.17,326.59 340.33,326.59 340.50,326.59C340.67,326.60 340.83,326.60 341.00,326.60C341.17,326.60 341.33,326.60 341.50,326.60C341.67,326.60 341.83,326.60 342.00,326.60C342.17,326.60 342.33,326.60 342.50,326.60C342.67,326.60 342.83,326.60 343.00,326.60C343.17,326.60 343.33,326.60 343.50,326.60C343.67,326.60 343.83,326.60 344.00,326.60C344.17,326.60 344.33,326.60 344.50,326.60C344.67,326.60 344.83,326.60 345.00,326.60C345.17,326.60 345.33,326.60 345.50,326.60C345.67,326.60 345.83,326.60 346.00,326.60C346.17,326.60 346.33,326.60 346.50,326.60C346.67,326.60 346.83,326.60 347.00,326.60C347.17,326.60 347.33,326.60 347.50,326.60C347.67,326.60 347.83,326.60 348.00,326.60C348.17,326.60 348.33,326.60 348.50,326.60C348.67,326.60 348.83,326.60 349.00,326.60C349.17,326.60 349.33,326.60 349.50,326.60C349.67,326.60 349.83,326.60 350.00,326.60C350.17,326.60 350.33,326.60 350.50,326.60C350.67,326.60 350.83,326.60 351.00,326.60C351.17,326.60 351.33,326.60 351.50,326.60C351.67,326.60 351.83,326.60 352.00,326.60C352.17,326.60 352.33,326.60 352.50,326.60C352.67,326.60 352.83,326.60 353.00,326.60C353.17,326.60 353.33,326.60 353.50,326.60C353.67,326.60 353.83,326.60 354.00,326.60C354.17,326.60 354.33,326.60 354.50,326.60C354.67,326.60 354.83,326.60 355.00,326.60C355.17,326.60 355.33,326.60 355.50,326.60C355.67,326.60 355.83,326.60 356.00,326.60C356.17,326.60 356.33,326.60 356.50,326.60C356.67,326.60 356.83,326.60 357.00,326.60C357.17,326.60 357.33,326.60 357.50,326.60C357.67,326.60 357.83,326.60 358.00,326.60C358.17,326.60 358.33,326.60 358.50,326.60C358.67,326.60 358.83,326.60 359.00,326.60C359.17,326.60 359.33,326.60 359.50,326.60C359.67,326.60 359.83,326.60 360.00,326.60C360.17,326.60 360.33,326.60 360.50,326.60C360.67,326.60 360.83,326.60 361.00,326.60C361.17,326.60 361.33,326.60 361.50,326.60C361.67,326.60 361.83,326.60 362.00,326.60C362.17,326.60 362.33,326.60 362.50,326.60C362.67,326.60 362.83,326.60 363.00,326.60C363.17,326.60 363.33,326.60 363.50,326.60C363.67,326.60 363.83,326.60 364.00,326.60C364.17,326.60 364.33,326.60 364.50,326.60C364.67,326.60 364.83,326.60 365.00,326.60C365.17,326.60 365.33,326.60 365.50,326.60C365.67,326.60 365.83,326.60 366.00,326.60C366.17,326.60 366.33,326.60 366.50,326.60C366.67,326.60 366.83,326.60 367.00,326.60C367.17,326.60 367.33,326.60 367.50,326.60C367.67,326.60 367.83,326.60 368.00,326.60C368.17,326.60 368.33,326.60 368.50,326.60C368.67,326.60 368.83,326.60 369.00,326.60C369.17,326.60 369.33,326.60 369.50,326.60C369.67,326.60 369.83,326.60 370.00,326.60C370.17,326.60 370.33,326.60 370.50,326.60C370.67,326.60 370.83,326.60 371.00,326.60C371.17,326.60 371.33,326.60 371.50,326.60C371.67,326.60 371.83,326.60 372.00,326.60C372.17,326.60 372.33,326.60 372.50,326.60C372.67,326.60 372.83,326.60 373.00,326.60C373.17,326.60 373.33,326.60 373.50,326.60C373.67,326.60 373.83,326.60 374.00,326.60" fill="none" stroke="#7560b8" stroke-width="1.1" stroke-linejoin="round"/>
<path d="M36.00,327.00C36.17,327.00 36.33,327.00 36.50,327.00C36.67,327.00 36.83,327.00 37.00,327.00C37.17,327.00 37.33,327.00 37.50,327.00C37.67,327.00 37.83,327.00 38.00,327.00C38.17,327.00 38.33,327.00 38.50,327.00C38.67,327.00 38.83,327.00 39.00,327.00C39.17,327.00 39.33,327.00 39.50,327.00C39.67,327.00 39.83,327.00 40.00,327.00C40.17,327.00 40.33,327.00 40.50,327.00C40.67,327.00 40.83,327.00 41.00,327.00C41.17,327.00 41.33,327.00 41.50,327.00C41.67,327.00 41.83,327.00 42.00,327.00C42.17,327.00 42.33,327.00 42.50,327.00C42.67,327.00 42.83,327.00 43.00,327.00C43.17,327.00 43.33,327.00 43.50,327.00C43.67,327.00 43.83,327.00 44.00,327.00C44.17,327.00 44.33,327.00 44.50,327.00C44.67,327.00 44.83,327.00 45.00,327.00C45.17,327.00 45.33,327.00 45.50,327.00C45.67,327.00 45.83,327.00 46.00,327.00C46.17,327.00 46.33,327.00 46.50,327.00C46.67,327.00 46.83,327.00 47.00,327.00C47.17,327.00 47.33,327.00 47.50,327.00C47.67,327.00 47.83,327.00 48.00,327.00C48.17,327.00 48.33,327.00 48.50,327.00C48.67,327.00 48.83,327.00 49.00,327.00C49.17,327.00 49.33,327.00 49.50,327.00C49.67,327.00 49.83,327.00 50.00,327.00C50.17,327.00 50.33,327.00 50.50,327.00C50.67,327.00 50.83,327.00 51.00,327.00C51.17,327.00 51.33,327.00 51.50,327.00C51.67,327.00 51.83,327.00 52.00,327.00C52.17,327.00 52.33,327.00 52.50,327.00C52.67,327.00 52.83,327.00 53.00,327.00C53.17,327.00 53.33,327.00 53.50,327.00C53.67,327.00 53.83,327.00 54.00,327.00C54.17,327.00 54.33,327.00 54.50,327.00C54.67,327.00 54.83,327.00 55.00,327.00C55.17,327.00 55.33,327.00 55.50,327.00C55.67,327.00 55.83,327.00 56.00,327.00C56.17,327.00 56.33,327.00 56.50,327.00C56.67,327.00 56.83,327.00 57.00,327.00C57.17,327.00 57.33,327.00 57.50,327.00C57.67,327.00 57.83,327.00 58.00,327.00C58.17,327.00 58.33,327.00 58.50,327.00C58.67,327.00 58.83,327.00 59.00,327.00C59.17,327.00 59.33,327.00 59.50,327.00C59.67,327.00 59.83,327.00 60.00,327.00C60.17,327.00 60.33,327.00 60.50,327.00C60.67,327.00 60.83,327.00 61.00,327.00C61.17,327.00 61.33,327.00 61.50,327.00C61.67,327.00 61.83,327.00 62.00,327.00C62.17,327.00 62.33,327.00 62.50,327.00C62.67,327.00 62.83,327.00 63.00,327.00C63.17,327.00 63.33,327.00 63.50,327.00C63.67,327.00 63.83,327.00 64.00,327.00C64.17,327.00 64.33,327.00 64.50,327.00C64.67,327.00 64.83,327.00 65.00,327.00C65.17,327.00 65.33,326.99 65.50,326.99C65.67,326.99 65.83,326.99 66.00,326.98C66.17,326.97 66.33,326.96 66.50,326.95C66.67,326.94 66.83,326.92 67.00,326.89C67.17,326.86 67.33,326.82 67.50,326.76C67.67,326.71 67.83,326.62 68.00,326.51C68.17,326.40 68.33,326.24 68.50,326.04C68.67,325.84 68.83,325.56 69.00,325.21C69.17,324.86 69.33,324.37 69.50,323.79C69.67,323.21 69.83,322.44 70.00,321.53C70.17,320.62 70.33,319.45 70.50,318.10C70.67,316.75 70.83,315.07 71.00,313.19C71.17,311.30 71.33,309.03 71.50,306.55C71.67,304.08 71.83,301.18 72.00,298.13C72.17,295.08 72.33,291.62 72.50,288.11C72.67,284.61 72.83,280.77 73.00,277.05C73.17,273.33 73.33,269.38 73.50,265.79C73.67,262.20 73.83,258.51 74.00,255.46C74.17,252.41 74.33,249.33 74.50,247.25C74.67,245.16 74.83,242.84 75.00,242.19C75.17,241.54 75.33,240.98 75.50,240.98C75.67,240.98 75.83,242.48 76.00,243.78C76.17,245.08 76.33,247.68 76.50,250.20C76.67,252.73 76.83,256.09 77.00,259.40C77.17,262.72 77.33,266.56 77.50,270.25C77.67,273.94 77.83,277.88 78.00,281.55C78.17,285.22 78.33,288.94 78.50,292.28C78.67,295.63 78.83,298.88 79.00,301.71C79.17,304.53 79.33,307.19 79.50,309.42C79.67,311.66 79.83,313.69 80.00,315.35C80.17,317.01 80.33,318.47 80.50,319.63C80.67,320.79 80.83,321.79 81.00,322.56C81.17,323.32 81.33,323.97 81.50,324.44C81.67,324.92 81.83,325.32 82.00,325.60C82.17,325.88 82.33,326.11 82.50,326.27C82.67,326.42 82.83,326.55 83.00,326.63C83.17,326.72 83.33,326.78 83.50,326.83C83.67,326.87 83.83,326.90 84.00,326.92C84.17,326.94 84.33,326.96 84.50,326.97C84.67,326.97 84.83,326.98 85.00,326.99C85.17,326.99 85.33,326.99 85.50,326.99C85.67,327.00 85.83,327.00 86.00,327.00C86.17,327.00 86.33,327.00 86.50,327.00C86.67,327.00 86.83,327.00 87.00,327.00C87.17,327.00 87.33,327.00 87.50,327.00C87.67,327.00 87.83,327.00 88.00,327.00C88.17,327.00 88.33,327.00 88.50,327.00C88.67,327.00 88.83,327.00 89.00,327.00C89.17,327.00 89.33,327.00 89.50,327.00C89.67,327.00 89.83,327.00 90.00,327.00C90.17,327.00 90.33,327.00 90.50,327.00C90.67,327.00 90.83,327.00 91.00,327.00C91.17,327.00 91.33,327.00 91.50,327.00C91.67,327.00 91.83,327.00 92.00,327.00C92.17,327.00 92.33,327.00 92.50,327.00C92.67,327.00 92.83,327.00 93.00,327.00C93.17,327.00 93.33,327.00 93.50,327.00C93.67,327.00 93.83,327.00 94.00,327.00C94.17,327.00 94.33,327.00 94.50,327.00C94.67,327.00 94.83,327.00 95.00,327.00C95.17,327.00 95.33,327.00 95.50,327.00C95.67,327.00 95.83,327.00 96.00,327.00C96.17,327.00 96.33,327.00 96.50,327.00C96.67,327.00 96.83,327.00 97.00,327.00C97.17,327.00 97.33,327.00 97.50,327.00C97.67,327.00 97.83,327.00 98.00,327.00C98.17,327.00 98.33,327.00 98.50,327.00C98.67,327.00 98.83,327.00 99.00,327.00C99.17,327.00 99.33,327.00 99.50,327.00C99.67,327.00 99.83,327.00 100.00,327.00C100.17,327.00 100.33,327.00 100.50,327.00C100.67,327.00 100.83,327.00 101.00,327.00C101.17,327.00 101.33,327.00 101.50,327.00C101.67,327.00 101.83,327.00 102.00,327.00C102.17,327.00 102.33,327.00 102.50,327.00C102.67,327.00 102.83,327.00 103.00,327.00C103.17,327.00 103.33,327.00 103.50,327.00C103.67,327.00 103.83,327.00 104.00,327.00C104.17,327.00 104.33,327.00 104.50,327.00C104.67,327.00 104.83,327.00 105.00,327.00C105.17,327.00 105.33,327.00 105.50,327.00C105.67,327.00 105.83,327.00 106.00,327.00C106.17,327.00 106.33,327.00 106.50,327.00C106.67,327.00 106.83,327.00 107.00,327.00C107.17,327.00 107.33,327.00 107.50,327.00C107.67,327.00 107.83,327.00 108.00,327.00C108.17,327.00 108.33,327.00 108.50,327.00C108.67,327.00 108.83,327.00 109.00,327.00C109.17,327.00 109.33,327.00 109.50,327.00C109.67,327.00 109.83,327.00 110.00,327.00C110.17,327.00 110.33,327.00 110.50,327.00C110.67,327.00 110.83,327.00 111.00,327.00C111.17,327.00 111.33,327.00 111.50,327.00C111.67,327.00 111.83,327.00 112.00,327.00C112.17,327.00 112.33,327.00 112.50,327.00C112.67,327.00 112.83,327.00 113.00,327.00C113.17,327.00 113.33,327.00 113.50,327.00C113.67,327.00 113.83,327.00 114.00,327.00C114.17,327.00 114.33,327.00 114.50,327.00C114.67,327.00 114.83,327.00 115.00,327.00C115.17,327.00 115.33,327.00 115.50,327.00C115.67,327.00 115.83,327.00 116.00,327.00C116.17,327.00 116.33,327.00 116.50,327.00C116.67,327.00 116.83,327.00 117.00,327.00C117.17,327.00 117.33,327.00 117.50,327.00C117.67,327.00 117.83,327.00 118.00,327.00C118.17,327.00 118.33,327.00 118.50,327.00C118.67,327.00 118.83,327.00 119.00,327.00C119.17,327.00 119.33,327.00 119.50,327.00C119.67,327.00 119.83,327.00 120.00,327.00C120.17,327.00 120.33,327.00 120.50,327.00C120.67,327.00 120.83,327.00 121.00,327.00C121.17,327.00 121.33,327.00 121.50,327.00C121.67,327.00 121.83,327.00 122.00,327.00C122.17,327.00 122.33,327.00 122.50,327.00C122.67,327.00 122.83,327.00 123.00,327.00C123.17,327.00 123.33,327.00 123.50,327.00C123.67,327.00 123.83,327.00 124.00,327.00C124.17,327.00 124.33,327.00 124.50,327.00C124.67,327.00 124.83,327.00 125.00,327.00C125.17,327.00 125.33,327.00 125.50,327.00C125.67,327.00 125.83,327.00 126.00,327.00C126.17,327.00 126.33,327.00 126.50,327.00C126.67,327.00 126.83,327.00 127.00,327.00C127.17,327.00 127.33,327.00 127.50,327.00C127.67,327.00 127.83,327.00 128.00,327.00C128.17,327.00 128.33,327.00 128.50,327.00C128.67,327.00 128.83,327.00 129.00,327.00C129.17,327.00 129.33,327.00 129.50,327.00C129.67,327.00 129.83,327.00 130.00,327.00C130.17,327.00 130.33,327.00 130.50,327.00C130.67,327.00 130.83,327.00 131.00,327.00C131.17,327.00 131.33,327.00 131.50,327.00C131.67,327.00 131.83,327.00 132.00,327.00C132.17,327.00 132.33,327.00 132.50,327.00C132.67,327.00 132.83,327.00 133.00,327.00C133.17,327.00 133.33,327.00 133.50,327.00C133.67,327.00 133.83,327.00 134.00,327.00C134.17,326.99 134.33,326.99 134.50,326.99C134.67,326.99 134.83,326.98 135.00,326.97C135.17,326.97 135.33,326.95 135.50,326.94C135.67,326.92 135.83,326.90 136.00,326.86C136.17,326.83 136.33,326.78 136.50,326.71C136.67,326.64 136.83,326.53 137.00,326.40C137.17,326.27 137.33,326.08 137.50,325.83C137.67,325.59 137.83,325.25 138.00,324.83C138.17,324.42 138.33,323.85 138.50,323.16C138.67,322.48 138.83,321.58 139.00,320.52C139.17,319.46 139.33,318.10 139.50,316.55C139.67,315.00 139.83,313.08 140.00,310.94C140.17,308.80 140.33,306.23 140.50,303.45C140.67,300.67 140.83,297.44 141.00,294.06C141.17,290.68 141.33,286.88 141.50,283.05C141.67,279.23 141.83,275.07 142.00,271.08C142.17,267.09 142.33,262.89 142.50,259.12C142.67,255.36 142.83,251.51 143.00,248.41C143.17,245.32 143.33,242.18 143.50,240.21C143.67,238.24 143.83,235.85 144.00,235.58C144.17,235.32 144.33,235.15 144.50,235.15C144.67,235.15 144.83,237.28 145.00,238.97C145.17,240.67 145.33,243.63 145.50,246.53C145.67,249.44 145.83,253.17 146.00,256.84C146.17,260.51 146.33,264.67 146.50,268.65C146.67,272.63 146.83,276.83 147.00,280.71C147.17,284.59 147.33,288.49 147.50,291.97C147.67,295.46 147.83,298.82 148.00,301.72C148.17,304.62 148.33,307.33 148.50,309.60C148.67,311.86 148.83,313.91 149.00,315.57C149.17,317.23 149.33,318.70 149.50,319.84C149.67,320.99 149.83,321.98 150.00,322.72C150.17,323.47 150.33,324.10 150.50,324.56C150.67,325.03 150.83,325.41 151.00,325.68C151.17,325.95 151.33,326.16 151.50,326.31C151.67,326.46 151.83,326.58 152.00,326.66C152.17,326.74 152.33,326.80 152.50,326.84C152.67,326.88 152.83,326.91 153.00,326.93C153.17,326.95 153.33,326.96 153.50,326.97C153.67,326.98 153.83,326.98 154.00,326.99C154.17,326.99 154.33,326.99 154.50,327.00C154.67,327.00 154.83,327.00 155.00,327.00C155.17,327.00 155.33,327.00 155.50,327.00C155.67,327.00 155.83,327.00 156.00,327.00C156.17,327.00 156.33,327.00 156.50,327.00C156.67,327.00 156.83,327.00 157.00,327.00C157.17,327.00 157.33,327.00 157.50,327.00C157.67,327.00 157.83,327.00 158.00,327.00C158.17,327.00 158.33,327.00 158.50,327.00C158.67,327.00 158.83,327.00 159.00,327.00C159.17,327.00 159.33,327.00 159.50,327.00C159.67,327.00 159.83,327.00 160.00,327.00C160.17,327.00 160.33,327.00 160.50,327.00C160.67,327.00 160.83,327.00 161.00,327.00C161.17,327.00 161.33,327.00 161.50,327.00C161.67,327.00 161.83,327.00 162.00,327.00C162.17,327.00 162.33,327.00 162.50,327.00C162.67,327.00 162.83,327.00 163.00,327.00C163.17,327.00 163.33,327.00 163.50,327.00C163.67,327.00 163.83,327.00 164.00,327.00C164.17,327.00 164.33,327.00 164.50,327.00C164.67,327.00 164.83,327.00 165.00,326.99C165.17,326.99 165.33,326.99 165.50,326.99C165.67,326.98 165.83,326.97 166.00,326.97C166.17,326.96 166.33,326.94 166.50,326.92C166.67,326.90 166.83,326.87 167.00,326.82C167.17,326.78 167.33,326.71 167.50,326.62C167.67,326.53 167.83,326.40 168.00,326.23C168.17,326.07 168.33,325.82 168.50,325.52C168.67,325.22 168.83,324.80 169.00,324.28C169.17,323.77 169.33,323.07 169.50,322.23C169.67,321.40 169.83,320.30 170.00,319.02C170.17,317.74 170.33,316.11 170.50,314.26C170.67,312.41 170.83,310.12 171.00,307.60C171.17,305.07 171.33,302.05 171.50,298.81C171.67,295.58 171.83,291.83 172.00,287.95C172.17,284.06 172.33,279.72 172.50,275.39C172.67,271.06 172.83,266.38 173.00,261.94C173.17,257.50 173.33,252.86 173.50,248.77C173.67,244.68 173.83,240.52 174.00,237.28C174.17,234.04 174.33,230.74 174.50,228.85C174.67,226.96 174.83,224.59 175.00,224.59C175.17,224.59 175.33,224.78 175.50,225.07C175.67,225.37 175.83,228.03 176.00,230.23C176.17,232.43 176.33,235.92 176.50,239.38C176.67,242.83 176.83,247.12 177.00,251.32C177.17,255.52 177.33,260.20 177.50,264.65C177.67,269.10 177.83,273.74 178.00,278.00C178.17,282.27 178.33,286.51 178.50,290.27C178.67,294.04 178.83,297.65 179.00,300.74C179.17,303.84 179.33,306.71 179.50,309.09C179.67,311.48 179.83,313.63 180.00,315.35C180.17,317.08 180.33,318.59 180.50,319.77C180.67,320.95 180.83,321.96 181.00,322.72C181.17,323.48 181.33,324.12 181.50,324.59C181.67,325.05 181.83,325.43 182.00,325.70C182.17,325.97 182.33,326.18 182.50,326.33C182.67,326.48 182.83,326.60 183.00,326.67C183.17,326.75 183.33,326.81 183.50,326.85C183.67,326.89 183.83,326.91 184.00,326.93C184.17,326.95 184.33,326.96 184.50,326.97C184.67,326.98 184.83,326.98 185.00,326.99C185.17,326.99 185.33,326.99 185.50,327.00C185.67,327.00 185.83,327.00 186.00,327.00C186.17,327.00 186.33,327.00 186.50,327.00C186.67,327.00 186.83,327.00 187.00,327.00C187.17,327.00 187.33,327.00 187.50,327.00C187.67,327.00 187.83,327.00 188.00,327.00C188.17,327.00 188.33,327.00 188.50,327.00C188.67,327.00 188.83,327.00 189.00,327.00C189.17,327.00 189.33,327.00 189.50,327.00C189.67,327.00 189.83,327.00 190.00,327.00C190.17,327.00 190.33,327.00 190.50,327.00C190.67,327.00 190.83,327.00 191.00,327.00C191.17,327.00 191.33,327.00 191.50,327.00C191.67,327.00 191.83,327.00 192.00,327.00C192.17,327.00 192.33,327.00 192.50,327.00C192.67,327.00 192.83,327.00 193.00,327.00C193.17,327.00 193.33,327.00 193.50,327.00C193.67,327.00 193.83,327.00 194.00,327.00C194.17,327.00 194.33,327.00 194.50,327.00C194.67,327.00 194.83,327.00 195.00,327.00C195.17,327.00 195.33,327.00 195.50,327.00C195.67,327.00 195.83,327.00 196.00,327.00C196.17,327.00 196.33,327.00 196.50,327.00C196.67,327.00 196.83,327.00 197.00,327.00C197.17,327.00 197.33,327.00 197.50,327.00C197.67,327.00 197.83,327.00 198.00,327.00C198.17,327.00 198.33,327.00 198.50,327.00C198.67,327.00 198.83,327.00 199.00,327.00C199.17,327.00 199.33,327.00 199.50,327.00C199.67,327.00 199.83,327.00 200.00,327.00C200.17,327.00 200.33,327.00 200.50,327.00C200.67,327.00 200.83,327.00 201.00,327.00C201.17,327.00 201.33,327.00 201.50,327.00C201.67,327.00 201.83,327.00 202.00,327.00C202.17,327.00 202.33,327.00 202.50,327.00C202.67,327.00 202.83,327.00 203.00,327.00C203.17,327.00 203.33,327.00 203.50,327.00C203.67,327.00 203.83,327.00 204.00,327.00C204.17,327.00 204.33,327.00 204.50,327.00C204.67,327.00 204.83,327.00 205.00,326.99C205.17,326.99 205.33,326.99 205.50,326.99C205.67,326.99 205.83,326.99 206.00,326.99C206.17,326.99 206.33,326.99 206.50,326.99C206.67,326.99 206.83,326.99 207.00,326.98C207.17,326.98 207.33,326.98 207.50,326.97C207.67,326.97 207.83,326.96 208.00,326.95C208.17,326.95 208.33,326.93 208.50,326.92C208.67,326.90 208.83,326.88 209.00,326.85C209.17,326.82 209.33,326.77 209.50,326.71C209.67,326.66 209.83,326.57 210.00,326.47C210.17,326.37 210.33,326.23 210.50,326.05C210.67,325.88 210.83,325.64 211.00,325.35C211.17,325.07 211.33,324.69 211.50,324.24C211.67,323.80 211.83,323.23 212.00,322.57C212.17,321.91 212.33,321.08 212.50,320.16C212.67,319.23 212.83,318.10 213.00,316.87C213.17,315.64 213.33,314.18 213.50,312.63C213.67,311.08 213.83,309.30 214.00,307.47C214.17,305.63 214.33,303.60 214.50,301.57C214.67,299.54 214.83,297.36 215.00,295.28C215.17,293.21 215.33,291.04 215.50,289.11C215.67,287.18 215.83,285.23 216.00,283.66C216.17,282.09 216.33,280.51 216.50,279.51C216.67,278.51 216.83,277.34 217.00,277.16C217.17,276.98 217.33,276.86 217.50,276.86C217.67,276.86 217.83,277.61 218.00,278.22C218.17,278.83 218.33,279.92 218.50,281.01C218.67,282.11 218.83,283.53 219.00,284.98C219.17,286.43 219.33,288.11 219.50,289.77C219.67,291.44 219.83,293.25 220.00,295.01C220.17,296.77 220.33,298.59 220.50,300.32C220.67,302.05 220.83,303.78 221.00,305.38C221.17,306.98 221.33,308.54 221.50,309.95C221.67,311.35 221.83,312.69 222.00,313.87C222.17,315.05 222.33,316.15 222.50,317.09C222.67,318.03 222.83,318.90 223.00,319.62C223.17,320.34 223.33,320.99 223.50,321.51C223.67,322.04 223.83,322.51 224.00,322.88C224.17,323.24 224.33,323.56 224.50,323.81C224.67,324.05 224.83,324.26 225.00,324.41C225.17,324.56 225.33,324.68 225.50,324.77C225.67,324.85 225.83,324.92 226.00,324.96C226.17,325.00 226.33,325.04 226.50,325.05C226.67,325.06 226.83,325.06 227.00,325.06C227.17,325.06 227.33,325.05 227.50,325.04C227.67,325.03 227.83,325.01 228.00,324.99C228.17,324.97 228.33,324.95 228.50,324.93C228.67,324.91 228.83,324.89 229.00,324.87C229.17,324.85 229.33,324.83 229.50,324.81C229.67,324.79 229.83,324.77 230.00,324.76C230.17,324.74 230.33,324.72 230.50,324.70C230.67,324.68 230.83,324.67 231.00,324.65C231.17,324.63 231.33,324.62 231.50,324.60C231.67,324.59 231.83,324.57 232.00,324.55C232.17,324.53 232.33,324.51 232.50,324.49C232.67,324.47 232.83,324.45 233.00,324.42C233.17,324.40 233.33,324.37 233.50,324.33C233.67,324.30 233.83,324.26 234.00,324.22C234.17,324.18 234.33,324.14 234.50,324.09C234.67,324.04 234.83,323.98 235.00,323.92C235.17,323.87 235.33,323.80 235.50,323.74C235.67,323.68 235.83,323.61 236.00,323.55C236.17,323.49 236.33,323.42 236.50,323.37C236.67,323.31 236.83,323.25 237.00,323.21C237.17,323.17 237.33,323.12 237.50,323.10C237.67,323.09 237.83,323.07 238.00,323.07C238.17,323.07 238.33,323.09 238.50,323.11C238.67,323.13 238.83,323.18 239.00,323.23C239.17,323.28 239.33,323.35 239.50,323.43C239.67,323.50 239.83,323.60 240.00,323.69C240.17,323.79 240.33,323.89 240.50,324.00C240.67,324.11 240.83,324.22 241.00,324.33C241.17,324.44 241.33,324.55 241.50,324.66C241.67,324.77 241.83,324.87 242.00,324.97C242.17,325.07 242.33,325.16 242.50,325.25C242.67,325.33 242.83,325.41 243.00,325.48C243.17,325.54 243.33,325.61 243.50,325.65C243.67,325.70 243.83,325.75 244.00,325.77C244.17,325.79 244.33,325.81 244.50,325.81C244.67,325.81 244.83,325.79 245.00,325.77C245.17,325.74 245.33,325.68 245.50,325.62C245.67,325.56 245.83,325.46 246.00,325.36C246.17,325.26 246.33,325.14 246.50,325.00C246.67,324.87 246.83,324.71 247.00,324.56C247.17,324.41 247.33,324.24 247.50,324.09C247.67,323.94 247.83,323.78 248.00,323.66C248.17,323.54 248.33,323.41 248.50,323.34C248.67,323.27 248.83,323.19 249.00,323.19C249.17,323.19 249.33,323.22 249.50,323.25C249.67,323.29 249.83,323.41 250.00,323.52C250.17,323.63 250.33,323.79 250.50,323.95C250.67,324.10 250.83,324.29 251.00,324.47C251.17,324.65 251.33,324.85 251.50,325.03C251.67,325.21 251.83,325.39 252.00,325.54C252.17,325.70 252.33,325.85 252.50,325.98C252.67,326.11 252.83,326.22 253.00,326.32C253.17,326.41 253.33,326.50 253.50,326.56C253.67,326.62 253.83,326.68 254.00,326.72C254.17,326.75 254.33,326.79 254.50,326.80C254.67,326.82 254.83,326.83 255.00,326.83C255.17,326.83 255.33,326.81 255.50,326.79C255.67,326.77 255.83,326.72 256.00,326.66C256.17,326.60 256.33,326.49 256.50,326.37C256.67,326.24 256.83,326.05 257.00,325.81C257.17,325.57 257.33,325.23 257.50,324.82C257.67,324.41 257.83,323.84 258.00,323.16C258.17,322.48 258.33,321.58 258.50,320.52C258.67,319.47 258.83,318.12 259.00,316.58C259.17,315.03 259.33,313.11 259.50,310.98C259.67,308.85 259.83,306.29 260.00,303.52C260.17,300.75 260.33,297.53 260.50,294.16C260.67,290.80 260.83,287.00 261.00,283.19C261.17,279.38 261.33,275.23 261.50,271.26C261.67,267.28 261.83,263.09 262.00,259.34C262.17,255.59 262.33,251.75 262.50,248.66C262.67,245.58 262.83,242.46 263.00,240.49C263.17,238.53 263.33,236.14 263.50,235.88C263.67,235.61 263.83,235.45 264.00,235.45C264.17,235.45 264.33,237.57 264.50,239.26C264.67,240.95 264.83,243.90 265.00,246.79C265.17,249.69 265.33,253.41 265.50,257.07C265.67,260.72 265.83,264.87 266.00,268.84C266.17,272.80 266.33,276.99 266.50,280.86C266.67,284.73 266.83,288.62 267.00,292.09C267.17,295.56 267.33,298.91 267.50,301.80C267.67,304.70 267.83,307.40 268.00,309.65C268.17,311.91 268.33,313.95 268.50,315.61C268.67,317.26 268.83,318.72 269.00,319.87C269.17,321.01 269.33,321.99 269.50,322.74C269.67,323.48 269.83,324.11 270.00,324.57C270.17,325.03 270.33,325.41 270.50,325.67C270.67,325.94 270.83,326.16 271.00,326.30C271.17,326.45 271.33,326.57 271.50,326.63C271.67,326.70 271.83,326.76 272.00,326.78C272.17,326.80 272.33,326.82 272.50,326.82C272.67,326.82 272.83,326.79 273.00,326.77C273.17,326.75 273.33,326.70 273.50,326.65C273.67,326.60 273.83,326.53 274.00,326.45C274.17,326.38 274.33,326.29 274.50,326.19C274.67,326.09 274.83,325.97 275.00,325.85C275.17,325.74 275.33,325.61 275.50,325.48C275.67,325.36 275.83,325.23 276.00,325.11C276.17,325.00 276.33,324.88 276.50,324.79C276.67,324.71 276.83,324.61 277.00,324.58C277.17,324.54 277.33,324.50 277.50,324.50C277.67,324.50 277.83,324.54 278.00,324.58C278.17,324.61 278.33,324.71 278.50,324.79C278.67,324.88 278.83,325.00 279.00,325.11C279.17,325.23 279.33,325.36 279.50,325.48C279.67,325.61 279.83,325.74 280.00,325.86C280.17,325.97 280.33,326.09 280.50,326.19C280.67,326.29 280.83,326.38 281.00,326.46C281.17,326.54 281.33,326.61 281.50,326.66C281.67,326.72 281.83,326.76 282.00,326.80C282.17,326.84 282.33,326.87 282.50,326.89C282.67,326.91 282.83,326.93 283.00,326.94C283.17,326.96 283.33,326.97 283.50,326.97C283.67,326.98 283.83,326.98 284.00,326.99C284.17,326.99 284.33,326.99 284.50,326.99C284.67,327.00 284.83,327.00 285.00,327.00C285.17,327.00 285.33,327.00 285.50,327.00C285.67,327.00 285.83,327.00 286.00,327.00C286.17,327.00 286.33,327.00 286.50,327.00C286.67,327.00 286.83,327.00 287.00,327.00C287.17,327.00 287.33,327.00 287.50,327.00C287.67,327.00 287.83,327.00 288.00,327.00C288.17,327.00 288.33,327.00 288.50,327.00C288.67,327.00 288.83,327.00 289.00,327.00C289.17,327.00 289.33,327.00 289.50,327.00C289.67,327.00 289.83,327.00 290.00,327.00C290.17,327.00 290.33,327.00 290.50,327.00C290.67,327.00 290.83,327.00 291.00,327.00C291.17,327.00 291.33,327.00 291.50,327.00C291.67,327.00 291.83,327.00 292.00,327.00C292.17,327.00 292.33,327.00 292.50,327.00C292.67,327.00 292.83,327.00 293.00,327.00C293.17,327.00 293.33,327.00 293.50,327.00C293.67,327.00 293.83,327.00 294.00,327.00C294.17,327.00 294.33,327.00 294.50,327.00C294.67,327.00 294.83,327.00 295.00,327.00C295.17,327.00 295.33,327.00 295.50,327.00C295.67,327.00 295.83,327.00 296.00,327.00C296.17,327.00 296.33,327.00 296.50,327.00C296.67,327.00 296.83,327.00 297.00,327.00C297.17,327.00 297.33,327.00 297.50,327.00C297.67,327.00 297.83,327.00 298.00,327.00C298.17,327.00 298.33,327.00 298.50,327.00C298.67,327.00 298.83,327.00 299.00,327.00C299.17,327.00 299.33,327.00 299.50,327.00C299.67,327.00 299.83,327.00 300.00,327.00C300.17,327.00 300.33,327.00 300.50,327.00C300.67,327.00 300.83,327.00 301.00,327.00C301.17,327.00 301.33,327.00 301.50,327.00C301.67,327.00 301.83,327.00 302.00,327.00C302.17,327.00 302.33,327.00 302.50,327.00C302.67,327.00 302.83,327.00 303.00,327.00C303.17,327.00 303.33,327.00 303.50,327.00C303.67,327.00 303.83,327.00 304.00,327.00C304.17,327.00 304.33,327.00 304.50,327.00C304.67,327.00 304.83,327.00 305.00,327.00C305.17,327.00 305.33,327.00 305.50,327.00C305.67,327.00 305.83,327.00 306.00,327.00C306.17,327.00 306.33,327.00 306.50,327.00C306.67,327.00 306.83,327.00 307.00,327.00C307.17,327.00 307.33,327.00 307.50,327.00C307.67,327.00 307.83,327.00 308.00,327.00C308.17,327.00 308.33,327.00 308.50,327.00C308.67,327.00 308.83,327.00 309.00,327.00C309.17,327.00 309.33,327.00 309.50,327.00C309.67,327.00 309.83,327.00 310.00,327.00C310.17,327.00 310.33,327.00 310.50,327.00C310.67,327.00 310.83,327.00 311.00,327.00C311.17,327.00 311.33,327.00 311.50,327.00C311.67,327.00 311.83,327.00 312.00,327.00C312.17,327.00 312.33,327.00 312.50,327.00C312.67,327.00 312.83,327.00 313.00,327.00C313.17,327.00 313.33,327.00 313.50,327.00C313.67,327.00 313.83,327.00 314.00,327.00C314.17,327.00 314.33,327.00 314.50,327.00C314.67,327.00 314.83,327.00 315.00,327.00C315.17,327.00 315.33,327.00 315.50,327.00C315.67,327.00 315.83,327.00 316.00,327.00C316.17,327.00 316.33,327.00 316.50,327.00C316.67,327.00 316.83,327.00 317.00,327.00C317.17,327.00 317.33,327.00 317.50,327.00C317.67,327.00 317.83,327.00 318.00,327.00C318.17,327.00 318.33,327.00 318.50,327.00C318.67,327.00 318.83,327.00 319.00,327.00C319.17,327.00 319.33,327.00 319.50,327.00C319.67,327.00 319.83,327.00 320.00,327.00C320.17,327.00 320.33,327.00 320.50,327.00C320.67,327.00 320.83,327.00 321.00,327.00C321.17,327.00 321.33,327.00 321.50,327.00C321.67,327.00 321.83,327.00 322.00,327.00C322.17,327.00 322.33,327.00 322.50,327.00C322.67,327.00 322.83,327.00 323.00,327.00C323.17,327.00 323.33,327.00 323.50,327.00C323.67,327.00 323.83,327.00 324.00,327.00C324.17,327.00 324.33,327.00 324.50,327.00C324.67,327.00 324.83,327.00 325.00,327.00C325.17,327.00 325.33,327.00 325.50,327.00C325.67,327.00 325.83,327.00 326.00,327.00C326.17,327.00 326.33,327.00 326.50,327.00C326.67,327.00 326.83,327.00 327.00,327.00C327.17,327.00 327.33,327.00 327.50,327.00C327.67,327.00 327.83,327.00 328.00,327.00C328.17,327.00 328.33,327.00 328.50,327.00C328.67,327.00 328.83,327.00 329.00,327.00C329.17,327.00 329.33,327.00 329.50,327.00C329.67,327.00 329.83,327.00 330.00,327.00C330.17,327.00 330.33,327.00 330.50,327.00C330.67,327.00 330.83,327.00 331.00,327.00C331.17,327.00 331.33,327.00 331.50,327.00C331.67,327.00 331.83,327.00 332.00,327.00C332.17,327.00 332.33,327.00 332.50,327.00C332.67,327.00 332.83,327.00 333.00,327.00C333.17,327.00 333.33,327.00 333.50,327.00C333.67,327.00 333.83,327.00 334.00,327.00C334.17,327.00 334.33,327.00 334.50,327.00C334.67,327.00 334.83,327.00 335.00,327.00C335.17,327.00 335.33,327.00 335.50,327.00C335.67,327.00 335.83,327.00 336.00,327.00C336.17,327.00 336.33,327.00 336.50,327.00C336.67,327.00 336.83,327.00 337.00,327.00C337.17,327.00 337.33,327.00 337.50,327.00C337.67,327.00 337.83,327.00 338.00,327.00C338.17,327.00 338.33,327.00 338.50,327.00C338.67,327.00 338.83,327.00 339.00,327.00C339.17,327.00 339.33,327.00 339.50,327.00C339.67,327.00 339.83,327.00 340.00,327.00C340.17,327.00 340.33,327.00 340.50,327.00C340.67,327.00 340.83,327.00 341.00,327.00C341.17,327.00 341.33,327.00 341.50,327.00C341.67,327.00 341.83,327.00 342.00,327.00C342.17,327.00 342.33,327.00 342.50,327.00C342.67,327.00 342.83,327.00 343.00,327.00C343.17,327.00 343.33,327.00 343.50,327.00C343.67,327.00 343.83,327.00 344.00,327.00C344.17,327.00 344.33,327.00 344.50,327.00C344.67,327.00 344.83,327.00 345.00,327.00C345.17,327.00 345.33,327.00 345.50,327.00C345.67,327.00 345.83,327.00 346.00,327.00C346.17,327.00 346.33,327.00 346.50,327.00C346.67,327.00 346.83,327.00 347.00,327.00C347.17,327.00 347.33,327.00 347.50,327.00C347.67,327.00 347.83,327.00 348.00,327.00C348.17,327.00 348.33,327.00 348.50,327.00C348.67,327.00 348.83,327.00 349.00,327.00C349.17,327.00 349.33,327.00 349.50,327.00C349.67,327.00 349.83,327.00 350.00,327.00C350.17,327.00 350.33,327.00 350.50,327.00C350.67,327.00 350.83,327.00 351.00,327.00C351.17,327.00 351.33,327.00 351.50,327.00C351.67,327.00 351.83,327.00 352.00,327.00C352.17,327.00 352.33,327.00 352.50,327.00C352.67,327.00 352.83,327.00 353.00,327.00C353.17,327.00 353.33,327.00 353.50,327.00C353.67,327.00 353.83,327.00 354.00,327.00C354.17,327.00 354.33,327.00 354.50,327.00C354.67,327.00 354.83,327.00 355.00,327.00C355.17,327.00 355.33,327.00 355.50,327.00C355.67,327.00 355.83,327.00 356.00,327.00C356.17,327.00 356.33,327.00 356.50,327.00C356.67,327.00 356.83,327.00 357.00,327.00C357.17,327.00 357.33,327.00 357.50,327.00C357.67,327.00 357.83,327.00 358.00,327.00C358.17,327.00 358.33,327.00 358.50,327.00C358.67,327.00 358.83,327.00 359.00,327.00C359.17,327.00 359.33,327.00 359.50,327.00C359.67,327.00 359.83,327.00 360.00,327.00C360.17,327.00 360.33,327.00 360.50,327.00C360.67,327.00 360.83,327.00 361.00,327.00C361.17,327.00 361.33,327.00 361.50,327.00C361.67,327.00 361.83,327.00 362.00,327.00C362.17,327.00 362.33,327.00 362.50,327.00C362.67,327.00 362.83,327.00 363.00,327.00C363.17,327.00 363.33,327.00 363.50,327.00C363.67,327.00 363.83,327.00 364.00,327.00C364.17,327.00 364.33,327.00 364.50,327.00C364.67,327.00 364.83,327.00 365.00,327.00C365.17,327.00 365.33,327.00 365.50,327.00C365.67,327.00 365.83,327.00 366.00,327.00C366.17,327.00 366.33,327.00 366.50,327.00C366.67,327.00 366.83,327.00 367.00,327.00C367.17,327.00 367.33,327.00 367.50,327.00C367.67,327.00 367.83,327.00 368.00,327.00C368.17,327.00 368.33,327.00 368.50,327.00C368.67,327.00 368.83,327.00 369.00,327.00C369.17,327.00 369.33,327.00 369.50,327.00C369.67,327.00 369.83,327.00 370.00,327.00C370.17,327.00 370.33,327.00 370.50,327.00C370.67,327.00 370.83,327.00 371.00,327.00C371.17,327.00 371.33,327.00 371.50,327.00C371.67,327.00 371.83,327.00 372.00,327.00C372.17,327.00 372.33,327.00 372.50,327.00C372.67,327.00 372.83,327.00 373.00,327.00C373.17,327.00 373.33,327.00 373.50,327.00C373.67,327.00 373.83,327.00 374.00,327.00" fill="none" stroke="#111111" stroke-width="1.4" stroke-linejoin="round"/>
<path d="M36.00,327.10C36.17,327.10 36.33,327.10 36.50,327.10C36.67,327.10 36.83,327.10 37.00,327.10C37.17,327.10 37.33,327.10 37.50,327.10C37.67,327.10 37.83,327.10 38.00,327.10C38.17,327.10 38.33,327.10 38.50,327.10C38.67,327.10 38.83,327.10 39.00,327.10C39.17,327.10 39.33,327.10 39.50,327.10C39.67,327.10 39.83,327.10 40.00,327.10C40.17,327.10 40.33,327.10 40.50,327.10C40.67,327.10 40.83,327.10 41.00,327.10C41.17,327.10 41.33,327.10 41.50,327.10C41.67,327.10 41.83,327.10 42.00,327.10C42.17,327.10 42.33,327.10 42.50,327.10C42.67,327.10 42.83,327.10 43.00,327.10C43.17,327.10 43.33,327.10 43.50,327.10C43.67,327.10 43.83,327.10 44.00,327.10C44.17,327.10 44.33,327.10 44.50,327.10C44.67,327.10 44.83,327.10 45.00,327.10C45.17,327.10 45.33,327.10 45.50,327.10C45.67,327.10 45.83,327.10 46.00,327.10C46.17,327.10 46.33,327.10 46.50,327.10C46.67,327.10 46.83,327.10 47.00,327.10C47.17,327.10 47.33,327.10 47.50,327.10C47.67,327.10 47.83,327.10 48.00,327.10C48.17,327.10 48.33,327.10 48.50,327.10C48.67,327.10 48.83,327.10 49.00,327.10C49.17,327.10 49.33,327.10 49.50,327.10C49.67,327.10 49.83,327.10 50.00,327.10C50.17,327.10 50.33,327.10 50.50,327.10C50.67,327.10 50.83,327.10 51.00,327.10C51.17,327.10 51.33,327.10 51.50,327.10C51.67,327.10 51.83,327.10 52.00,327.10C52.17,327.10 52.33,327.10 52.50,327.10C52.67,327.10 52.83,327.10 53.00,327.10C53.17,327.10 53.33,327.10 53.50,327.10C53.67,327.10 53.83,327.10 54.00,327.10C54.17,327.10 54.33,327.10 54.50,327.10C54.67,327.10 54.83,327.10 55.00,327.10C55.17,327.10 55.33,327.10 55.50,327.10C55.67,327.10 55.83,327.10 56.00,327.10C56.17,327.10 56.33,327.10 56.50,327.10C56.67,327.10 56.83,327.10 57.00,327.10C57.17,327.10 57.33,327.10 57.50,327.10C57.67,327.10 57.83,327.10 58.00,327.10C58.17,327.10 58.33,327.10 58.50,327.10C58.67,327.10 58.83,327.10 59.00,327.10C59.17,327.10 59.33,327.10 59.50,327.10C59.67,327.10 59.83,327.10 60.00,327.10C60.17,327.10 60.33,327.10 60.50,327.10C60.67,327.10 60.83,327.10 61.00,327.10C61.17,327.10 61.33,327.10 61.50,327.10C61.67,327.10 61.83,327.10 62.00,327.10C62.17,327.10 62.33,327.10 62.50,327.10C62.67,327.10 62.83,327.10 63.00,327.10C63.17,327.10 63.33,327.10 63.50,327.10C63.67,327.10 63.83,327.10 64.00,327.10C64.17,327.10 64.33,327.10 64.50,327.10C64.67,327.10 64.83,327.10 65.00,327.10C65.17,327.10 65.33,327.10 65.50,327.10C65.67,327.10 65.83,327.10 66.00,327.10C66.17,327.10 66.33,327.09 66.50,327.09C66.67,327.09 66.83,327.08 67.00,327.08C67.17,327.07 67.33,327.06 67.50,327.05C67.67,327.04 67.83,327.02 68.00,326.99C68.17,326.97 68.33,326.93 68.50,326.87C68.67,326.82 68.83,326.75 69.00,326.65C69.17,326.56 69.33,326.42 69.50,326.26C69.67,326.09 69.83,325.86 70.00,325.59C70.17,325.31 70.33,324.95 70.50,324.52C70.67,324.10 70.83,323.55 71.00,322.93C71.17,322.31 71.33,321.54 71.50,320.70C71.67,319.86 71.83,318.84 72.00,317.77C72.17,316.69 72.33,315.45 72.50,314.18C72.67,312.91 72.83,311.49 73.00,310.11C73.17,308.73 73.33,307.25 73.50,305.89C73.67,304.53 73.83,303.12 74.00,301.95C74.17,300.77 74.33,299.58 74.50,298.77C74.67,297.96 74.83,297.06 75.00,296.80C75.17,296.55 75.33,296.33 75.50,296.33C75.67,296.33 75.83,296.92 76.00,297.42C76.17,297.93 76.33,298.94 76.50,299.92C76.67,300.89 76.83,302.19 77.00,303.46C77.17,304.73 77.33,306.18 77.50,307.57C77.67,308.96 77.83,310.43 78.00,311.78C78.17,313.13 78.33,314.49 78.50,315.69C78.67,316.89 78.83,318.04 79.00,319.03C79.17,320.01 79.33,320.92 79.50,321.68C79.67,322.43 79.83,323.10 80.00,323.64C80.17,324.18 80.33,324.64 80.50,325.00C80.67,325.36 80.83,325.67 81.00,325.89C81.17,326.12 81.33,326.31 81.50,326.44C81.67,326.57 81.83,326.68 82.00,326.76C82.17,326.83 82.33,326.89 82.50,326.93C82.67,326.97 82.83,327.00 83.00,327.02C83.17,327.04 83.33,327.06 83.50,327.06C83.67,327.07 83.83,327.08 84.00,327.09C84.17,327.09 84.33,327.09 84.50,327.09C84.67,327.10 84.83,327.10 85.00,327.10C85.17,327.10 85.33,327.10 85.50,327.10C85.67,327.10 85.83,327.10 86.00,327.10C86.17,327.10 86.33,327.10 86.50,327.10C86.67,327.10 86.83,327.10 87.00,327.10C87.17,327.10 87.33,327.10 87.50,327.10C87.67,327.10 87.83,327.10 88.00,327.10C88.17,327.10 88.33,327.10 88.50,327.10C88.67,327.10 88.83,327.10 89.00,327.10C89.17,327.10 89.33,327.10 89.50,327.10C89.67,327.10 89.83,327.10 90.00,327.10C90.17,327.10 90.33,327.10 90.50,327.10C90.67,327.10 90.83,327.10 91.00,327.10C91.17,327.10 91.33,327.10 91.50,327.10C91.67,327.10 91.83,327.10 92.00,327.10C92.17,327.10 92.33,327.10 92.50,327.10C92.67,327.10 92.83,327.10 93.00,327.10C93.17,327.10 93.33,327.10 93.50,327.10C93.67,327.10 93.83,327.10 94.00,327.10C94.17,327.10 94.33,327.10 94.50,327.10C94.67,327.10 94.83,327.10 95.00,327.10C95.17,327.10 95.33,327.10 95.50,327.10C95.67,327.10 95.83,327.10 96.00,327.10C96.17,327.10 96.33,327.10 96.50,327.10C96.67,327.10 96.83,327.10 97.00,327.10C97.17,327.10 97.33,327.10 97.50,327.10C97.67,327.10 97.83,327.10 98.00,327.10C98.17,327.10 98.33,327.10 98.50,327.10C98.67,327.10 98.83,327.10 99.00,327.10C99.17,327.10 99.33,327.10 99.50,327.10C99.67,327.10 99.83,327.10 100.00,327.10C100.17,327.10 100.33,327.10 100.50,327.10C100.67,327.10 100.83,327.10 101.00,327.10C101.17,327.10 101.33,327.10 101.50,327.10C101.67,327.10 101.83,327.10 102.00,327.10C102.17,327.10 102.33,327.10 102.50,327.10C102.67,327.10 102.83,327.10 103.00,327.10C103.17,327.10 103.33,327.10 103.50,327.10C103.67,327.10 103.83,327.10 104.00,327.10C104.17,327.10 104.33,327.10 104.50,327.10C104.67,327.10 104.83,327.10 105.00,327.10C105.17,327.10 105.33,327.10 105.50,327.10C105.67,327.10 105.83,327.10 106.00,327.10C106.17,327.10 106.33,327.10 106.50,327.10C106.67,327.10 106.83,327.10 107.00,327.10C107.17,327.10 107.33,327.10 107.50,327.10C107.67,327.10 107.83,327.10 108.00,327.10C108.17,327.10 108.33,327.10 108.50,327.10C108.67,327.10 108.83,327.10 109.00,327.10C109.17,327.10 109.33,327.10 109.50,327.10C109.67,327.10 109.83,327.10 110.00,327.10C110.17,327.10 110.33,327.10 110.50,327.10C110.67,327.10 110.83,327.10 111.00,327.10C111.17,327.10 111.33,327.10 111.50,327.10C111.67,327.10 111.83,327.10 112.00,327.10C112.17,327.10 112.33,327.10 112.50,327.10C112.67,327.10 112.83,327.10 113.00,327.10C113.17,327.10 113.33,327.10 113.50,327.10C113.67,327.10 113.83,327.10 114.00,327.10C114.17,327.10 114.33,327.10 114.50,327.10C114.67,327.10 114.83,327.10 115.00,327.10C115.17,327.10 115.33,327.10 115.50,327.10C115.67,327.10 115.83,327.10 116.00,327.10C116.17,327.10 116.33,327.10 116.50,327.10C116.67,327.10 116.83,327.10 117.00,327.10C117.17,327.10 117.33,327.10 117.50,327.10C117.67,327.10 117.83,327.10 118.00,327.10C118.17,327.10 118.33,327.10 118.50,327.10C118.67,327.10 118.83,327.10 119.00,327.10C119.17,327.10 119.33,327.10 119.50,327.10C119.67,327.10 119.83,327.10 120.00,327.10C120.17,327.10 120.33,327.10 120.50,327.10C120.67,327.10 120.83,327.10 121.00,327.10C121.17,327.10 121.33,327.10 121.50,327.10C121.67,327.10 121.83,327.10 122.00,327.10C122.17,327.10 122.33,327.10 122.50,327.10C122.67,327.10 122.83,327.10 123.00,327.10C123.17,327.10 123.33,327.10 123.50,327.10C123.67,327.10 123.83,327.10 124.00,327.10C124.17,327.10 124.33,327.10 124.50,327.10C124.67,327.10 124.83,327.10 125.00,327.10C125.17,327.10 125.33,327.10 125.50,327.10C125.67,327.10 125.83,327.10 126.00,327.10C126.17,327.10 126.33,327.10 126.50,327.10C126.67,327.10 126.83,327.10 127.00,327.10C127.17,327.10 127.33,327.10 127.50,327.10C127.67,327.10 127.83,327.10 128.00,327.10C128.17,327.10 128.33,327.10 128.50,327.10C128.67,327.10 128.83,327.10 129.00,327.10C129.17,327.10 129.33,327.10 129.50,327.10C129.67,327.10 129.83,327.10 130.00,327.10C130.17,327.10 130.33,327.10 130.50,327.10C130.67,327.10 130.83,327.10 131.00,327.10C131.17,327.10 131.33,327.10 131.50,327.10C131.67,327.10 131.83,327.10 132.00,327.10C132.17,327.10 132.33,327.10 132.50,327.10C132.67,327.10 132.83,327.10 133.00,327.10C133.17,327.10 133.33,327.10 133.50,327.10C133.67,327.10 133.83,327.10 134.00,327.10C134.17,327.10 134.33,327.10 134.50,327.10C134.67,327.10 134.83,327.10 135.00,327.09C135.17,327.09 135.33,327.09 135.50,327.08C135.67,327.08 135.83,327.07 136.00,327.06C136.17,327.05 136.33,327.03 136.50,327.01C136.67,326.99 136.83,326.95 137.00,326.90C137.17,326.86 137.33,326.78 137.50,326.69C137.67,326.60 137.83,326.47 138.00,326.30C138.17,326.13 138.33,325.89 138.50,325.60C138.67,325.31 138.83,324.91 139.00,324.44C139.17,323.97 139.33,323.34 139.50,322.62C139.67,321.90 139.83,320.97 140.00,319.93C140.17,318.89 140.33,317.61 140.50,316.21C140.67,314.81 140.83,313.15 141.00,311.39C141.17,309.63 141.33,307.61 141.50,305.57C141.67,303.52 141.83,301.26 142.00,299.08C142.17,296.89 142.33,294.57 142.50,292.47C142.67,290.37 142.83,288.20 143.00,286.45C143.17,284.70 143.33,282.92 143.50,281.80C143.67,280.67 143.83,279.30 144.00,279.15C144.17,279.00 144.33,278.90 144.50,278.90C144.67,278.90 144.83,280.12 145.00,281.09C145.17,282.06 145.33,283.74 145.50,285.39C145.67,287.04 145.83,289.14 146.00,291.19C146.17,293.24 146.33,295.56 146.50,297.74C146.67,299.93 146.83,302.22 147.00,304.31C147.17,306.40 147.33,308.47 147.50,310.30C147.67,312.12 147.83,313.86 148.00,315.33C148.17,316.81 148.33,318.17 148.50,319.28C148.67,320.39 148.83,321.38 149.00,322.16C149.17,322.94 149.33,323.62 149.50,324.14C149.67,324.65 149.83,325.09 150.00,325.41C150.17,325.73 150.33,326.00 150.50,326.19C150.67,326.38 150.83,326.53 151.00,326.63C151.17,326.74 151.33,326.82 151.50,326.87C151.67,326.93 151.83,326.97 152.00,326.99C152.17,327.02 152.33,327.04 152.50,327.05C152.67,327.07 152.83,327.08 153.00,327.08C153.17,327.09 153.33,327.09 153.50,327.09C153.67,327.09 153.83,327.10 154.00,327.10C154.17,327.10 154.33,327.10 154.50,327.10C154.67,327.10 154.83,327.10 155.00,327.10C155.17,327.10 155.33,327.10 155.50,327.10C155.67,327.10 155.83,327.10 156.00,327.10C156.17,327.10 156.33,327.10 156.50,327.10C156.67,327.10 156.83,327.10 157.00,327.10C157.17,327.10 157.33,327.10 157.50,327.10C157.67,327.10 157.83,327.10 158.00,327.10C158.17,327.10 158.33,327.10 158.50,327.10C158.67,327.10 158.83,327.10 159.00,327.10C159.17,327.10 159.33,327.10 159.50,327.10C159.67,327.10 159.83,327.10 160.00,327.10C160.17,327.10 160.33,327.10 160.50,327.10C160.67,327.10 160.83,327.10 161.00,327.10C161.17,327.10 161.33,327.10 161.50,327.10C161.67,327.10 161.83,327.10 162.00,327.10C162.17,327.10 162.33,327.10 162.50,327.10C162.67,327.10 162.83,327.10 163.00,327.10C163.17,327.10 163.33,327.10 163.50,327.10C163.67,327.10 163.83,327.10 164.00,327.10C164.17,327.10 164.33,327.10 164.50,327.10C164.67,327.10 164.83,327.10 165.00,327.10C165.17,327.09 165.33,327.09 165.50,327.09C165.67,327.08 165.83,327.08 166.00,327.07C166.17,327.06 166.33,327.05 166.50,327.03C166.67,327.02 166.83,326.99 167.00,326.95C167.17,326.91 167.33,326.86 167.50,326.78C167.67,326.71 167.83,326.60 168.00,326.46C168.17,326.32 168.33,326.12 168.50,325.86C168.67,325.61 168.83,325.26 169.00,324.83C169.17,324.40 169.33,323.81 169.50,323.11C169.67,322.41 169.83,321.49 170.00,320.42C170.17,319.35 170.33,317.99 170.50,316.44C170.67,314.89 170.83,312.98 171.00,310.87C171.17,308.75 171.33,306.23 171.50,303.52C171.67,300.81 171.83,297.68 172.00,294.43C172.17,291.18 172.33,287.54 172.50,283.92C172.67,280.30 172.83,276.38 173.00,272.67C173.17,268.96 173.33,265.08 173.50,261.66C173.67,258.23 173.83,254.76 174.00,252.04C174.17,249.33 174.33,246.57 174.50,244.99C174.67,243.41 174.83,241.42 175.00,241.42C175.17,241.42 175.33,241.58 175.50,241.83C175.67,242.07 175.83,244.31 176.00,246.15C176.17,247.99 176.33,250.91 176.50,253.80C176.67,256.68 176.83,260.27 177.00,263.79C177.17,267.30 177.33,271.22 177.50,274.94C177.67,278.66 177.83,282.54 178.00,286.11C178.17,289.68 178.33,293.23 178.50,296.38C178.67,299.53 178.83,302.54 179.00,305.13C179.17,307.72 179.33,310.12 179.50,312.12C179.67,314.12 179.83,315.91 180.00,317.36C180.17,318.80 180.33,320.07 180.50,321.05C180.67,322.04 180.83,322.89 181.00,323.52C181.17,324.16 181.33,324.69 181.50,325.08C181.67,325.47 181.83,325.79 182.00,326.01C182.17,326.24 182.33,326.42 182.50,326.54C182.67,326.66 182.83,326.76 183.00,326.83C183.17,326.89 183.33,326.94 183.50,326.97C183.67,327.00 183.83,327.03 184.00,327.04C184.17,327.06 184.33,327.07 184.50,327.08C184.67,327.08 184.83,327.09 185.00,327.09C185.17,327.09 185.33,327.10 185.50,327.10C185.67,327.10 185.83,327.10 186.00,327.10C186.17,327.10 186.33,327.10 186.50,327.10C186.67,327.10 186.83,327.10 187.00,327.10C187.17,327.10 187.33,327.10 187.50,327.10C187.67,327.10 187.83,327.10 188.00,327.10C188.17,327.10 188.33,327.10 188.50,327.10C188.67,327.10 188.83,327.10 189.00,327.10C189.17,327.10 189.33,327.10 189.50,327.10C189.67,327.10 189.83,327.10 190.00,327.10C190.17,327.10 190.33,327.10 190.50,327.10C190.67,327.10 190.83,327.10 191.00,327.10C191.17,327.10 191.33,327.10 191.50,327.10C191.67,327.10 191.83,327.10 192.00,327.10C192.17,327.10 192.33,327.10 192.50,327.10C192.67,327.10 192.83,327.10 193.00,327.10C193.17,327.10 193.33,327.10 193.50,327.10C193.67,327.10 193.83,327.10 194.00,327.10C194.17,327.10 194.33,327.10 194.50,327.10C194.67,327.10 194.83,327.10 195.00,327.10C195.17,327.10 195.33,327.10 195.50,327.10C195.67,327.10 195.83,327.10 196.00,327.10C196.17,327.10 196.33,327.10 196.50,327.10C196.67,327.10 196.83,327.10 197.00,327.10C197.17,327.10 197.33,327.10 197.50,327.10C197.67,327.10 197.83,327.10 198.00,327.10C198.17,327.10 198.33,327.10 198.50,327.10C198.67,327.10 198.83,327.10 199.00,327.10C199.17,327.10 199.33,327.10 199.50,327.10C199.67,327.10 199.83,327.10 200.00,327.10C200.17,327.10 200.33,327.10 200.50,327.10C200.67,327.10 200.83,327.10 201.00,327.10C201.17,327.10 201.33,327.10 201.50,327.10C201.67,327.10 201.83,327.10 202.00,327.10C202.17,327.10 202.33,327.10 202.50,327.10C202.67,327.10 202.83,327.10 203.00,327.10C203.17,327.10 203.33,327.10 203.50,327.10C203.67,327.10 203.83,327.10 204.00,327.10C204.17,327.10 204.33,327.10 204.50,327.10C204.67,327.10 204.83,327.10 205.00,327.10C205.17,327.10 205.33,327.10 205.50,327.10C205.67,327.10 205.83,327.10 206.00,327.10C206.17,327.10 206.33,327.10 206.50,327.10C206.67,327.10 206.83,327.10 207.00,327.10C207.17,327.10 207.33,327.10 207.50,327.10C207.67,327.10 207.83,327.10 208.00,327.10C208.17,327.10 208.33,327.10 208.50,327.10C208.67,327.10 208.83,327.10 209.00,327.10C209.17,327.10 209.33,327.10 209.50,327.10C209.67,327.10 209.83,327.10 210.00,327.10C210.17,327.10 210.33,327.10 210.50,327.10C210.67,327.10 210.83,327.10 211.00,327.10C211.17,327.10 211.33,327.10 211.50,327.10C211.67,327.10 211.83,327.10 212.00,327.10C212.17,327.10 212.33,327.10 212.50,327.10C212.67,327.10 212.83,327.10 213.00,327.10C213.17,327.10 213.33,327.10 213.50,327.10C213.67,327.10 213.83,327.10 214.00,327.10C214.17,327.10 214.33,327.10 214.50,327.10C214.67,327.10 214.83,327.10 215.00,327.10C215.17,327.10 215.33,327.10 215.50,327.10C215.67,327.10 215.83,327.10 216.00,327.10C216.17,327.10 216.33,327.10 216.50,327.10C216.67,327.10 216.83,327.10 217.00,327.10C217.17,327.10 217.33,327.10 217.50,327.10C217.67,327.10 217.83,327.10 218.00,327.10C218.17,327.10 218.33,327.10 218.50,327.10C218.67,327.10 218.83,327.10 219.00,327.10C219.17,327.10 219.33,327.10 219.50,327.10C219.67,327.10 219.83,327.10 220.00,327.10C220.17,327.10 220.33,327.10 220.50,327.10C220.67,327.10 220.83,327.10 221.00,327.10C221.17,327.10 221.33,327.10 221.50,327.10C221.67,327.10 221.83,327.10 222.00,327.10C222.17,327.10 222.33,327.10 222.50,327.10C222.67,327.10 222.83,327.10 223.00,327.10C223.17,327.10 223.33,327.10 223.50,327.10C223.67,327.10 223.83,327.10 224.00,327.10C224.17,327.10 224.33,327.10 224.50,327.10C224.67,327.10 224.83,327.10 225.00,327.10C225.17,327.10 225.33,327.10 225.50,327.10C225.67,327.10 225.83,327.10 226.00,327.10C226.17,327.10 226.33,327.10 226.50,327.10C226.67,327.10 226.83,327.10 227.00,327.10C227.17,327.10 227.33,327.10 227.50,327.10C227.67,327.10 227.83,327.10 228.00,327.10C228.17,327.10 228.33,327.10 228.50,327.10C228.67,327.10 228.83,327.10 229.00,327.10C229.17,327.10 229.33,327.10 229.50,327.10C229.67,327.10 229.83,327.10 230.00,327.10C230.17,327.10 230.33,327.10 230.50,327.10C230.67,327.10 230.83,327.10 231.00,327.10C231.17,327.10 231.33,327.10 231.50,327.10C231.67,327.10 231.83,327.10 232.00,327.10C232.17,327.10 232.33,327.10 232.50,327.10C232.67,327.10 232.83,327.10 233.00,327.10C233.17,327.10 233.33,327.10 233.50,327.10C233.67,327.10 233.83,327.10 234.00,327.10C234.17,327.10 234.33,327.10 234.50,327.10C234.67,327.10 234.83,327.10 235.00,327.10C235.17,327.10 235.33,327.10 235.50,327.10C235.67,327.10 235.83,327.10 236.00,327.10C236.17,327.10 236.33,327.10 236.50,327.10C236.67,327.10 236.83,327.10 237.00,327.10C237.17,327.10 237.33,327.10 237.50,327.10C237.67,327.10 237.83,327.10 238.00,327.10C238.17,327.10 238.33,327.10 238.50,327.10C238.67,327.10 238.83,327.10 239.00,327.10C239.17,327.10 239.33,327.10 239.50,327.10C239.67,327.10 239.83,327.10 240.00,327.10C240.17,327.10 240.33,327.10 240.50,327.10C240.67,327.10 240.83,327.10 241.00,327.10C241.17,327.10 241.33,327.10 241.50,327.10C241.67,327.10 241.83,327.10 242.00,327.10C242.17,327.10 242.33,327.10 242.50,327.10C242.67,327.10 242.83,327.10 243.00,327.10C243.17,327.10 243.33,327.10 243.50,327.10C243.67,327.10 243.83,327.10 244.00,327.10C244.17,327.10 244.33,327.10 244.50,327.10C244.67,327.10 244.83,327.10 245.00,327.10C245.17,327.10 245.33,327.10 245.50,327.10C245.67,327.10 245.83,327.10 246.00,327.10C246.17,327.10 246.33,327.10 246.50,327.10C246.67,327.10 246.83,327.10 247.00,327.10C247.17,327.10 247.33,327.10 247.50,327.10C247.67,327.10 247.83,327.10 248.00,327.10C248.17,327.10 248.33,327.10 248.50,327.10C248.67,327.10 248.83,327.10 249.00,327.10C249.17,327.10 249.33,327.10 249.50,327.10C249.67,327.10 249.83,327.10 250.00,327.10C250.17,327.10 250.33,327.10 250.50,327.10C250.67,327.10 250.83,327.10 251.00,327.10C251.17,327.10 251.33,327.10 251.50,327.10C251.67,327.10 251.83,327.10 252.00,327.10C252.17,327.10 252.33,327.10 252.50,327.10C252.67,327.10 252.83,327.10 253.00,327.10C253.17,327.10 253.33,327.10 253.50,327.10C253.67,327.10 253.83,327.10 254.00,327.10C254.17,327.10 254.33,327.09 254.50,327.09C254.67,327.09 254.83,327.08 255.00,327.08C255.17,327.07 255.33,327.06 255.50,327.04C255.67,327.03 255.83,327.00 256.00,326.97C256.17,326.94 256.33,326.88 256.50,326.81C256.67,326.75 256.83,326.64 257.00,326.51C257.17,326.38 257.33,326.18 257.50,325.94C257.67,325.70 257.83,325.35 258.00,324.93C258.17,324.51 258.33,323.93 258.50,323.25C258.67,322.57 258.83,321.66 259.00,320.61C259.17,319.57 259.33,318.23 259.50,316.72C259.67,315.21 259.83,313.36 260.00,311.33C260.17,309.30 260.33,306.89 260.50,304.34C260.67,301.80 260.83,298.88 261.00,295.91C261.17,292.95 261.33,289.68 261.50,286.51C261.67,283.35 261.83,279.98 262.00,276.94C262.17,273.90 262.33,270.76 262.50,268.23C262.67,265.70 262.83,263.12 263.00,261.48C263.17,259.85 263.33,257.87 263.50,257.65C263.67,257.43 263.83,257.29 264.00,257.29C264.17,257.29 264.33,259.06 264.50,260.46C264.67,261.86 264.83,264.30 265.00,266.69C265.17,269.07 265.33,272.12 265.50,275.09C265.67,278.06 265.83,281.42 266.00,284.58C266.17,287.75 266.33,291.07 266.50,294.09C266.67,297.11 266.83,300.12 267.00,302.76C267.17,305.40 267.33,307.92 267.50,310.06C267.67,312.19 267.83,314.16 268.00,315.77C268.17,317.38 268.33,318.81 268.50,319.94C268.67,321.08 268.83,322.06 269.00,322.81C269.17,323.56 269.33,324.19 269.50,324.66C269.67,325.12 269.83,325.51 270.00,325.78C270.17,326.05 270.33,326.27 270.50,326.42C270.67,326.57 270.83,326.69 271.00,326.77C271.17,326.85 271.33,326.91 271.50,326.95C271.67,326.99 271.83,327.01 272.00,327.03C272.17,327.05 272.33,327.06 272.50,327.07C272.67,327.08 272.83,327.09 273.00,327.09C273.17,327.09 273.33,327.09 273.50,327.10C273.67,327.10 273.83,327.10 274.00,327.10C274.17,327.10 274.33,327.10 274.50,327.10C274.67,327.10 274.83,327.10 275.00,327.10C275.17,327.10 275.33,327.10 275.50,327.10C275.67,327.10 275.83,327.10 276.00,327.10C276.17,327.10 276.33,327.10 276.50,327.10C276.67,327.10 276.83,327.10 277.00,327.10C277.17,327.10 277.33,327.10 277.50,327.10C277.67,327.10 277.83,327.10 278.00,327.10C278.17,327.10 278.33,327.10 278.50,327.10C278.67,327.10 278.83,327.10 279.00,327.10C279.17,327.10 279.33,327.10 279.50,327.10C279.67,327.10 279.83,327.10 280.00,327.10C280.17,327.10 280.33,327.10 280.50,327.10C280.67,327.10 280.83,327.10 281.00,327.10C281.17,327.10 281.33,327.10 281.50,327.10C281.67,327.10 281.83,327.10 282.00,327.10C282.17,327.10 282.33,327.10 282.50,327.10C282.67,327.10 282.83,327.10 283.00,327.10C283.17,327.10 283.33,327.10 283.50,327.10C283.67,327.10 283.83,327.10 284.00,327.10C284.17,327.10 284.33,327.10 284.50,327.10C284.67,327.10 284.83,327.10 285.00,327.10C285.17,327.10 285.33,327.10 285.50,327.10C285.67,327.10 285.83,327.10 286.00,327.10C286.17,327.10 286.33,327.10 286.50,327.10C286.67,327.10 286.83,327.10 287.00,327.10C287.17,327.10 287.33,327.10 287.50,327.10C287.67,327.10 287.83,327.10 288.00,327.10C288.17,327.10 288.33,327.10 288.50,327.10C288.67,327.10 288.83,327.10 289.00,327.10C289.17,327.10 289.33,327.10 289.50,327.10C289.67,327.10 289.83,327.10 290.00,327.10C290.17,327.10 290.33,327.10 290.50,327.10C290.67,327.10 290.83,327.10 291.00,327.10C291.17,327.10 291.33,327.10 291.50,327.10C291.67,327.10 291.83,327.10 292.00,327.10C292.17,327.10 292.33,327.10 292.50,327.10C292.67,327.10 292.83,327.10 293.00,327.10C293.17,327.10 293.33,327.10 293.50,327.10C293.67,327.10 293.83,327.10 294.00,327.10C294.17,327.10 294.33,327.10 294.50,327.10C294.67,327.10 294.83,327.10 295.00,327.10C295.17,327.10 295.33,327.10 295.50,327.10C295.67,327.10 295.83,327.10 296.00,327.10C296.17,327.10 296.33,327.10 296.50,327.10C296.67,327.10 296.83,327.10 297.00,327.10C297.17,327.10 297.33,327.10 297.50,327.10C297.67,327.10 297.83,327.10 298.00,327.10C298.17,327.10 298.33,327.10 298.50,327.10C298.67,327.10 298.83,327.10 299.00,327.10C299.17,327.10 299.33,327.10 299.50,327.10C299.67,327.10 299.83,327.10 300.00,327.10C300.17,327.10 300.33,327.10 300.50,327.10C300.67,327.10 300.83,327.10 301.00,327.10C301.17,327.10 301.33,327.10 301.50,327.10C301.67,327.10 301.83,327.10 302.00,327.10C302.17,327.10 302.33,327.10 302.50,327.10C302.67,327.10 302.83,327.10 303.00,327.10C303.17,327.10 303.33,327.10 303.50,327.10C303.67,327.10 303.83,327.10 304.00,327.10C304.17,327.10 304.33,327.10 304.50,327.10C304.67,327.10 304.83,327.10 305.00,327.10C305.17,327.10 305.33,327.10 305.50,327.10C305.67,327.10 305.83,327.10 306.00,327.10C306.17,327.10 306.33,327.10 306.50,327.10C306.67,327.10 306.83,327.10 307.00,327.10C307.17,327.10 307.33,327.10 307.50,327.10C307.67,327.10 307.83,327.10 308.00,327.10C308.17,327.10 308.33,327.10 308.50,327.10C308.67,327.10 308.83,327.10 309.00,327.10C309.17,327.10 309.33,327.10 309.50,327.10C309.67,327.10 309.83,327.10 310.00,327.10C310.17,327.10 310.33,327.10 310.50,327.10C310.67,327.10 310.83,327.10 311.00,327.10C311.17,327.10 311.33,327.10 311.50,327.10C311.67,327.10 311.83,327.10 312.00,327.10C312.17,327.10 312.33,327.10 312.50,327.10C312.67,327.10 312.83,327.10 313.00,327.10C313.17,327.10 313.33,327.10 313.50,327.10C313.67,327.10 313.83,327.10 314.00,327.10C314.17,327.10 314.33,327.10 314.50,327.10C314.67,327.10 314.83,327.10 315.00,327.10C315.17,327.10 315.33,327.10 315.50,327.10C315.67,327.10 315.83,327.10 316.00,327.10C316.17,327.10 316.33,327.10 316.50,327.10C316.67,327.10 316.83,327.10 317.00,327.10C317.17,327.10 317.33,327.10 317.50,327.10C317.67,327.10 317.83,327.10 318.00,327.10C318.17,327.10 318.33,327.10 318.50,327.10C318.67,327.10 318.83,327.10 319.00,327.10C319.17,327.10 319.33,327.10 319.50,327.10C319.67,327.10 319.83,327.10 320.00,327.10C320.17,327.10 320.33,327.10 320.50,327.10C320.67,327.10 320.83,327.10 321.00,327.10C321.17,327.10 321.33,327.10 321.50,327.10C321.67,327.10 321.83,327.10 322.00,327.10C322.17,327.10 322.33,327.10 322.50,327.10C322.67,327.10 322.83,327.10 323.00,327.10C323.17,327.10 323.33,327.10 323.50,327.10C323.67,327.10 323.83,327.10 324.00,327.10C324.17,327.10 324.33,327.10 324.50,327.10C324.67,327.10 324.83,327.10 325.00,327.10C325.17,327.10 325.33,327.10 325.50,327.10C325.67,327.10 325.83,327.10 326.00,327.10C326.17,327.10 326.33,327.10 326.50,327.10C326.67,327.10 326.83,327.10 327.00,327.10C327.17,327.10 327.33,327.10 327.50,327.10C327.67,327.10 327.83,327.10 328.00,327.10C328.17,327.10 328.33,327.10 328.50,327.10C328.67,327.10 328.83,327.10 329.00,327.10C329.17,327.10 329.33,327.10 329.50,327.10C329.67,327.10 329.83,327.10 330.00,327.10C330.17,327.10 330.33,327.10 330.50,327.10C330.67,327.10 330.83,327.10 331.00,327.10C331.17,327.10 331.33,327.10 331.50,327.10C331.67,327.10 331.83,327.10 332.00,327.10C332.17,327.10 332.33,327.10 332.50,327.10C332.67,327.10 332.83,327.10 333.00,327.10C333.17,327.10 333.33,327.10 333.50,327.10C333.67,327.10 333.83,327.10 334.00,327.10C334.17,327.10 334.33,327.10 334.50,327.10C334.67,327.10 334.83,327.10 335.00,327.10C335.17,327.10 335.33,327.10 335.50,327.10C335.67,327.10 335.83,327.10 336.00,327.10C336.17,327.10 336.33,327.10 336.50,327.10C336.67,327.10 336.83,327.10 337.00,327.10C337.17,327.10 337.33,327.10 337.50,327.10C337.67,327.10 337.83,327.10 338.00,327.10C338.17,327.10 338.33,327.10 338.50,327.10C338.67,327.10 338.83,327.10 339.00,327.10C339.17,327.10 339.33,327.10 339.50,327.10C339.67,327.10 339.83,327.10 340.00,327.10C340.17,327.10 340.33,327.10 340.50,327.10C340.67,327.10 340.83,327.10 341.00,327.10C341.17,327.10 341.33,327.10 341.50,327.10C341.67,327.10 341.83,327.10 342.00,327.10C342.17,327.10 342.33,327.10 342.50,327.10C342.67,327.10 342.83,327.10 343.00,327.10C343.17,327.10 343.33,327.10 343.50,327.10C343.67,327.10 343.83,327.10 344.00,327.10C344.17,327.10 344.33,327.10 344.50,327.10C344.67,327.10 344.83,327.10 345.00,327.10C345.17,327.10 345.33,327.10 345.50,327.10C345.67,327.10 345.83,327.10 346.00,327.10C346.17,327.10 346.33,327.10 346.50,327.10C346.67,327.10 346.83,327.10 347.00,327.10C347.17,327.10 347.33,327.10 347.50,327.10C347.67,327.10 347.83,327.10 348.00,327.10C348.17,327.10 348.33,327.10 348.50,327.10C348.67,327.10 348.83,327.10 349.00,327.10C349.17,327.10 349.33,327.10 349.50,327.10C349.67,327.10 349.83,327.10 350.00,327.10C350.17,327.10 350.33,327.10 350.50,327.10C350.67,327.10 350.83,327.10 351.00,327.10C351.17,327.10 351.33,327.10 351.50,327.10C351.67,327.10 351.83,327.10 352.00,327.10C352.17,327.10 352.33,327.10 352.50,327.10C352.67,327.10 352.83,327.10 353.00,327.10C353.17,327.10 353.33,327.10 353.50,327.10C353.67,327.10 353.83,327.10 354.00,327.10C354.17,327.10 354.33,327.10 354.50,327.10C354.67,327.10 354.83,327.10 355.00,327.10C355.17,327.10 355.33,327.10 355.50,327.10C355.67,327.10 355.83,327.10 356.00,327.10C356.17,327.10 356.33,327.10 356.50,327.10C356.67,327.10 356.83,327.10 357.00,327.10C357.17,327.10 357.33,327.10 357.50,327.10C357.67,327.10 357.83,327.10 358.00,327.10C358.17,327.10 358.33,327.10 358.50,327.10C358.67,327.10 358.83,327.10 359.00,327.10C359.17,327.10 359.33,327.10 359.50,327.10C359.67,327.10 359.83,327.10 360.00,327.10C360.17,327.10 360.33,327.10 360.50,327.10C360.67,327.10 360.83,327.10 361.00,327.10C361.17,327.10 361.33,327.10 361.50,327.10C361.67,327.10 361.83,327.10 362.00,327.10C362.17,327.10 362.33,327.10 362.50,327.10C362.67,327.10 362.83,327.10 363.00,327.10C363.17,327.10 363.33,327.10 363.50,327.10C363.67,327.10 363.83,327.10 364.00,327.10C364.17,327.10 364.33,327.10 364.50,327.10C364.67,327.10 364.83,327.10 365.00,327.10C365.17,327.10 365.33,327.10 365.50,327.10C365.67,327.10 365.83,327.10 366.00,327.10C366.17,327.10 366.33,327.10 366.50,327.10C366.67,327.10 366.83,327.10 367.00,327.10C367.17,327.10 367.33,327.10 367.50,327.10C367.67,327.10 367.83,327.10 368.00,327.10C368.17,327.10 368.33,327.10 368.50,327.10C368.67,327.10 368.83,327.10 369.00,327.10C369.17,327.10 369.33,327.10 369.50,327.10C369.67,327.10 369.83,327.10 370.00,327.10C370.17,327.10 370.33,327.10 370.50,327.10C370.67,327.10 370.83,327.10 371.00,327.10C371.17,327.10 371.33,327.10 371.50,327.10C371.67,327.10 371.83,327.10 372.00,327.10C372.17,327.10 372.33,327.10 372.50,327.10C372.67,327.10 372.83,327.10 373.00,327.10C373.17,327.10 373.33,327.10 373.50,327.10C373.67,327.10 373.83,327.10 374.00,327.10" fill="none" stroke="#48a0c0" stroke-width="1.35" stroke-linejoin="round"/>
<path d="M66.50,326.99C66.67,326.99 66.83,326.99 67.00,326.99C67.17,326.98 67.33,326.97 67.50,326.97C67.67,326.96 67.83,326.94 68.00,326.92C68.17,326.90 68.33,326.88 68.50,326.84C68.67,326.80 68.83,326.75 69.00,326.68C69.17,326.61 69.33,326.52 69.50,326.40C69.67,326.28 69.83,326.12 70.00,325.92C70.17,325.73 70.33,325.47 70.50,325.17C70.67,324.86 70.83,324.48 71.00,324.04C71.17,323.60 71.33,323.05 71.50,322.45C71.67,321.85 71.83,321.13 72.00,320.37C72.17,319.60 72.33,318.72 72.50,317.81C72.67,316.91 72.83,315.90 73.00,314.92C73.17,313.94 73.33,312.88 73.50,311.92C73.67,310.95 73.83,309.95 74.00,309.11C74.17,308.28 74.33,307.43 74.50,306.86C74.67,306.28 74.83,305.64 75.00,305.46C75.17,305.28 75.33,305.12 75.50,305.12C75.67,305.12 75.83,305.54 76.00,305.90C76.17,306.26 76.33,306.98 76.50,307.67C76.67,308.37 76.83,309.29 77.00,310.19C77.17,311.09 77.33,312.13 77.50,313.11C77.67,314.10 77.83,315.15 78.00,316.11C78.17,317.07 78.33,318.03 78.50,318.88C78.67,319.74 78.83,320.56 79.00,321.26C79.17,321.96 79.33,322.61 79.50,323.14C79.67,323.68 79.83,324.16 80.00,324.54C80.17,324.92 80.33,325.25 80.50,325.51C80.67,325.76 80.83,325.98 81.00,326.14C81.17,326.30 81.33,326.44 81.50,326.53C81.67,326.63 81.83,326.70 82.00,326.76C82.17,326.81 82.33,326.85 82.50,326.88C82.67,326.91 82.83,326.93 83.00,326.94C83.17,326.96 83.33,326.97 83.50,326.98C83.67,326.98 83.83,326.98 84.00,326.99L84.00,327.2L66.50,327.2Z" fill="#1515f0" stroke="none"/>
<path d="M135.50,326.99C135.67,326.98 135.83,326.98 136.00,326.97C136.17,326.97 136.33,326.95 136.50,326.94C136.67,326.92 136.83,326.90 137.00,326.87C137.17,326.84 137.33,326.79 137.50,326.73C137.67,326.66 137.83,326.57 138.00,326.46C138.17,326.35 138.33,326.19 138.50,325.99C138.67,325.80 138.83,325.53 139.00,325.22C139.17,324.90 139.33,324.48 139.50,323.99C139.67,323.51 139.83,322.89 140.00,322.19C140.17,321.49 140.33,320.63 140.50,319.69C140.67,318.75 140.83,317.63 141.00,316.45C141.17,315.27 141.33,313.91 141.50,312.54C141.67,311.17 141.83,309.65 142.00,308.18C142.17,306.72 142.33,305.15 142.50,303.74C142.67,302.34 142.83,300.88 143.00,299.71C143.17,298.53 143.33,297.34 143.50,296.58C143.67,295.82 143.83,294.90 144.00,294.80C144.17,294.70 144.33,294.63 144.50,294.63C144.67,294.63 144.83,295.45 145.00,296.10C145.17,296.75 145.33,297.89 145.50,298.99C145.67,300.10 145.83,301.51 146.00,302.89C146.17,304.27 146.33,305.82 146.50,307.29C146.67,308.76 146.83,310.29 147.00,311.70C147.17,313.10 147.33,314.49 147.50,315.72C147.67,316.94 147.83,318.11 148.00,319.10C148.17,320.09 148.33,321.00 148.50,321.75C148.67,322.49 148.83,323.16 149.00,323.68C149.17,324.21 149.33,324.66 149.50,325.01C149.67,325.36 149.83,325.65 150.00,325.87C150.17,326.08 150.33,326.26 150.50,326.39C150.67,326.51 150.83,326.62 151.00,326.69C151.17,326.76 151.33,326.81 151.50,326.85C151.67,326.88 151.83,326.91 152.00,326.93C152.17,326.95 152.33,326.96 152.50,326.97C152.67,326.98 152.83,326.98 153.00,326.99L153.00,327.2L135.50,327.2Z" fill="#1515f0" stroke="none"/>
<path d="M166.50,326.96C166.67,326.94 166.83,326.93 167.00,326.90C167.17,326.88 167.33,326.84 167.50,326.80C167.67,326.75 167.83,326.68 168.00,326.59C168.17,326.50 168.33,326.37 168.50,326.21C168.67,326.05 168.83,325.82 169.00,325.55C169.17,325.27 169.33,324.90 169.50,324.45C169.67,324.01 169.83,323.42 170.00,322.74C170.17,322.05 170.33,321.18 170.50,320.20C170.67,319.21 170.83,317.99 171.00,316.64C171.17,315.29 171.33,313.68 171.50,311.95C171.67,310.22 171.83,308.22 172.00,306.14C172.17,304.07 172.33,301.75 172.50,299.44C172.67,297.12 172.83,294.62 173.00,292.25C173.17,289.89 173.33,287.41 173.50,285.22C173.67,283.04 173.83,280.82 174.00,279.09C174.17,277.35 174.33,275.59 174.50,274.58C174.67,273.58 174.83,272.31 175.00,272.31C175.17,272.31 175.33,272.41 175.50,272.57C175.67,272.72 175.83,274.15 176.00,275.32C176.17,276.50 176.33,278.36 176.50,280.20C176.67,282.05 176.83,284.34 177.00,286.58C177.17,288.82 177.33,291.33 177.50,293.70C177.67,296.08 177.83,298.56 178.00,300.83C178.17,303.11 178.33,305.38 178.50,307.39C178.67,309.40 178.83,311.32 179.00,312.98C179.17,314.63 179.33,316.16 179.50,317.44C179.67,318.71 179.83,319.86 180.00,320.78C180.17,321.70 180.33,322.51 180.50,323.14C180.67,323.77 180.83,324.31 181.00,324.72C181.17,325.12 181.33,325.46 181.50,325.71C181.67,325.96 181.83,326.16 182.00,326.31C182.17,326.45 182.33,326.56 182.50,326.64C182.67,326.72 182.83,326.78 183.00,326.83C183.17,326.87 183.33,326.90 183.50,326.92C183.67,326.94 183.83,326.95 184.00,326.96L184.00,327.2L166.50,327.2Z" fill="#1515f0" stroke="none"/>
<path d="M255.00,326.99C255.17,326.98 255.33,326.97 255.50,326.97C255.67,326.96 255.83,326.94 256.00,326.92C256.17,326.90 256.33,326.87 256.50,326.83C256.67,326.79 256.83,326.72 257.00,326.64C257.17,326.56 257.33,326.44 257.50,326.30C257.67,326.15 257.83,325.94 258.00,325.69C258.17,325.43 258.33,325.09 258.50,324.67C258.67,324.26 258.83,323.71 259.00,323.08C259.17,322.44 259.33,321.63 259.50,320.72C259.67,319.81 259.83,318.69 260.00,317.46C260.17,316.23 260.33,314.78 260.50,313.23C260.67,311.69 260.83,309.93 261.00,308.14C261.17,306.34 261.33,304.36 261.50,302.45C261.67,300.54 261.83,298.50 262.00,296.66C262.17,294.82 262.33,292.93 262.50,291.39C262.67,289.86 262.83,288.30 263.00,287.31C263.17,286.33 263.33,285.12 263.50,284.99C263.67,284.86 263.83,284.77 264.00,284.77C264.17,284.77 264.33,285.85 264.50,286.69C264.67,287.54 264.83,289.02 265.00,290.46C265.17,291.90 265.33,293.75 265.50,295.54C265.67,297.34 265.83,299.37 266.00,301.28C266.17,303.20 266.33,305.20 266.50,307.03C266.67,308.86 266.83,310.68 267.00,312.28C267.17,313.88 267.33,315.40 267.50,316.69C267.67,317.98 267.83,319.17 268.00,320.15C268.17,321.12 268.33,321.99 268.50,322.67C268.67,323.36 268.83,323.95 269.00,324.40C269.17,324.86 269.33,325.24 269.50,325.52C269.67,325.80 269.83,326.04 270.00,326.20C270.17,326.37 270.33,326.50 270.50,326.59C270.67,326.68 270.83,326.75 271.00,326.80C271.17,326.85 271.33,326.88 271.50,326.91C271.67,326.93 271.83,326.95 272.00,326.96C272.17,326.97 272.33,326.98 272.50,326.98L272.50,327.2L255.00,327.2Z" fill="#1515f0" stroke="none"/>
</g>
<g clip-path="url(#clipc)">
<path d="M36.00,474.00C36.33,473.97 36.67,473.95 37.00,473.90C37.67,473.81 38.33,473.30 39.00,473.30C40.00,473.30 41.00,474.53 42.00,475.00C43.47,475.68 44.93,476.70 46.40,476.70C49.50,476.70 52.60,476.32 55.70,475.80C58.20,475.38 60.70,473.36 63.20,472.00C64.63,471.22 66.07,470.39 67.50,469.50C68.77,468.72 70.03,467.00 71.30,467.00C72.03,467.00 72.77,468.99 73.50,470.00C74.43,471.29 75.37,473.58 76.30,473.90C78.17,474.55 80.03,474.90 81.90,474.90C84.40,474.90 86.90,474.46 89.40,473.90C90.93,473.56 92.47,472.18 94.00,471.50C95.10,471.01 96.20,470.20 97.30,470.20C98.03,470.20 98.77,471.24 99.50,472.00C100.20,472.72 100.90,474.66 101.60,474.90C103.40,475.51 105.20,475.80 107.00,475.80C110.90,475.80 114.80,475.34 118.70,474.90C120.57,474.69 122.43,474.43 124.30,473.90C125.67,473.52 127.03,471.50 128.40,471.50C129.87,471.50 131.33,475.20 132.80,475.20C134.33,475.20 135.87,475.00 137.40,475.00C139.27,475.00 141.13,476.31 143.00,476.40C147.37,476.61 151.73,476.70 156.10,476.70C158.93,476.70 161.77,476.03 164.60,474.90C165.27,474.63 165.93,474.14 166.60,473.00C167.13,472.08 167.67,466.51 168.20,462.00C168.60,458.62 169.00,452.96 169.40,449.20C170.27,441.06 171.13,432.05 172.00,428.00C173.00,423.32 174.00,418.30 175.00,418.30C176.23,418.30 177.47,422.94 178.70,426.80C179.97,430.76 181.23,439.84 182.50,445.50C184.03,452.35 185.57,462.17 187.10,464.20C188.67,466.27 190.23,467.06 191.80,467.90C193.37,468.74 194.93,468.96 196.50,469.80C198.07,470.64 199.63,473.25 201.20,473.60C203.70,474.15 206.20,474.50 208.70,474.50C210.87,474.50 213.03,474.35 215.20,473.60C215.63,473.45 216.07,469.05 216.50,465.00C216.83,461.89 217.17,456.63 217.50,450.00C218.00,440.05 218.50,418.10 219.00,402.40C219.43,388.80 219.87,374.43 220.30,362.00C220.70,350.53 221.10,332.63 221.50,330.00C225.00,307.03 228.50,300.00 232.00,300.00C235.83,300.00 239.67,307.83 243.50,330.00C244.00,332.89 244.50,357.12 245.00,361.00C245.60,365.66 246.20,366.07 246.80,369.40C247.43,372.92 248.07,382.09 248.70,382.50C249.63,383.11 250.57,383.02 251.50,383.40C252.17,383.67 252.83,383.98 253.50,384.50C253.97,384.86 254.43,385.31 254.90,386.20C255.60,387.54 256.30,393.87 257.00,398.00C257.97,403.70 258.93,408.91 259.90,416.10C260.60,421.31 261.30,429.40 262.00,435.00C262.87,441.94 263.73,449.43 264.60,453.60C265.57,458.25 266.53,461.90 267.50,464.00C268.70,466.61 269.90,468.57 271.10,469.50C273.00,470.97 274.90,471.78 276.80,472.30C279.53,473.05 282.27,473.80 285.00,473.80C290.00,473.80 295.00,473.63 300.00,473.50C305.90,473.34 311.80,472.80 317.70,472.80C321.80,472.80 325.90,474.80 330.00,474.80C335.00,474.80 340.00,474.59 345.00,474.50C354.67,474.32 364.33,474.17 374.00,474.00" fill="none" stroke="#dc1a52" stroke-width="1.2" stroke-linejoin="round"/>
<path d="M36.00,474.00C36.33,473.97 36.67,473.93 37.00,473.90C40.73,473.56 44.47,473.49 48.20,473.00C50.70,472.67 53.20,471.68 55.70,470.70C57.57,469.97 59.43,468.56 61.30,467.80C63.20,467.03 65.10,466.67 67.00,465.90C68.53,465.28 70.07,463.60 71.60,463.60C73.17,463.60 74.73,466.40 76.30,466.40C78.80,466.40 81.30,465.80 83.80,465.50C86.30,465.20 88.80,464.60 91.30,464.60C93.80,464.60 96.30,465.50 98.80,465.50C101.70,465.50 104.60,464.00 107.50,464.00C110.60,464.00 113.70,465.08 116.80,465.50C119.30,465.84 121.80,465.96 124.30,466.40C127.13,466.89 129.97,469.20 132.80,469.20C134.23,469.20 135.67,467.40 137.10,467.40C139.07,467.40 141.03,469.87 143.00,470.20C146.13,470.73 149.27,470.81 152.40,471.10C156.13,471.45 159.87,472.10 163.60,472.10C164.90,472.10 166.20,471.44 167.50,470.70C168.83,469.94 170.17,466.59 171.50,465.00C172.67,463.61 173.83,461.40 175.00,461.40C176.87,461.40 178.73,464.93 180.60,466.10C183.10,467.67 185.60,469.07 188.10,469.80C191.20,470.71 194.30,471.30 197.40,471.70C203.03,472.42 208.67,473.20 214.30,473.20C215.13,473.20 215.97,472.36 216.80,471.00C217.37,470.08 217.93,465.38 218.50,460.00C219.27,452.73 220.03,433.08 220.80,415.00C221.27,403.99 221.73,387.37 222.20,375.00C222.47,367.93 222.73,358.00 223.00,355.00C225.00,332.52 227.00,320.00 229.00,320.00C231.20,320.00 233.40,345.36 235.60,361.00C236.23,365.50 236.87,371.40 237.50,376.00C238.10,380.35 238.70,384.16 239.30,388.10C240.57,396.43 241.83,406.06 243.10,412.40C244.97,421.75 246.83,429.09 248.70,434.90C251.20,442.68 253.70,448.93 256.20,453.60C258.70,458.27 261.20,462.29 263.70,464.80C266.17,467.28 268.63,469.79 271.10,470.40C275.73,471.55 280.37,472.19 285.00,472.30C290.00,472.42 295.00,472.50 300.00,472.50C305.90,472.50 311.80,471.00 317.70,471.00C321.80,471.00 325.90,473.50 330.00,473.50C335.00,473.50 340.00,472.50 345.00,472.50C354.67,472.50 364.33,472.70 374.00,472.80" fill="none" stroke="#6655c2" stroke-width="1.2" stroke-linejoin="round"/>
<path d="M36.00,476.00C36.33,475.93 36.67,475.90 37.00,475.80C37.67,475.61 38.33,474.50 39.00,474.50C40.83,474.50 42.67,479.50 44.50,479.50C49.67,479.50 54.83,478.95 60.00,478.60C63.87,478.34 67.73,477.70 71.60,477.70C74.40,477.70 77.20,479.20 80.00,479.20C84.37,479.20 88.73,478.74 93.10,477.70C94.40,477.39 95.70,475.07 97.00,474.00C97.90,473.26 98.80,472.00 99.70,472.00C100.47,472.00 101.23,474.43 102.00,475.50C102.80,476.62 103.60,478.60 104.40,478.60C106.27,478.60 108.13,478.60 110.00,478.60C116.03,478.60 122.07,478.60 128.10,478.60C132.07,478.60 136.03,479.50 140.00,479.50C146.67,479.50 153.33,479.46 160.00,479.40C163.33,479.37 166.67,479.34 170.00,479.20C171.97,479.12 173.93,477.30 175.90,477.30C177.60,477.30 179.30,478.80 181.00,478.80C192.10,478.80 203.20,478.80 214.30,478.80C214.97,478.80 215.63,477.63 216.30,475.00C216.57,473.95 216.83,464.33 217.10,458.60C217.73,444.99 218.37,433.50 219.00,415.00C219.43,402.34 219.87,380.99 220.30,365.00C220.53,356.39 220.77,342.02 221.00,340.00C224.67,308.19 228.33,300.00 232.00,300.00C235.50,300.00 239.00,308.40 242.50,340.00C242.70,341.81 242.90,357.61 243.10,361.00C243.70,371.16 244.30,372.80 244.90,378.70C245.53,384.93 246.17,394.54 246.80,397.40C247.57,400.87 248.33,404.00 249.10,404.00C250.20,404.00 251.30,395.77 252.40,392.80C253.23,390.55 254.07,387.10 254.90,387.10C255.93,387.10 256.97,399.32 258.00,406.80C258.97,413.80 259.93,424.24 260.90,431.10C262.13,439.85 263.37,448.37 264.60,453.60C266.17,460.24 267.73,465.90 269.30,468.60C271.17,471.82 273.03,474.12 274.90,475.10C276.77,476.08 278.63,476.89 280.50,477.00C287.00,477.37 293.50,477.31 300.00,477.50C310.00,477.79 320.00,478.50 330.00,478.50C344.67,478.50 359.33,478.30 374.00,478.20" fill="none" stroke="#111111" stroke-width="1.4" stroke-linejoin="round"/>
<path d="M36.00,479.50C80.67,479.53 125.33,479.60 170.00,479.60C171.00,479.60 172.00,478.04 173.00,477.00C173.97,475.99 174.93,473.20 175.90,473.20C176.77,473.20 177.63,475.59 178.50,476.50C179.67,477.73 180.83,479.60 182.00,479.60C197.33,479.60 212.67,479.59 228.00,479.50C229.27,479.49 230.53,478.20 231.80,478.20C232.87,478.20 233.93,479.49 235.00,479.50C274.67,479.69 314.33,479.70 354.00,479.70C354.87,479.70 355.73,478.93 356.60,478.00C357.73,476.79 358.87,469.58 360.00,466.00C361.17,462.31 362.33,457.54 363.50,456.00C364.80,454.29 366.10,452.70 367.40,452.70C368.43,452.70 369.47,454.26 370.50,456.00C371.33,457.40 372.17,462.26 373.00,465.20C373.67,467.55 374.33,469.73 375.00,472.00" fill="none" stroke="#48a0c0" stroke-width="1.2" stroke-linejoin="round"/>
<line x1="36" y1="481.1" x2="374" y2="481.1" stroke="#1515f0" stroke-width="1.6"/>
</g>
<rect x="37.2" y="7.6" width="336.2" height="163.70000000000002" fill="none" stroke="#8a8a8a" stroke-width="1.15"/>
<line x1="32" y1="171.30" x2="37.2" y2="171.30" stroke="#8a8a8a" stroke-width="0.9"/>
<text x="25.2" y="174.00" font-size="8.6" text-anchor="middle" fill="#222">0</text>
<line x1="32" y1="134.92" x2="37.2" y2="134.92" stroke="#8a8a8a" stroke-width="0.9"/>
<text x="25.2" y="137.62" font-size="8.6" text-anchor="middle" fill="#222">2</text>
<line x1="32" y1="98.54" x2="37.2" y2="98.54" stroke="#8a8a8a" stroke-width="0.9"/>
<text x="25.2" y="101.24" font-size="8.6" text-anchor="middle" fill="#222">4</text>
<line x1="32" y1="62.17" x2="37.2" y2="62.17" stroke="#8a8a8a" stroke-width="0.9"/>
<text x="25.2" y="64.87" font-size="8.6" text-anchor="middle" fill="#222">6</text>
<line x1="32" y1="25.79" x2="37.2" y2="25.79" stroke="#8a8a8a" stroke-width="0.9"/>
<text x="25.2" y="28.49" font-size="8.6" text-anchor="middle" fill="#222">8</text>
<line x1="70.40" y1="171.3" x2="70.40" y2="176.10" stroke="#8a8a8a" stroke-width="0.9"/>
<text x="70.40" y="186.60" font-size="8.6" text-anchor="middle" fill="#222">38</text>
<line x1="137.65" y1="171.3" x2="137.65" y2="176.10" stroke="#8a8a8a" stroke-width="0.9"/>
<text x="137.65" y="186.60" font-size="8.6" text-anchor="middle" fill="#222">39</text>
<line x1="204.90" y1="171.3" x2="204.90" y2="176.10" stroke="#8a8a8a" stroke-width="0.9"/>
<text x="204.90" y="186.60" font-size="8.6" text-anchor="middle" fill="#222">40</text>
<line x1="272.15" y1="171.3" x2="272.15" y2="176.10" stroke="#8a8a8a" stroke-width="0.9"/>
<text x="272.15" y="186.60" font-size="8.6" text-anchor="middle" fill="#222">41</text>
<line x1="339.40" y1="171.3" x2="339.40" y2="176.10" stroke="#8a8a8a" stroke-width="0.9"/>
<text x="339.40" y="186.60" font-size="8.6" text-anchor="middle" fill="#222">42</text>
<text transform="translate(12.7,89.5) rotate(-90)" font-size="9.6" text-anchor="middle" fill="#222" textLength="74.5" lengthAdjust="spacingAndGlyphs">Signal int. (×10<tspan font-size="6.5" dy="-3.6">4</tspan><tspan dy="3.6">)</tspan></text>
<rect x="37.2" y="206.2" width="336.2" height="121.40000000000003" fill="none" stroke="#8a8a8a" stroke-width="1.15"/>
<line x1="32" y1="327.60" x2="37.2" y2="327.60" stroke="#8a8a8a" stroke-width="0.9"/>
<text x="25.2" y="330.30" font-size="8.6" text-anchor="middle" fill="#222">0</text>
<line x1="32" y1="300.62" x2="37.2" y2="300.62" stroke="#8a8a8a" stroke-width="0.9"/>
<text x="25.2" y="303.32" font-size="8.6" text-anchor="middle" fill="#222">2</text>
<line x1="32" y1="273.64" x2="37.2" y2="273.64" stroke="#8a8a8a" stroke-width="0.9"/>
<text x="25.2" y="276.34" font-size="8.6" text-anchor="middle" fill="#222">4</text>
<line x1="32" y1="246.67" x2="37.2" y2="246.67" stroke="#8a8a8a" stroke-width="0.9"/>
<text x="25.2" y="249.37" font-size="8.6" text-anchor="middle" fill="#222">6</text>
<line x1="32" y1="219.69" x2="37.2" y2="219.69" stroke="#8a8a8a" stroke-width="0.9"/>
<text x="25.2" y="222.39" font-size="8.6" text-anchor="middle" fill="#222">8</text>
<line x1="70.40" y1="327.6" x2="70.40" y2="332.40" stroke="#8a8a8a" stroke-width="0.9"/>
<text x="70.40" y="342.90" font-size="8.6" text-anchor="middle" fill="#222">38</text>
<line x1="137.65" y1="327.6" x2="137.65" y2="332.40" stroke="#8a8a8a" stroke-width="0.9"/>
<text x="137.65" y="342.90" font-size="8.6" text-anchor="middle" fill="#222">39</text>
<line x1="204.90" y1="327.6" x2="204.90" y2="332.40" stroke="#8a8a8a" stroke-width="0.9"/>
<text x="204.90" y="342.90" font-size="8.6" text-anchor="middle" fill="#222">40</text>
<line x1="272.15" y1="327.6" x2="272.15" y2="332.40" stroke="#8a8a8a" stroke-width="0.9"/>
<text x="272.15" y="342.90" font-size="8.6" text-anchor="middle" fill="#222">41</text>
<line x1="339.40" y1="327.6" x2="339.40" y2="332.40" stroke="#8a8a8a" stroke-width="0.9"/>
<text x="339.40" y="342.90" font-size="8.6" text-anchor="middle" fill="#222">42</text>
<text transform="translate(12.7,266.9) rotate(-90)" font-size="9.6" text-anchor="middle" fill="#222" textLength="74.5" lengthAdjust="spacingAndGlyphs">Signal int. (×10<tspan font-size="6.5" dy="-3.6">4</tspan><tspan dy="3.6">)</tspan></text>
<rect x="37.2" y="361.4" width="336.2" height="119.80000000000001" fill="none" stroke="#8a8a8a" stroke-width="1.15"/>
<line x1="32" y1="481.20" x2="37.2" y2="481.20" stroke="#8a8a8a" stroke-width="0.9"/>
<text x="25.2" y="483.90" font-size="8.6" text-anchor="middle" fill="#222">0</text>
<line x1="32" y1="454.58" x2="37.2" y2="454.58" stroke="#8a8a8a" stroke-width="0.9"/>
<text x="25.2" y="457.28" font-size="8.6" text-anchor="middle" fill="#222">2</text>
<line x1="32" y1="427.96" x2="37.2" y2="427.96" stroke="#8a8a8a" stroke-width="0.9"/>
<text x="25.2" y="430.66" font-size="8.6" text-anchor="middle" fill="#222">4</text>
<line x1="32" y1="401.33" x2="37.2" y2="401.33" stroke="#8a8a8a" stroke-width="0.9"/>
<text x="25.2" y="404.03" font-size="8.6" text-anchor="middle" fill="#222">6</text>
<line x1="32" y1="374.71" x2="37.2" y2="374.71" stroke="#8a8a8a" stroke-width="0.9"/>
<text x="25.2" y="377.41" font-size="8.6" text-anchor="middle" fill="#222">8</text>
<line x1="70.40" y1="481.2" x2="70.40" y2="486.00" stroke="#8a8a8a" stroke-width="0.9"/>
<text x="70.40" y="496.50" font-size="8.6" text-anchor="middle" fill="#222">38</text>
<line x1="137.65" y1="481.2" x2="137.65" y2="486.00" stroke="#8a8a8a" stroke-width="0.9"/>
<text x="137.65" y="496.50" font-size="8.6" text-anchor="middle" fill="#222">39</text>
<line x1="204.90" y1="481.2" x2="204.90" y2="486.00" stroke="#8a8a8a" stroke-width="0.9"/>
<text x="204.90" y="496.50" font-size="8.6" text-anchor="middle" fill="#222">40</text>
<line x1="272.15" y1="481.2" x2="272.15" y2="486.00" stroke="#8a8a8a" stroke-width="0.9"/>
<text x="272.15" y="496.50" font-size="8.6" text-anchor="middle" fill="#222">41</text>
<line x1="339.40" y1="481.2" x2="339.40" y2="486.00" stroke="#8a8a8a" stroke-width="0.9"/>
<text x="339.40" y="496.50" font-size="8.6" text-anchor="middle" fill="#222">42</text>
<text transform="translate(12.7,421.3) rotate(-90)" font-size="9.6" text-anchor="middle" fill="#222" textLength="74.5" lengthAdjust="spacingAndGlyphs">Signal int. (×10<tspan font-size="6.5" dy="-3.6">4</tspan><tspan dy="3.6">)</tspan></text>
<text x="46" y="23.5" font-size="10.4" fill="#222" textLength="28.6" lengthAdjust="spacingAndGlyphs">Bennu</text>
<text transform="translate(83.1,93.9) rotate(-90)" font-size="9.7" fill="#222">Ribose</text>
<text transform="translate(152.7,136.9) rotate(-90)" font-size="9.7" fill="#222">Lyxose</text>
<text transform="translate(184.2,86.3) rotate(-90)" font-size="9.7" fill="#222" textLength="44.5" lengthAdjust="spacingAndGlyphs">Arabinose</text>
<text transform="translate(227.6,131.4) rotate(-90)" font-size="9.9" fill="#222" textLength="56.2" lengthAdjust="spacingAndGlyphs">Internal STD</text>
<text transform="translate(277.6,57.2) rotate(-90)" font-size="10.2" fill="#222">Xylose</text>
<line x1="273.7" y1="59.3" x2="270.0" y2="74.3" stroke="#3b4b68" stroke-width="0.8"/>
<polygon points="269.2,77.8 268.1,73.3 271.8,74.2" fill="#3b4b68"/>
<text x="45.8" y="220.4" font-size="9.8" fill="#222" textLength="17.6" lengthAdjust="spacingAndGlyphs">STD</text>
<text transform="translate(88.3,241.9) rotate(-90)" font-size="9.7" fill="#222">Ribose</text>
<text transform="translate(156.8,242.3) rotate(-90)" font-size="9.7" fill="#222">Lyxose</text>
<text transform="translate(190.1,255.8) rotate(-90)" font-size="9.7" fill="#222" textLength="45.5" lengthAdjust="spacingAndGlyphs">Arabinose</text>
<text transform="translate(230.8,267.3) rotate(-90)" font-size="9.9" fill="#222" textLength="55.8" lengthAdjust="spacingAndGlyphs">Internal STD</text>
<text transform="translate(278.1,241.3) rotate(-90)" font-size="9.7" fill="#222">Xylose</text>
<text x="299" y="241.80" font-size="9.5" fill="#222"><tspan font-style="italic" font-size="10.2" dy="-0.3">m/z</tspan></text>
<text x="299" y="254.25" font-size="9.5" fill="#d81b55">103 &gt; 43</text>
<text x="299" y="266.70" font-size="9.5" fill="#7b68b8">115 &gt; 43</text>
<text x="299" y="279.15" font-size="9.5" fill="#222">145 &gt; 43</text>
<text x="299" y="291.60" font-size="9.5" fill="#4aa3c3">242 &gt; 200 (×5)</text>
<text x="299" y="304.05" font-size="9.5" fill="#1414ee">242 &gt; 140 (×5)</text>
<path d="M57.0,590.4 L68.5,596.8 L85.4,587.3 L102.0,596.8 L119.0,587.4 L147.0,603.2" fill="none" stroke="#111" stroke-width="1.15" stroke-linejoin="round"/>
<line x1="137.2" y1="594.4" x2="147.9" y2="600.4" stroke="#111" stroke-width="1.0"/>
<line x1="133.9" y1="599.5" x2="145.1" y2="605.6" stroke="#111" stroke-width="1.0"/>
<line x1="39.0" y1="594.5" x2="46.2" y2="590.4" stroke="#111" stroke-width="1.15"/>
<line x1="74.0" y1="560.7" x2="80.5" y2="564.4" stroke="#111" stroke-width="1.15"/>
<line x1="123.9" y1="564.4" x2="129.3" y2="561.6" stroke="#111" stroke-width="1.15"/>
<line x1="108.0" y1="619.6" x2="114.7" y2="623.7" stroke="#111" stroke-width="1.15"/>
<polygon points="85.4,587.6 82.0,574.2 88.8,574.2" fill="#111"/>
<polygon points="119.0,587.7 115.8,574.4 122.3,574.4" fill="#111"/>
<line x1="101.30" y1="599.80" x2="102.90" y2="599.80" stroke="#111" stroke-width="1.0"/>
<line x1="100.60" y1="602.90" x2="103.60" y2="602.90" stroke="#111" stroke-width="1.0"/>
<line x1="99.90" y1="605.60" x2="104.30" y2="605.60" stroke="#111" stroke-width="1.0"/>
<line x1="99.40" y1="607.90" x2="104.80" y2="607.90" stroke="#111" stroke-width="1.0"/>
<line x1="99.00" y1="610.10" x2="105.20" y2="610.10" stroke="#111" stroke-width="1.0"/>
<text x="25.0" y="600.9" font-size="11.0" fill="#111" text-anchor="start" textLength="13.6" lengthAdjust="spacingAndGlyphs">Ac</text>
<text x="51.9" y="591.3" font-size="11.2" fill="#111" text-anchor="middle">O</text>
<text x="58.2" y="561.8" font-size="11.0" fill="#111" text-anchor="start" textLength="13.6" lengthAdjust="spacingAndGlyphs">Ac</text>
<text x="85.5" y="573.0" font-size="11.2" fill="#111" text-anchor="middle">O</text>
<text x="119.1" y="572.5" font-size="11.2" fill="#111" text-anchor="middle">O</text>
<text x="131.4" y="561.8" font-size="11.0" fill="#111" text-anchor="start" textLength="13.6" lengthAdjust="spacingAndGlyphs">Ac</text>
<text x="101.9" y="621.2" font-size="11.2" fill="#111" text-anchor="middle">O</text>
<text x="115.0" y="630.5" font-size="11.0" fill="#111" text-anchor="start" textLength="13.6" lengthAdjust="spacingAndGlyphs">Ac</text>
<text x="152.4" y="610.7" font-size="11.0" fill="#111" text-anchor="middle">N</text>
<text x="101.5" y="541.2" font-size="10.3" fill="#d81b55" text-anchor="middle">103</text>
<text x="101.0" y="565.3" font-size="10.3" fill="#d81b55" text-anchor="middle">145</text>
<text x="47.6" y="616.4" font-size="10.3" fill="#d81b55" text-anchor="middle">43</text>
<text x="82.4" y="619.3" font-size="10.3" fill="#d81b55" text-anchor="middle">242</text>
<text x="139.3" y="625.0" font-size="10.3" fill="#d81b55" text-anchor="middle">217</text>
<text x="139.3" y="654.5" font-size="10.3" fill="#d81b55" text-anchor="middle">115</text>
<text x="105.2" y="552.7" font-size="10.3" fill="#111" text-anchor="start">−42</text>
<text x="144.6" y="631.0" font-size="10.3" fill="#111" text-anchor="start">−60</text>
<text x="144.6" y="643.7" font-size="10.3" fill="#111" text-anchor="start">−42</text>
<line x1="100.8" y1="555.7" x2="100.8" y2="547.5" stroke="#d81b55" stroke-width="1.4"/>
<polygon points="100.8,543.6 98.6,548.7 103.0,548.7" fill="#d81b55"/>
<line x1="139.9" y1="628.7" x2="139.9" y2="639.5" stroke="#d81b55" stroke-width="1.4"/>
<polygon points="139.9,643.9 137.7,638.8 142.1,638.8" fill="#d81b55"/>
<path d="M37.60,588.00 L47.50,603.90 L41.80,607.10" fill="none" stroke="#d81b55" stroke-width="1.65" stroke-linecap="round" stroke-dasharray="0.01 2.75"/>
<path d="M66.80,585.20 L80.00,608.50 L85.70,605.30" fill="none" stroke="#d81b55" stroke-width="1.65" stroke-linecap="round" stroke-dasharray="0.01 2.75"/>
<path d="M88.60,597.30 L104.20,574.40 L96.20,569.20" fill="none" stroke="#d81b55" stroke-width="1.65" stroke-linecap="round" stroke-dasharray="0.01 2.75"/>
<path d="M109.20,582.70 L132.10,614.00 L124.20,618.70" fill="none" stroke="#d81b55" stroke-width="1.65" stroke-linecap="round" stroke-dasharray="0.01 2.75"/>
<text x="88.1" y="663.8" font-size="10.4" fill="#111" text-anchor="middle" textLength="88.2" lengthAdjust="spacingAndGlyphs">Derivatized ribose</text>
<text x="88.1" y="676.6" font-size="10.4" fill="#111" text-anchor="middle" textLength="130.2" lengthAdjust="spacingAndGlyphs">(ribononitrile tetraacetate)</text>
<line x1="229.50" y1="653.4" x2="229.50" y2="648.82" stroke="#f01414" stroke-width="1.4"/>
<line x1="229.50" y1="653.4" x2="229.50" y2="531.40" stroke="#f01414" stroke-width="1.4"/>
<line x1="230.50" y1="653.4" x2="230.50" y2="645.47" stroke="#f01414" stroke-width="1.4"/>
<line x1="231.50" y1="653.4" x2="231.50" y2="646.38" stroke="#f01414" stroke-width="1.4"/>
<line x1="234.50" y1="653.4" x2="234.50" y2="652.18" stroke="#f01414" stroke-width="1.4"/>
<line x1="237.50" y1="653.4" x2="237.50" y2="651.88" stroke="#f01414" stroke-width="1.4"/>
<line x1="238.50" y1="653.4" x2="238.50" y2="651.88" stroke="#f01414" stroke-width="1.4"/>
<line x1="239.50" y1="653.4" x2="239.50" y2="652.18" stroke="#f01414" stroke-width="1.4"/>
<line x1="246.50" y1="653.4" x2="246.50" y2="650.04" stroke="#f01414" stroke-width="1.4"/>
<line x1="253.50" y1="653.4" x2="253.50" y2="651.26" stroke="#f01414" stroke-width="1.4"/>
<line x1="260.50" y1="653.4" x2="260.50" y2="650.96" stroke="#f01414" stroke-width="1.4"/>
<line x1="263.50" y1="653.4" x2="263.50" y2="615.88" stroke="#f01414" stroke-width="1.4"/>
<line x1="268.50" y1="653.4" x2="268.50" y2="650.35" stroke="#f01414" stroke-width="1.4"/>
<line x1="269.50" y1="653.4" x2="269.50" y2="649.43" stroke="#f01414" stroke-width="1.4"/>
<line x1="269.50" y1="653.4" x2="269.50" y2="612.23" stroke="#f01414" stroke-width="1.4"/>
<line x1="277.50" y1="653.4" x2="277.50" y2="651.88" stroke="#f01414" stroke-width="1.4"/>
<line x1="283.50" y1="653.4" x2="283.50" y2="648.82" stroke="#f01414" stroke-width="1.4"/>
<line x1="286.50" y1="653.4" x2="286.50" y2="613.75" stroke="#f01414" stroke-width="1.4"/>
<line x1="290.50" y1="653.4" x2="290.50" y2="649.43" stroke="#f01414" stroke-width="1.4"/>
<line x1="292.50" y1="653.4" x2="292.50" y2="645.77" stroke="#f01414" stroke-width="1.4"/>
<line x1="300.50" y1="653.4" x2="300.50" y2="651.88" stroke="#f01414" stroke-width="1.4"/>
<line x1="302.50" y1="653.4" x2="302.50" y2="647.00" stroke="#f01414" stroke-width="1.4"/>
<line x1="316.50" y1="653.4" x2="316.50" y2="649.13" stroke="#f01414" stroke-width="1.4"/>
<line x1="323.50" y1="653.4" x2="323.50" y2="651.57" stroke="#f01414" stroke-width="1.4"/>
<line x1="326.50" y1="653.4" x2="326.50" y2="646.69" stroke="#f01414" stroke-width="1.4"/>
<line x1="339.50" y1="653.4" x2="339.50" y2="650.35" stroke="#f01414" stroke-width="1.4"/>
<rect x="228.5" y="531.4" width="143.0" height="122.0" fill="none" stroke="#8a8a8a" stroke-width="1.1"/>
<line x1="223.8" y1="653.40" x2="228.5" y2="653.40" stroke="#8a8a8a" stroke-width="1.0"/>
<text x="219" y="656.50" font-size="8.6" text-anchor="end" fill="#222">0</text>
<line x1="223.8" y1="622.90" x2="228.5" y2="622.90" stroke="#8a8a8a" stroke-width="1.0"/>
<text x="219" y="626.00" font-size="8.6" text-anchor="end" fill="#222">10</text>
<line x1="223.8" y1="592.40" x2="228.5" y2="592.40" stroke="#8a8a8a" stroke-width="1.0"/>
<text x="219" y="595.50" font-size="8.6" text-anchor="end" fill="#222">20</text>
<line x1="223.8" y1="561.90" x2="228.5" y2="561.90" stroke="#8a8a8a" stroke-width="1.0"/>
<text x="219" y="565.00" font-size="8.6" text-anchor="end" fill="#222">30</text>
<line x1="223.8" y1="531.40" x2="228.5" y2="531.40" stroke="#8a8a8a" stroke-width="1.0"/>
<text x="219" y="534.50" font-size="8.6" text-anchor="end" fill="#222">40</text>
<line x1="228.30" y1="653.4" x2="228.30" y2="657.40" stroke="#8a8a8a" stroke-width="0.9"/>
<text x="228.30" y="668.60" font-size="8.6" text-anchor="middle" fill="#222">40</text>
<line x1="272.50" y1="653.4" x2="272.50" y2="657.40" stroke="#8a8a8a" stroke-width="0.9"/>
<text x="272.50" y="668.60" font-size="8.6" text-anchor="middle" fill="#222">120</text>
<line x1="316.70" y1="653.4" x2="316.70" y2="657.40" stroke="#8a8a8a" stroke-width="0.9"/>
<text x="316.70" y="668.60" font-size="8.6" text-anchor="middle" fill="#222">200</text>
<line x1="360.90" y1="653.4" x2="360.90" y2="657.40" stroke="#8a8a8a" stroke-width="0.9"/>
<text x="360.90" y="668.60" font-size="8.6" text-anchor="middle" fill="#222">280</text>
<text transform="translate(200.7,591.8) rotate(-90)" font-size="9.7" text-anchor="middle" fill="#222" textLength="69.8" lengthAdjust="spacingAndGlyphs">Relative int. (%)</text>
<text x="300.4" y="683.3" font-size="10.4" font-style="italic" text-anchor="middle" fill="#222">m/z</text>
<text x="233" y="545.3" font-size="10" fill="#222">43</text>
<text transform="translate(264.7,610.5) rotate(-90)" font-size="9.4" fill="#222">103</text>
<text transform="translate(274.7,604.7) rotate(-90)" font-size="9.4" fill="#222">115</text>
<text transform="translate(290.1,608.1) rotate(-90)" font-size="9.4" fill="#222">145</text>
<text transform="translate(344.1,646.5) rotate(-90)" font-size="9.4" fill="#222">242</text>
<text x="45.6" y="377.4" font-size="10.4" fill="#222" textLength="24.6" lengthAdjust="spacingAndGlyphs">Blank</text>
<text transform="translate(235.3,439.7) rotate(-90)" font-size="9.9" fill="#222" textLength="56.2" lengthAdjust="spacingAndGlyphs">Internal STD</text>
<text x="204.9" y="511.4" font-size="10.3" text-anchor="middle" fill="#222">Retention time (min)</text>
</svg>
</body></html>
